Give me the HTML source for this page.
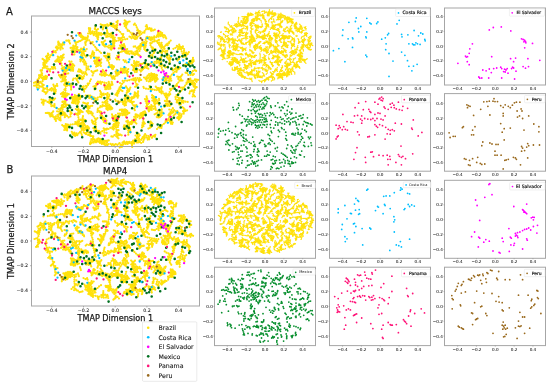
<!DOCTYPE html>
<html><head><meta charset="utf-8"><style>
html,body{margin:0;padding:0;background:#fff;}
svg{display:block;filter:blur(0.25px);font-family:'DejaVu Sans', 'Liberation Sans', sans-serif;}
</style></head><body>
<svg width="550" height="387" viewBox="0 0 550 387">
<rect width="550" height="387" fill="#fff"/>
<path d="M305.0 28.2h0M305.4 27.4h0M305.8 26.6h0M289.7 74.8h0M232.3 68.0h0M232.3 68.9h0M232.3 69.8h0M289.0 73.7h0M288.1 73.5h0M287.2 73.3h0M268.9 59.6h0M269.5 59.0h0M288.5 72.5h0M287.6 72.4h0M286.7 72.3h0M293.9 34.2h0M292.9 33.3h0M221.4 32.0h0M220.6 32.2h0M249.8 49.4h0M275.9 14.7h0M275.6 13.9h0M275.3 13.0h0M302.4 28.6h0M302.0 27.8h0M270.3 29.3h0M264.3 63.5h0M265.0 63.0h0M265.7 62.4h0M224.8 44.8h0M243.1 54.9h0M242.4 54.2h0M241.7 53.6h0M245.6 54.8h0M298.4 43.2h0M299.2 42.8h0M300.0 42.4h0M227.2 61.8h0M297.8 45.7h0M250.1 46.9h0M265.5 64.0h0M266.7 64.5h0M301.2 29.0h0M300.5 28.4h0M234.7 67.3h0M307.4 33.4h0M306.5 33.2h0M270.1 61.7h0M270.2 62.6h0M268.3 52.2h0M267.5 52.8h0M266.8 53.3h0M241.8 54.8h0M277.3 67.5h0M299.9 29.2h0M299.4 30.0h0M299.0 30.7h0M298.6 29.5h0M244.8 35.6h0M278.5 15.4h0M279.1 14.7h0M279.7 14.1h0M271.2 28.4h0M271.1 27.5h0M272.5 28.5h0M261.9 62.7h0M292.1 32.4h0M292.1 31.5h0M225.0 46.1h0M284.2 31.5h0M285.1 31.5h0M286.0 31.6h0M288.1 71.3h0M288.7 70.6h0M267.8 65.1h0M269.3 31.7h0M274.7 14.3h0M274.4 13.5h0M271.0 62.7h0M289.5 72.5h0M290.4 72.3h0M291.3 72.1h0M287.7 70.1h0M288.3 69.4h0M288.9 68.8h0M236.0 67.5h0M236.8 66.9h0M237.5 66.4h0M288.4 74.8h0M287.9 74.0h0M287.4 73.3h0M306.2 28.6h0M297.4 47.0h0M298.1 47.6h0M284.7 30.3h0M234.4 28.4h0M233.6 28.1h0M232.7 27.8h0M250.2 45.6h0M249.6 44.9h0M249.0 44.2h0M291.3 31.3h0M223.5 33.7h0M223.6 34.6h0M273.4 14.1h0M283.1 33.8h0M273.8 28.8h0M274.5 28.3h0M275.2 27.7h0M233.2 28.9h0M233.1 29.8h0M298.6 42.0h0M299.5 41.7h0M268.8 32.9h0M269.1 33.7h0M290.1 71.4h0M278.1 65.0h0M277.5 64.4h0M272.3 27.6h0M272.4 26.8h0M237.3 67.6h0M291.1 30.1h0M290.3 29.7h0M289.5 29.3h0M287.1 75.0h0M282.6 35.0h0M281.8 35.3h0M280.9 35.6h0M270.8 52.4h0M271.5 53.0h0M272.1 53.6h0M290.7 70.2h0M290.3 69.4h0M289.9 68.6h0M224.4 34.6h0M229.8 61.8h0M298.7 40.7h0M224.7 42.2h0M225.4 41.7h0M226.2 41.2h0M245.5 36.7h0M246.4 36.7h0M247.3 36.6h0M276.8 68.7h0M277.1 69.5h0M238.3 68.4h0M224.5 41.0h0M232.0 29.4h0M279.6 16.0h0M280.5 15.8h0M281.3 15.6h0M250.5 44.3h0M250.0 43.6h0M249.4 42.9h0M272.1 52.4h0M272.8 51.7h0M273.4 51.0h0M291.4 69.2h0M298.6 39.4h0M298.0 38.8h0M306.5 34.4h0M306.6 35.3h0M306.7 36.2h0M224.4 39.7h0M285.3 29.2h0M287.0 69.0h0M246.9 54.8h0M247.6 55.4h0M248.3 56.0h0M285.9 28.0h0M286.7 27.7h0M287.6 27.3h0M285.8 75.3h0M290.6 30.2h0M289.7 30.2h0M267.0 51.9h0M266.3 52.4h0M225.2 47.4h0M248.2 54.9h0M248.8 55.6h0M249.4 56.2h0M225.4 35.4h0M225.4 36.3h0M225.3 37.2h0M276.3 69.8h0M276.8 70.5h0M277.4 71.2h0M290.0 29.1h0M289.1 29.0h0M288.2 28.9h0M243.5 33.4h0M265.8 51.3h0M280.7 16.6h0M280.9 17.5h0M281.0 18.4h0M290.3 27.8h0M290.4 26.6h0M291.0 25.9h0M291.7 25.3h0M286.7 27.0h0M251.0 43.1h0M251.9 42.9h0M296.1 35.5h0M296.2 36.4h0M225.2 48.7h0M260.7 62.1h0M259.9 62.7h0M259.2 63.2h0M291.2 28.8h0M291.8 28.1h0M268.7 58.4h0M297.4 29.4h0M272.2 13.8h0M268.7 66.1h0M268.4 67.0h0M268.1 67.8h0M296.1 29.0h0M264.7 50.7h0M263.9 51.0h0M297.3 35.9h0M273.4 52.3h0M274.0 51.6h0M274.5 50.9h0M249.5 54.6h0M250.0 53.9h0M245.9 37.9h0M246.8 38.1h0M247.7 38.3h0M282.3 36.3h0M249.8 50.7h0M292.2 68.2h0M292.2 67.3h0M236.6 27.0h0M263.5 50.2h0M263.4 49.3h0M223.4 38.9h0M283.0 37.4h0M283.9 37.4h0M284.8 37.5h0M268.6 57.1h0M275.0 29.4h0M269.4 67.1h0M269.2 68.0h0M268.9 68.9h0M294.9 28.5h0M231.1 61.7h0M239.4 69.1h0M240.2 68.7h0M241.0 68.3h0M242.8 32.3h0M281.9 17.2h0M251.5 42.0h0M252.4 41.7h0M253.2 41.3h0M283.1 17.6h0M226.5 36.1h0M227.3 35.9h0M228.2 35.6h0M284.3 37.3h0M222.4 38.0h0M222.5 37.1h0M296.8 48.1h0M297.1 49.0h0M297.3 49.8h0M270.4 68.0h0M261.9 61.4h0M284.4 18.0h0M284.6 18.8h0M284.9 19.7h0M305.6 35.3h0M275.5 70.9h0M227.5 36.8h0M285.5 18.7h0M274.7 52.0h0M275.4 52.5h0M276.2 53.1h0M286.6 19.3h0M286.8 20.1h0M287.1 21.0h0M304.4 35.9h0M241.9 31.4h0M242.1 30.5h0M287.8 19.8h0M288.6 19.4h0M237.8 26.5h0M260.3 60.9h0M259.5 60.5h0M303.2 36.3h0M230.9 30.0h0M260.1 59.6h0M268.1 33.9h0M268.4 34.7h0M232.4 61.8h0M260.0 58.3h0M275.5 51.0h0M275.2 50.2h0M274.9 49.3h0M250.3 42.1h0M249.4 41.9h0M248.5 41.7h0M273.5 27.1h0M273.8 26.3h0M274.2 25.5h0M281.9 37.5h0M250.7 55.2h0M250.9 56.0h0M251.2 56.9h0M239.3 70.4h0M238.6 70.9h0M237.8 71.5h0M239.1 26.1h0M239.3 25.3h0M239.6 24.4h0M240.3 25.7h0M241.1 26.1h0M241.9 26.5h0M259.4 61.7h0M259.0 61.0h0M258.5 60.2h0M286.5 67.8h0M287.0 67.0h0M287.4 66.3h0M251.9 40.7h0M241.5 25.1h0M242.3 25.3h0M243.2 25.5h0M252.2 39.5h0M276.2 29.7h0M276.9 29.2h0M277.6 28.6h0M228.5 37.7h0M228.4 38.6h0M260.2 57.0h0M262.4 60.2h0M263.7 60.3h0M264.0 61.2h0M264.3 62.0h0M262.2 49.9h0M261.6 50.5h0M261.0 51.2h0M251.2 38.8h0M222.3 38.2h0M249.6 41.0h0M249.9 40.2h0M278.4 63.8h0M277.8 63.1h0M277.1 62.5h0M242.5 24.4h0M243.4 24.6h0M260.2 55.8h0M243.2 23.3h0M244.1 23.1h0M245.0 23.0h0M271.3 68.9h0M221.3 37.3h0M289.0 19.3h0M289.3 18.5h0M274.6 26.4h0M274.6 25.5h0M239.0 71.7h0M239.6 72.4h0M240.2 73.0h0M238.8 73.0h0M276.2 49.9h0M243.9 22.2h0M240.5 69.8h0M240.5 70.7h0M260.1 54.5h0M284.5 75.5h0M283.9 74.9h0M283.2 74.3h0M251.8 55.9h0M251.7 56.8h0M251.7 57.7h0M290.3 19.0h0M291.0 19.5h0M291.7 20.1h0M244.7 21.2h0M293.0 67.1h0M285.5 36.9h0M285.7 36.0h0M251.0 37.5h0M250.2 37.0h0M249.4 36.6h0M241.7 70.4h0M242.6 70.2h0M243.4 70.0h0M261.0 49.4h0M260.9 48.5h0M220.4 36.4h0M219.5 36.6h0M302.0 36.7h0M301.6 37.5h0M301.3 38.3h0M278.2 62.5h0M278.7 61.8h0M279.3 61.1h0M276.0 51.7h0M258.3 61.0h0M257.5 61.4h0M256.7 61.8h0M241.0 30.4h0M267.1 34.8h0M267.3 35.7h0M267.5 36.5h0M260.0 48.7h0M257.1 60.7h0M256.6 59.9h0M286.2 66.5h0M285.4 66.2h0M284.5 65.9h0M224.3 49.5h0M224.3 50.4h0M224.4 51.3h0M281.4 38.7h0M280.6 39.0h0M279.7 39.3h0M274.6 71.8h0M273.7 71.7h0M272.8 71.6h0M286.7 36.5h0M252.8 56.7h0M251.1 36.2h0M251.9 35.7h0M252.6 35.2h0M259.9 53.2h0M219.4 35.6h0M218.5 35.8h0M217.7 36.1h0M275.9 49.8h0M276.1 48.5h0M276.9 48.1h0M293.9 66.2h0M293.8 65.3h0M233.6 61.5h0M270.9 13.5h0M270.2 14.1h0M277.2 51.5h0M277.7 50.7h0M278.2 50.0h0M253.9 57.4h0M254.7 57.3h0M275.6 25.6h0M275.4 24.8h0M271.7 63.8h0M271.4 64.6h0M278.5 51.5h0M279.1 50.8h0M269.6 13.2h0M273.7 72.7h0M223.5 50.6h0M222.6 50.5h0M221.7 50.4h0M280.8 39.8h0M279.9 40.1h0M279.1 40.4h0M278.1 61.2h0M277.4 30.2h0M278.3 29.9h0M279.1 29.6h0M229.5 38.5h0M268.3 13.0h0M277.2 49.0h0M277.1 48.2h0M229.7 30.5h0M229.4 31.3h0M289.1 20.0h0M221.5 37.1h0M288.0 36.1h0M288.8 36.5h0M289.5 37.0h0M289.1 35.6h0M234.9 61.4h0M236.2 61.3h0M236.8 62.0h0M237.4 62.7h0M272.5 64.7h0M272.5 65.6h0M272.5 66.5h0M252.9 38.3h0M253.7 38.2h0M254.6 38.1h0M237.5 61.2h0M238.0 61.9h0M238.6 62.6h0M238.7 74.2h0M225.2 49.9h0M224.4 50.5h0M223.7 51.0h0M273.4 65.7h0M266.1 35.7h0M265.3 35.4h0M264.4 35.2h0M290.3 20.3h0M272.8 73.7h0M273.1 74.5h0M296.3 49.3h0M254.0 56.3h0M254.4 55.5h0M239.8 29.8h0M276.5 24.7h0M277.6 60.0h0M278.3 59.3h0M225.0 51.2h0M224.2 51.6h0M251.1 34.9h0M251.6 34.2h0M291.6 20.5h0M255.3 56.0h0M255.5 55.2h0M224.1 52.1h0M265.0 60.4h0M265.6 59.7h0M283.2 75.4h0M282.7 74.7h0M282.2 74.0h0M253.6 37.3h0M230.7 39.1h0M231.5 38.7h0M223.1 53.0h0M223.2 53.9h0M278.6 30.7h0M279.0 31.5h0M279.4 32.3h0M242.9 70.9h0M243.6 70.5h0M244.4 70.0h0M264.6 59.4h0M265.4 59.6h0M266.3 59.7h0M228.5 31.0h0M245.5 20.2h0M238.8 61.1h0M231.8 39.7h0M232.6 39.4h0M240.1 60.7h0M240.4 59.9h0M243.9 71.7h0M265.0 36.4h0M241.2 60.1h0M241.3 59.2h0M263.9 36.9h0M263.6 37.7h0M263.3 38.6h0M224.6 52.4h0M223.8 52.8h0M256.4 55.4h0M283.5 38.5h0M284.4 38.6h0M285.3 38.6h0M276.7 47.4h0M267.1 12.7h0M266.7 11.9h0M280.0 40.9h0M239.7 75.1h0M277.7 24.2h0M278.5 24.6h0M251.2 33.6h0M250.6 32.9h0M234.0 60.3h0M233.6 59.5h0M264.9 58.2h0M265.8 12.3h0M265.1 12.8h0M264.3 13.2h0M264.6 56.9h0M265.3 56.3h0M265.9 55.6h0M282.0 75.3h0M281.4 74.6h0M280.9 73.8h0M251.3 32.3h0M250.8 31.6h0M250.3 30.9h0M264.4 55.6h0M227.4 31.7h0M255.8 60.7h0M234.6 59.1h0M234.2 58.3h0M233.8 57.5h0M294.7 65.2h0M294.5 64.3h0M294.3 63.4h0M277.3 46.2h0M278.2 46.0h0M279.0 45.7h0M278.9 23.8h0M223.7 53.4h0M224.0 54.2h0M277.9 45.0h0M277.5 44.2h0M277.3 43.9h0M286.0 65.2h0M286.6 64.6h0M287.2 63.9h0M277.3 58.7h0M295.9 50.5h0M296.2 51.3h0M296.6 52.2h0M240.5 54.6h0M240.1 53.8h0M277.2 57.4h0M277.8 56.8h0M278.3 56.1h0M233.0 40.1h0M233.4 41.0h0M287.1 65.6h0M286.8 64.7h0M244.9 72.5h0M275.2 47.6h0M279.8 51.6h0M276.9 56.2h0M277.5 55.5h0M278.0 54.8h0M254.8 61.6h0M254.7 62.5h0M296.0 64.9h0M235.2 58.0h0M280.7 75.4h0M280.0 74.7h0M253.7 62.2h0M253.6 63.1h0M278.2 57.7h0M279.1 57.8h0M280.0 57.8h0M246.4 19.3h0M276.8 42.7h0M275.9 42.5h0M264.7 11.8h0M264.5 10.9h0M251.3 31.1h0M239.2 54.5h0M252.6 62.8h0M280.2 23.4h0M280.5 22.6h0M280.9 21.8h0M263.9 54.4h0M280.6 52.6h0M251.5 63.6h0M250.7 63.4h0M249.8 63.1h0M246.5 18.0h0M247.3 17.6h0M248.1 17.1h0M250.4 64.2h0M249.5 63.9h0M248.7 63.6h0M237.9 54.5h0M274.3 46.7h0M273.4 46.8h0M275.6 55.9h0M247.2 18.2h0M248.1 18.2h0M276.3 41.5h0M276.7 40.7h0M232.3 40.9h0M233.2 41.1h0M283.9 39.8h0M281.5 53.6h0M271.9 74.6h0M286.0 63.9h0M232.6 42.2h0M231.9 42.8h0M279.7 31.4h0M279.8 32.3h0M279.8 33.2h0M263.5 11.1h0M262.7 11.3h0M261.8 11.6h0M248.0 17.2h0M248.5 16.0h0M248.0 15.3h0M247.4 14.5h0M295.5 64.2h0M259.0 47.9h0M282.4 54.5h0M283.3 54.5h0M296.5 63.3h0M296.3 62.4h0M249.3 15.0h0M249.1 14.1h0M248.8 13.3h0M292.8 21.1h0M233.1 43.4h0M233.9 43.5h0M234.8 43.6h0M281.1 51.4h0M281.7 50.7h0M280.1 74.2h0M279.2 74.1h0M233.6 44.6h0M240.7 75.9h0M257.8 47.3h0M251.5 29.8h0M252.2 29.3h0M253.0 28.9h0M284.3 41.0h0M283.8 41.7h0M283.4 42.5h0M223.0 54.5h0M222.1 54.5h0M221.2 54.5h0M284.6 42.2h0M284.1 43.0h0M283.6 43.7h0M249.7 15.5h0M241.9 76.4h0M241.9 77.3h0M246.2 72.9h0M247.0 72.4h0M250.4 14.3h0M250.6 13.5h0M297.2 62.2h0M297.1 61.4h0M236.6 54.2h0M279.1 56.8h0M283.3 55.4h0M247.4 73.3h0M247.8 74.2h0M248.2 75.0h0M243.0 77.1h0M243.8 76.9h0M244.7 76.6h0M234.3 40.4h0M284.4 56.2h0M250.9 15.2h0M239.4 75.3h0M298.2 61.4h0M262.6 37.3h0M261.8 36.9h0M261.0 36.4h0M275.9 40.3h0M275.0 40.0h0M279.9 72.9h0M295.3 51.7h0M295.6 52.5h0M295.9 53.3h0M273.3 45.8h0M273.4 44.9h0M285.1 43.4h0M297.3 64.8h0M297.7 65.6h0M274.4 56.3h0M273.6 55.8h0M272.9 55.2h0M282.4 51.2h0M283.1 51.8h0M281.3 22.8h0M281.6 21.9h0M281.9 21.1h0M235.3 53.9h0M246.6 16.7h0M247.3 16.2h0M248.1 15.8h0M251.6 13.8h0M252.4 14.3h0M253.2 14.7h0M251.3 14.0h0M250.8 13.3h0M251.4 28.5h0M250.7 27.9h0M282.4 22.1h0M282.6 21.2h0M282.8 20.4h0M273.2 56.7h0M272.7 57.5h0M272.3 58.3h0M234.3 45.6h0M234.0 46.4h0M288.0 64.7h0M288.0 63.8h0M287.9 62.9h0M283.7 51.2h0M284.1 50.4h0M284.6 49.6h0M272.3 45.0h0M252.2 15.1h0M252.7 14.4h0M289.1 64.0h0M290.0 64.2h0M290.9 64.4h0M286.0 62.7h0M271.3 44.2h0M271.2 43.3h0M261.4 37.7h0M260.6 37.2h0M259.9 36.7h0M256.6 46.9h0M255.8 47.3h0M279.4 75.5h0M278.6 75.0h0M242.3 59.3h0M243.1 59.6h0M285.6 44.6h0M243.4 58.7h0M244.2 59.1h0M235.6 40.5h0M279.6 71.7h0M280.2 71.1h0M249.3 65.0h0M248.6 73.7h0M249.4 73.1h0M248.5 65.9h0M247.6 65.8h0M246.7 65.6h0M234.1 53.5h0M233.8 52.7h0M286.2 45.8h0M285.9 46.6h0M247.6 66.9h0M236.9 40.6h0M237.5 41.3h0M255.3 46.5h0M255.1 45.6h0M235.3 46.5h0M236.2 46.5h0M280.5 70.7h0M285.0 51.1h0M285.5 51.8h0M286.0 52.5h0M286.5 47.0h0M287.3 47.5h0M238.2 40.5h0M238.7 39.8h0M239.3 39.1h0M299.0 60.4h0M298.9 59.5h0M298.8 58.6h0M239.5 40.3h0M240.1 41.0h0M232.8 53.4h0M232.2 52.7h0M290.2 63.2h0M290.4 62.4h0M290.5 61.5h0M240.7 75.6h0M222.2 55.5h0M221.3 55.6h0M220.4 55.6h0M291.3 62.6h0M275.5 39.1h0M299.8 59.4h0M299.8 58.5h0M299.7 57.6h0M246.5 67.7h0M246.4 68.6h0M246.4 69.4h0M254.0 46.3h0M251.2 27.2h0M251.8 26.5h0M252.4 25.8h0M299.7 58.1h0M260.1 37.8h0M259.4 37.2h0M286.2 50.7h0M231.5 53.5h0M231.1 54.3h0M230.8 55.1h0M294.4 52.6h0M244.2 77.6h0M244.5 78.4h0M240.8 40.3h0M251.1 25.9h0M299.7 56.8h0M299.0 56.3h0M298.2 55.8h0M230.5 52.7h0M275.4 37.8h0M270.4 43.2h0M270.7 42.4h0M271.0 41.6h0M269.6 42.2h0M269.0 41.1h0M269.4 40.3h0M269.7 39.4h0M293.6 53.6h0M275.2 36.5h0M274.4 36.1h0M273.6 35.6h0M249.8 74.3h0M251.0 74.8h0M251.8 74.3h0M252.6 73.9h0M292.5 62.0h0M293.3 62.4h0M294.1 62.7h0M236.1 47.5h0M236.6 46.5h0M237.1 45.7h0M285.2 57.2h0M286.1 57.2h0M268.9 39.8h0M281.2 69.7h0M245.4 68.2h0M244.5 67.9h0M243.7 67.6h0M230.2 53.5h0M229.6 52.8h0M229.0 52.2h0M299.8 55.5h0M299.1 54.9h0M298.5 54.3h0M285.9 61.4h0M286.6 60.9h0M275.0 35.2h0M274.1 34.9h0M242.1 40.1h0M293.1 60.9h0M276.1 35.6h0M271.0 75.5h0M293.7 59.7h0M293.3 59.0h0M237.9 46.6h0M252.3 75.0h0M253.0 74.5h0M251.1 24.6h0M251.7 24.0h0M236.7 48.7h0M236.2 49.4h0M235.7 50.2h0M258.8 37.6h0M228.9 53.8h0M228.3 53.2h0M227.6 52.6h0M251.1 23.3h0M250.5 22.7h0M274.7 34.0h0M273.9 33.6h0M237.2 49.9h0M294.2 58.6h0M229.6 51.8h0M228.7 51.9h0M227.8 52.1h0M270.0 76.4h0M269.9 77.2h0M299.8 54.2h0M300.5 53.6h0M301.1 53.0h0M239.1 46.9h0M245.5 77.9h0M281.6 68.5h0M281.3 67.7h0M278.1 75.8h0M298.6 54.0h0M297.9 54.7h0M297.3 55.3h0M277.0 34.6h0M251.2 22.1h0M273.8 33.1h0M238.1 50.8h0M239.0 50.6h0M240.3 47.4h0M240.7 48.3h0M300.0 53.0h0M300.9 52.6h0M301.7 52.3h0M282.5 67.5h0M282.3 66.6h0M282.2 65.7h0M292.8 54.6h0M300.7 58.4h0M246.7 78.3h0M257.5 37.3h0M256.9 38.0h0M256.3 38.6h0M301.2 57.2h0M300.9 56.4h0M241.6 47.8h0M242.3 47.2h0M300.3 51.7h0M299.8 51.0h0M299.3 50.3h0M251.4 20.8h0M252.2 20.3h0M253.0 19.9h0M300.5 50.4h0M247.9 78.6h0M268.9 76.9h0M268.7 77.8h0M268.5 78.7h0M267.7 77.6h0M300.8 49.2h0M242.8 48.0h0M243.2 48.8h0M249.2 78.9h0M249.9 78.3h0M258.1 36.5h0M257.3 36.3h0M256.4 36.0h0M244.1 48.4h0M244.6 49.2h0M253.6 75.1h0M254.8 75.4h0M256.1 75.6h0M256.8 75.0h0M251.8 19.6h0M252.7 19.4h0M257.4 75.7h0M258.0 76.4h0M258.5 77.1h0M258.7 75.8h0M259.1 76.6h0M259.5 77.4h0M295.4 58.0h0M266.7 78.3h0M266.5 79.2h0M265.7 79.1h0M265.8 80.0h0M268.7 38.5h0M260.0 76.0h0M260.5 76.8h0M253.0 19.0h0M253.8 19.4h0M245.3 48.9h0M245.5 49.8h0M245.7 50.6h0M276.8 75.6h0M276.4 74.8h0M291.8 55.5h0M291.0 55.3h0M290.1 55.1h0M245.8 50.1h0M290.8 56.3h0M250.5 79.2h0M251.2 78.7h0M251.9 78.1h0M254.2 18.6h0M264.6 79.8h0M264.5 80.7h0M269.9 38.0h0M289.7 57.1h0M271.1 37.5h0M272.0 37.8h0M255.4 18.0h0M255.4 17.1h0M255.4 16.2h0M271.7 38.7h0M271.3 39.5h0M270.9 40.3h0M289.8 58.4h0M290.5 58.9h0M291.2 59.5h0M257.5 35.4h0M257.7 34.5h0M301.4 48.0h0M300.9 47.3h0M256.7 34.3h0M263.4 80.4h0M301.8 46.8h0M302.7 46.5h0M303.5 46.2h0M251.7 79.7h0M251.9 80.6h0M252.1 81.5h0M302.4 45.6h0M301.9 44.9h0M261.3 76.1h0M256.5 17.3h0M256.0 33.2h0M262.6 76.2h0M263.2 75.5h0M289.2 59.5h0M289.8 60.2h0M290.3 61.0h0M257.6 16.6h0M257.5 15.7h0M257.4 14.8h0M302.9 44.4h0M255.3 32.2h0M255.5 31.3h0M255.8 30.5h0M303.4 43.2h0M303.0 42.4h0M303.8 42.0h0M263.8 75.7h0M264.6 76.1h0M262.2 80.9h0M261.9 81.7h0M261.6 82.6h0M304.3 40.8h0M303.8 40.1h0M303.2 39.4h0M304.8 39.7h0M304.5 38.8h0M304.1 38.0h0M258.7 16.0h0M259.8 15.3h0M261.0 14.9h0M261.9 15.2h0M262.7 15.5h0M255.1 30.9h0M262.3 14.7h0M262.7 13.9h0M260.9 81.2h0M259.6 81.1h0M259.0 80.5h0M263.0 15.8h0M255.8 29.8h0M256.6 28.8h0M263.6 16.9h0M263.3 17.8h0M263.0 18.6h0M264.3 18.0h0M263.9 18.8h0M264.6 19.3h0M265.4 19.7h0M257.6 27.9h0M258.4 28.1h0M258.7 27.3h0M258.8 26.5h0M259.9 26.8h0M260.7 27.2h0M265.0 20.5h0M265.8 21.0h0M266.5 21.5h0M265.3 21.8h0M265.6 23.0h0M265.1 23.7h0M261.1 26.4h0M261.8 27.0h0M262.2 25.6h0M262.2 24.7h0M262.1 23.9h0M266.0 24.3h0M266.5 25.5h0M265.9 26.2h0M267.0 26.6h0M266.7 27.9h0M265.9 28.2h0M266.0 29.0h0M265.5 30.2h0M264.6 30.4h0M264.9 31.3h0M264.1 31.6h0M279.0 65.7h0M245.9 21.5h0M246.3 22.3h0M246.7 23.1h0M247.1 21.9h0M247.8 21.3h0M235.4 68.5h0M286.5 17.8h0M287.4 17.9h0M288.3 17.9h0M287.4 16.9h0M288.2 17.1h0M289.1 17.3h0M298.1 30.6h0M297.5 31.8h0M263.6 31.6h0M263.1 32.3h0M262.4 31.8h0M261.1 32.1h0M260.6 32.8h0M260.1 33.6h0M259.9 31.7h0M259.0 32.0h0M258.2 32.4h0M287.6 21.1h0M288.2 21.8h0M288.8 22.4h0M287.3 22.3h0M290.2 36.3h0M291.4 36.9h0M292.4 37.7h0M293.4 38.6h0M294.2 38.3h0M294.4 39.4h0M294.6 40.2h0M294.7 41.1h0M294.6 40.6h0M293.9 41.2h0M294.4 41.9h0M294.2 43.2h0M294.3 44.5h0M293.7 45.2h0M293.5 45.5h0M292.6 45.6h0M291.7 45.6h0M293.2 44.0h0M292.3 43.9h0M291.4 43.8h0M292.5 46.3h0M292.3 44.9h0M291.5 47.2h0M291.4 48.0h0M291.3 48.9h0M276.3 50.4h0M261.8 36.3h0M277.3 63.1h0M277.3 62.2h0M276.0 62.8h0M249.7 37.2h0M249.3 36.4h0M276.3 35.7h0M277.4 35.2h0M278.2 35.6h0M279.0 36.0h0M278.6 35.6h0M278.8 36.5h0M280.1 76.5h0M279.6 77.7h0M279.4 61.9h0M279.4 61.0h0M279.5 60.1h0M280.5 61.4h0M280.8 60.5h0M281.1 59.7h0M281.6 60.6h0M282.2 59.5h0M286.4 73.9h0M257.7 46.1h0M256.9 45.7h0M258.0 44.8h0M257.5 44.1h0M258.2 43.5h0M258.9 42.4h0M259.9 41.6h0M260.8 41.8h0M241.9 30.1h0M242.5 28.9h0M302.1 29.9h0M302.2 31.2h0M301.5 31.7h0M300.8 32.3h0M302.1 32.4h0M301.4 33.0h0M280.6 42.0h0M281.4 42.3h0M252.5 21.8h0M253.0 21.1h0M253.6 20.4h0M253.8 21.6h0M254.4 20.9h0M254.9 20.2h0M237.5 73.2h0M277.9 52.6h0M278.7 52.9h0M278.6 25.0h0M279.8 25.7h0M279.9 26.6h0M280.0 27.5h0M280.9 26.3h0M282.0 26.9h0M284.6 55.2h0M285.9 54.9h0M286.6 55.6h0M287.2 56.2h0M235.5 60.3h0M236.4 60.3h0M236.3 59.3h0M274.7 56.8h0M273.8 56.8h0M273.7 57.7h0M273.7 58.6h0M272.8 58.6h0M272.0 58.5h0M240.3 71.1h0M280.6 71.0h0M281.4 71.4h0M281.8 70.3h0M282.5 70.8h0M278.7 16.6h0M278.9 17.9h0M279.0 19.2h0M279.8 19.6h0M280.6 20.0h0M247.7 19.4h0M248.2 20.2h0M284.9 74.4h0M284.0 74.4h0M284.0 73.4h0M283.1 73.3h0M282.3 73.2h0M290.6 55.2h0M233.0 30.2h0M232.9 31.5h0M232.1 31.8h0M232.6 32.7h0M232.1 33.9h0M231.2 34.0h0M230.3 34.0h0M231.3 34.9h0M230.4 34.8h0M270.4 51.3h0M271.4 50.5h0M272.1 75.9h0M271.5 76.6h0M271.0 77.3h0M272.2 77.2h0M272.4 78.4h0M272.6 79.7h0M272.0 80.4h0M271.4 81.0h0M273.9 80.0h0M241.5 32.5h0M240.9 31.9h0M240.2 32.5h0M238.9 32.4h0M239.7 33.7h0M239.1 34.8h0M239.5 35.6h0M239.9 36.4h0M238.5 35.9h0M237.5 36.8h0M237.7 37.7h0M291.4 71.2h0M292.6 70.7h0M292.8 69.8h0M293.0 69.0h0M293.6 71.5h0M294.7 72.3h0M294.8 73.1h0M294.8 74.0h0M247.5 17.2h0M247.5 16.3h0M242.0 49.0h0M242.6 50.1h0M242.3 51.0h0M259.2 46.6h0M260.0 46.1h0M260.7 45.6h0M228.0 38.9h0M227.2 39.0h0M226.3 39.1h0M228.2 40.1h0M229.0 40.6h0M229.8 41.0h0M228.5 41.4h0M227.9 42.1h0M227.3 42.8h0M228.9 42.6h0M229.0 43.9h0M229.6 44.6h0M230.2 45.2h0M229.2 45.2h0M229.9 45.7h0M229.3 46.5h0M229.7 47.7h0M239.8 72.7h0M240.7 72.7h0M241.6 72.6h0M296.1 27.7h0M296.1 26.4h0M295.3 26.0h0M296.0 25.1h0M295.2 24.6h0M296.2 23.8h0M295.5 23.2h0M274.9 15.4h0M274.0 15.3h0M273.9 16.2h0M272.7 16.8h0M271.9 16.4h0M271.7 17.6h0M271.6 18.5h0M271.6 19.4h0M270.6 18.3h0M269.6 19.2h0M268.8 20.2h0M268.8 21.0h0M268.8 21.9h0M276.9 60.6h0M276.8 59.7h0M281.8 52.5h0M282.7 52.6h0M283.6 52.7h0M262.2 15.5h0M263.0 15.0h0M263.5 15.3h0M293.1 52.7h0M291.8 52.6h0M291.3 53.3h0M240.2 41.4h0M240.8 42.5h0M241.7 42.6h0M241.4 43.7h0M242.7 44.0h0M243.9 44.4h0M245.1 44.1h0M246.4 43.9h0M272.7 13.0h0M271.7 12.2h0M237.0 45.2h0M236.6 44.4h0M236.2 43.7h0M237.7 46.3h0M237.5 47.2h0M237.3 48.1h0M255.6 47.8h0M254.6 48.5h0M258.4 14.7h0M258.1 13.4h0M258.0 12.2h0M258.6 11.5h0M259.2 10.8h0M293.9 32.9h0M292.9 32.0h0M268.3 42.4h0M267.0 42.5h0M266.3 41.9h0M265.7 42.5h0M265.1 43.1h0M264.4 43.7h0M264.4 42.3h0M263.7 42.9h0M263.0 43.4h0M243.6 25.2h0M243.7 26.0h0M244.7 25.8h0M245.8 26.5h0M246.7 26.4h0M247.6 26.3h0M246.7 27.4h0M247.6 27.4h0M247.6 28.3h0M247.4 29.2h0M247.2 30.1h0M278.3 56.9h0M284.3 37.5h0M285.5 37.6h0M249.4 72.7h0M250.4 71.8h0M251.3 71.9h0M252.2 72.0h0M251.5 71.1h0M251.7 70.3h0M251.8 69.4h0M252.6 70.5h0M253.5 70.6h0M254.4 70.8h0M253.8 69.9h0M254.0 69.0h0M254.8 69.1h0M254.8 68.2h0M254.8 67.3h0M256.0 68.5h0M257.2 67.9h0M258.0 68.3h0M258.8 68.7h0M258.4 67.7h0M259.7 67.7h0M261.0 68.1h0M261.8 67.6h0M262.5 67.2h0M262.2 68.4h0M262.6 69.2h0M262.9 70.0h0M263.5 68.8h0M264.7 69.0h0M265.0 69.9h0M265.3 70.7h0M266.0 69.3h0M266.7 70.4h0M266.2 71.2h0M267.2 71.6h0M267.3 72.9h0M266.7 73.6h0M266.2 74.3h0M266.4 50.7h0M265.6 50.5h0M264.7 50.3h0M266.3 49.4h0M265.6 49.0h0M264.8 48.5h0M266.1 48.2h0M266.6 47.5h0M267.2 46.7h0M265.8 46.9h0M278.1 15.9h0M279.0 15.8h0M279.0 16.8h0M300.3 28.1h0M300.5 27.2h0M300.7 26.3h0M245.2 53.8h0M246.1 35.5h0M246.6 34.8h0M246.4 34.2h0M247.2 33.9h0M246.9 33.0h0M246.4 32.3h0M256.2 61.6h0M255.3 62.5h0M254.4 62.4h0M253.5 62.2h0M253.2 40.7h0M253.7 40.0h0M254.2 39.3h0M254.5 40.7h0M255.1 40.1h0M268.5 13.9h0M267.5 14.8h0M284.4 50.1h0M284.0 49.3h0M283.5 48.5h0M276.5 38.2h0M277.4 38.1h0M283.6 35.8h0M284.5 35.6h0M229.6 54.7h0M229.9 55.5h0M229.1 55.8h0M229.5 56.7h0M229.8 57.5h0M228.5 57.0h0M228.8 57.8h0M227.9 58.1h0M227.0 58.2h0M301.9 58.8h0M302.3 59.6h0M302.7 60.4h0M303.2 59.2h0M303.4 60.0h0M304.4 59.4h0M304.7 60.3h0M305.0 61.1h0M305.7 59.8h0M306.4 59.3h0M307.2 58.8h0M289.9 58.3h0M254.2 19.5h0M255.0 19.2h0M275.0 48.8h0M274.1 49.0h0M263.1 15.7h0M264.0 15.9h0M263.7 16.9h0M260.9 16.0h0M242.2 33.4h0M241.7 32.7h0M300.3 60.7h0M301.0 60.1h0M257.9 76.9h0M257.3 77.6h0M265.0 35.1h0M264.7 34.2h0M264.5 33.4h0M263.8 35.6h0M263.0 35.2h0M284.0 16.6h0M284.9 15.7h0M245.1 37.9h0M244.2 38.2h0M243.4 38.5h0M265.0 37.7h0M264.4 38.3h0M300.9 54.9h0M269.7 40.0h0M275.5 34.5h0M275.1 33.3h0M274.2 33.0h0M242.0 75.8h0M242.6 75.2h0M243.3 75.9h0M288.8 71.5h0M287.9 71.4h0M287.0 71.2h0M230.7 52.5h0M231.0 51.6h0M229.8 51.5h0M230.0 50.7h0M270.3 61.3h0M305.2 34.5h0M282.5 74.4h0M281.6 74.4h0M255.9 27.7h0M255.3 26.6h0M255.0 25.3h0M254.1 25.1h0M255.4 62.7h0M254.9 63.5h0M254.5 64.2h0M256.0 63.9h0M255.6 64.6h0M284.8 36.1h0M250.9 50.2h0M251.1 51.0h0M251.9 51.1h0M252.9 51.9h0M253.0 52.8h0M253.1 53.6h0M254.0 52.6h0M238.1 68.7h0M239.4 68.9h0M240.1 68.4h0M240.9 67.9h0M247.6 16.0h0M248.0 15.2h0M248.5 14.4h0M263.8 38.2h0M264.4 38.8h0M255.3 45.2h0M238.0 25.2h0M237.4 24.5h0M236.8 23.9h0M238.2 23.9h0M239.0 23.6h0M239.8 23.2h0M238.4 22.7h0M237.8 21.9h0M238.3 21.4h0M238.4 20.1h0M238.6 18.8h0M238.7 17.5h0M278.3 57.9h0M279.3 57.0h0M279.2 52.5h0M280.4 53.2h0M294.0 51.7h0M293.3 51.1h0M292.7 50.5h0M292.7 51.6h0M291.4 51.4h0M290.7 51.9h0M290.0 52.4h0M236.2 68.7h0M236.9 69.3h0M237.6 69.9h0M271.0 45.2h0M270.5 45.9h0M270.0 46.7h0M269.8 45.5h0M269.4 46.3h0M269.0 47.1h0M235.4 48.6h0M234.5 48.8h0M235.0 49.8h0M245.3 76.9h0M271.4 76.8h0M272.2 77.2h0M273.0 77.5h0M272.5 28.8h0M273.3 28.5h0M274.1 28.2h0M273.7 29.3h0M256.9 74.6h0M257.8 74.7h0M258.7 74.7h0M257.8 73.6h0M258.7 73.7h0M258.7 72.7h0M259.8 72.0h0M260.0 71.1h0M267.2 24.7h0M267.5 25.6h0M268.4 25.2h0M300.7 56.0h0M301.6 56.0h0M302.5 56.1h0M301.7 55.2h0M235.1 47.8h0M235.8 48.4h0M235.0 49.1h0M234.2 49.5h0M233.4 49.9h0M256.6 18.4h0M257.8 18.8h0M258.6 18.4h0M259.0 19.4h0M259.7 18.8h0M260.2 19.9h0M261.1 20.8h0M261.4 22.1h0M233.0 45.7h0M264.7 29.0h0M306.3 32.7h0M305.4 33.0h0M304.6 33.3h0M303.7 45.3h0M304.9 45.1h0M305.6 45.8h0M306.2 45.0h0M306.9 45.5h0M307.7 46.1h0M307.5 44.7h0M308.8 44.6h0M309.4 45.2h0M310.1 45.8h0M309.2 43.3h0M308.7 42.6h0M308.2 41.8h0M309.1 42.1h0M309.7 41.4h0M310.4 40.8h0M310.1 44.4h0M310.8 45.0h0M309.1 40.8h0M308.3 40.3h0M307.5 39.9h0M309.0 39.5h0M309.7 38.9h0M310.3 38.3h0M309.1 38.2h0M308.4 37.7h0M311.4 44.3h0M312.1 44.9h0M312.7 45.5h0M309.4 36.9h0M310.2 36.5h0M311.0 36.2h0M278.9 73.9h0M269.1 43.5h0M268.6 42.8h0M267.9 43.7h0M230.8 51.4h0M230.4 50.6h0M261.7 61.4h0M241.3 39.1h0M242.1 38.7h0M289.5 71.7h0M290.3 72.0h0M291.2 72.4h0M270.2 44.8h0M269.0 44.3h0M237.2 62.1h0M238.1 62.0h0M239.0 61.8h0M237.9 63.2h0M238.8 63.2h0M238.9 64.0h0M239.9 64.9h0M239.6 65.8h0M286.8 64.3h0M272.2 26.4h0M272.2 25.1h0M272.2 23.8h0M272.0 22.5h0M271.3 22.0h0M273.0 21.6h0M273.9 21.8h0M274.8 22.0h0M273.9 20.7h0M273.7 19.8h0M273.5 18.9h0M271.6 73.2h0M287.5 46.0h0M287.7 47.3h0M289.3 30.4h0M288.6 31.5h0M288.9 32.3h0M289.2 33.2h0M246.9 71.8h0M243.5 59.8h0M244.6 60.5h0M244.8 61.3h0M245.0 62.2h0M245.6 61.3h0M246.4 61.2h0M247.3 61.2h0M246.7 62.0h0M235.2 59.8h0M244.9 19.1h0M244.0 18.8h0M243.1 18.5h0M244.4 17.9h0M243.8 16.7h0M242.9 16.6h0M242.0 16.6h0M289.1 73.6h0M288.4 72.6h0M287.5 72.5h0M254.1 76.3h0M254.7 77.4h0M228.5 29.8h0M228.4 28.9h0M227.6 28.9h0M226.8 27.9h0M225.9 27.9h0M225.0 28.0h0M225.7 27.2h0M224.5 26.9h0M277.8 25.1h0M278.4 24.5h0M279.1 23.9h0M303.1 46.5h0M303.8 47.0h0M266.0 50.0h0M265.3 49.5h0M264.5 48.9h0M259.5 36.7h0M259.1 35.4h0M251.1 14.0h0M250.5 13.3h0M233.6 46.7h0M232.7 46.8h0M231.8 47.0h0M233.6 48.0h0M299.4 58.2h0M300.0 57.4h0M300.5 56.7h0M292.2 31.1h0M223.9 54.7h0M223.2 55.3h0M222.5 55.8h0M224.0 56.0h0M223.5 56.7h0M223.0 57.4h0M223.9 57.3h0M224.5 58.0h0M225.1 58.7h0M223.9 58.6h0M223.1 59.0h0M222.3 59.5h0M266.4 27.8h0M299.0 28.3h0M243.3 35.6h0M242.4 35.5h0M241.5 35.4h0M231.9 62.7h0M231.7 63.6h0M231.4 64.4h0M233.0 63.5h0M283.6 74.5h0M247.2 65.7h0M246.5 66.3h0M245.7 66.8h0M245.9 65.7h0M245.4 64.9h0M244.6 65.3h0M244.4 64.4h0M228.5 32.3h0M257.6 18.0h0M257.6 18.9h0M242.4 60.7h0M260.2 47.4h0M235.8 58.7h0M236.6 59.1h0M237.4 59.5h0M267.5 14.0h0M282.8 38.4h0M283.7 38.2h0M270.4 12.3h0M269.2 11.9h0M261.7 48.7h0M260.9 48.3h0M260.1 48.0h0M261.4 47.4h0M260.5 47.2h0M259.7 46.9h0M285.7 69.3h0M285.5 70.1h0M297.0 65.7h0M297.2 66.6h0M298.2 66.1h0M298.7 66.8h0M299.2 67.6h0M299.4 66.6h0M299.6 67.4h0M299.8 68.3h0M223.5 40.2h0M222.3 39.6h0M222.3 38.7h0M222.2 37.8h0M284.8 38.7h0M285.5 55.7h0M286.6 54.9h0M287.4 55.1h0M229.5 39.8h0M259.3 77.0h0M260.1 77.4h0M275.3 47.5h0M275.7 46.7h0M274.9 46.3h0M296.7 28.2h0M296.9 27.4h0M295.5 27.8h0M295.1 66.7h0M295.8 66.2h0M295.6 67.9h0M280.6 15.2h0M280.6 14.3h0M281.2 14.1h0M280.9 13.2h0M240.7 75.2h0M241.4 75.8h0M242.1 76.3h0M280.6 52.7h0M256.0 31.1h0M234.6 68.0h0M234.9 68.9h0M235.7 68.8h0M236.5 68.5h0M235.6 26.4h0M235.6 25.1h0M236.4 24.7h0M290.8 21.5h0M291.1 22.8h0M284.1 44.2h0M283.3 45.2h0M282.7 46.4h0M281.8 47.3h0M281.9 48.2h0M278.6 29.6h0M278.6 28.7h0M281.3 76.4h0M280.7 77.5h0M240.6 68.6h0M243.2 21.1h0M243.5 20.2h0M243.8 19.4h0M233.0 54.3h0M233.0 55.2h0M251.5 62.1h0M250.6 62.4h0M250.7 61.1h0M249.8 60.9h0M249.0 60.7h0M250.6 59.8h0M249.9 59.2h0M264.0 62.3h0M271.0 38.8h0M271.8 38.7h0M272.7 38.6h0M271.9 39.8h0M286.8 20.6h0M287.1 21.8h0M287.3 23.1h0M281.8 15.9h0M282.9 15.2h0M283.7 15.4h0M275.5 68.9h0M275.1 69.7h0M274.7 70.5h0M289.6 72.6h0M289.2 71.7h0M288.9 70.9h0M246.6 53.9h0M246.3 53.0h0M252.3 35.7h0M253.0 36.3h0M295.1 49.4h0M294.5 50.1h0M293.9 50.8h0M290.0 31.8h0M289.2 31.4h0M288.4 31.0h0M288.7 31.9h0M288.1 31.3h0M287.5 30.6h0M283.4 30.4h0M283.7 29.6h0M284.0 28.8h0M267.8 51.0h0M266.9 50.7h0M266.5 51.3h0M265.7 50.8h0M265.0 50.4h0M302.5 42.3h0M238.3 62.2h0M239.2 62.4h0M240.1 62.6h0M303.0 41.0h0M302.1 41.1h0M301.2 41.2h0M236.7 25.8h0M236.0 25.2h0M235.3 24.7h0M236.0 24.7h0M236.2 23.8h0M234.8 24.1h0M304.2 27.3h0M260.5 77.2h0M261.3 77.4h0M262.2 77.7h0M268.5 78.2h0M267.7 78.6h0M266.9 79.0h0M267.8 79.2h0M277.3 43.9h0M276.5 42.8h0M276.9 42.0h0M277.2 41.2h0M257.2 61.7h0M230.5 62.9h0M230.1 63.7h0M229.8 64.5h0M231.3 63.9h0M232.2 64.0h0M233.1 64.1h0M248.5 72.8h0M286.5 37.7h0M287.5 38.5h0M288.4 38.5h0M289.3 38.4h0M295.9 65.5h0M296.2 66.4h0M296.4 67.2h0M297.2 65.8h0M287.8 75.9h0M286.7 76.7h0M247.7 68.2h0M245.4 67.1h0M245.0 66.3h0M275.6 42.3h0M275.4 41.4h0M275.2 40.5h0M233.2 27.9h0M232.0 27.4h0M231.9 26.5h0M231.7 25.6h0M230.9 26.7h0M230.1 27.1h0M230.0 25.7h0M229.2 24.7h0M228.2 23.9h0M228.3 23.0h0M228.4 22.1h0M287.0 65.5h0M287.8 64.5h0M287.8 63.6h0M223.7 44.2h0M222.6 44.9h0M221.7 44.6h0M220.9 44.3h0M221.7 45.8h0M220.8 46.8h0M220.4 48.0h0M221.0 48.7h0M221.6 49.3h0M219.7 49.1h0M252.1 37.3h0M252.4 36.4h0M300.8 57.6h0M233.4 41.4h0M234.2 41.8h0M234.9 42.3h0M252.3 22.8h0M253.1 23.1h0M254.0 23.4h0M301.3 52.6h0M302.0 53.1h0M223.4 52.9h0M222.6 52.5h0M250.3 63.4h0M249.5 63.9h0M248.8 64.5h0M275.2 49.8h0M275.8 49.1h0M226.2 31.2h0M225.4 31.5h0M247.0 17.0h0M256.1 30.1h0M257.0 30.2h0M257.9 30.2h0M233.2 60.8h0M233.1 59.9h0M233.0 59.0h0M234.2 60.0h0M221.1 38.7h0M220.7 39.5h0M224.4 50.8h0M289.4 18.1h0M239.9 74.8h0M241.1 75.2h0M241.9 74.7h0M258.2 36.4h0M257.3 36.4h0M257.7 35.3h0M251.5 38.5h0M251.7 37.6h0M246.1 47.9h0M287.5 37.5h0M288.4 37.6h0M289.3 37.6h0M255.9 74.7h0M261.1 27.4h0M261.8 26.9h0M262.5 26.3h0M287.2 66.7h0M284.9 45.7h0M285.3 46.5h0M277.4 74.8h0M241.0 74.9h0M241.4 74.1h0M241.8 73.3h0M222.3 39.6h0M221.1 40.1h0M220.8 41.0h0M220.5 41.8h0M234.1 60.3h0M235.0 60.2h0M235.9 60.1h0M234.2 59.0h0M235.0 58.6h0M235.8 58.2h0M234.5 57.7h0M259.8 63.1h0M264.0 58.2h0M263.2 58.0h0M262.3 57.7h0M264.0 56.9h0M271.7 12.6h0M272.1 11.8h0M272.5 11.0h0M240.7 59.6h0M241.5 58.6h0M241.2 57.8h0M240.9 56.9h0M251.4 15.2h0M290.0 19.1h0M290.9 19.2h0M242.5 22.2h0M241.6 22.1h0M240.7 22.0h0M242.0 21.0h0M241.2 20.7h0M229.2 63.0h0M228.8 63.8h0M229.9 64.0h0M221.7 54.4h0M291.9 21.7h0M292.0 23.0h0M292.7 23.5h0M292.8 22.0h0M269.6 37.5h0M269.5 36.6h0M269.5 35.7h0M270.6 36.7h0M270.4 35.8h0M277.7 56.6h0M276.8 56.3h0M276.0 56.0h0M267.1 65.8h0M266.5 66.4h0M265.9 67.1h0M268.4 65.8h0M269.0 66.4h0M279.4 64.8h0M222.8 52.0h0M267.8 25.5h0M268.4 24.8h0M250.9 73.7h0M251.0 72.8h0M251.1 71.9h0M278.6 74.5h0M278.6 73.6h0M252.8 41.7h0M254.1 41.4h0M254.4 40.6h0M254.7 39.8h0M255.3 41.0h0M254.0 63.5h0M253.5 64.2h0M285.2 36.6h0M286.1 36.6h0M287.0 36.5h0M248.8 75.0h0M248.1 75.6h0M290.3 64.6h0M265.9 65.2h0M266.7 65.6h0M267.2 65.5h0M232.2 54.5h0M231.3 54.5h0M273.6 15.0h0M272.7 14.8h0M271.9 14.5h0M277.4 62.9h0M276.3 62.3h0M276.0 61.5h0M275.7 60.6h0M275.1 61.8h0M274.3 62.2h0M247.7 55.8h0M248.6 55.8h0M248.1 57.0h0M244.5 23.5h0M245.8 23.7h0M246.5 23.2h0M247.2 22.6h0M268.9 14.3h0M269.2 15.1h0M268.3 15.4h0M267.4 15.5h0M256.9 12.8h0M256.1 13.1h0M255.3 13.5h0M255.8 12.2h0M285.9 35.7h0M219.2 48.3h0M218.6 49.1h0M218.1 49.8h0M286.5 75.7h0M271.2 45.6h0M271.0 46.5h0M270.1 46.3h0M269.9 47.2h0M269.7 48.1h0M273.3 27.8h0M273.0 27.0h0M272.7 26.1h0M270.8 62.5h0M271.7 62.7h0M272.6 62.8h0M287.5 45.6h0M311.7 43.0h0M280.8 15.5h0M281.6 15.9h0M257.0 26.8h0M256.6 25.5h0M270.0 53.5h0M269.4 54.2h0M268.8 54.8h0M289.1 59.3h0M288.2 59.3h0M287.3 59.2h0M294.0 40.6h0M285.5 17.3h0M285.6 16.4h0M278.6 35.7h0M279.0 36.5h0M279.4 37.3h0M287.6 18.5h0M300.1 54.8h0M299.3 54.5h0M233.2 62.4h0M233.8 61.7h0M234.3 61.0h0M256.4 18.7h0M256.4 19.6h0M256.4 20.5h0M257.3 19.7h0M257.1 20.5h0M306.0 29.0h0M305.9 29.9h0M267.1 24.9h0M268.3 25.5h0M268.6 26.3h0M268.9 27.1h0M302.0 27.4h0M301.2 27.1h0M300.3 26.7h0M301.7 26.1h0M258.1 76.8h0M259.4 76.5h0M260.1 77.0h0M260.9 77.5h0M236.8 68.5h0M237.7 68.6h0M238.6 68.8h0M284.0 74.3h0M284.5 73.5h0M285.0 72.8h0M305.5 46.3h0M306.4 47.2h0M307.3 47.2h0M308.2 47.1h0M307.4 48.1h0M308.3 48.0h0M309.1 47.9h0M308.2 49.0h0M309.1 49.1h0M310.0 49.2h0M309.3 49.7h0M310.6 50.0h0M311.3 49.5h0M256.1 61.6h0M255.2 62.5h0M250.1 25.2h0M250.1 24.3h0M250.2 23.4h0M278.0 52.6h0M246.1 66.5h0M246.3 67.4h0M246.4 68.3h0M245.0 67.0h0M244.6 67.9h0M267.2 78.3h0M266.5 77.9h0M230.0 64.1h0M280.6 69.7h0M256.7 16.0h0M257.4 15.6h0M270.8 46.5h0M251.6 64.9h0M250.8 65.4h0M251.6 66.2h0M251.1 66.9h0M268.0 78.8h0M268.8 79.3h0M268.5 80.0h0M256.2 25.7h0M257.1 25.7h0M258.0 25.7h0M235.3 68.5h0M235.0 69.3h0M234.7 70.2h0M235.5 69.8h0M290.6 55.0h0M241.1 53.7h0M277.4 35.7h0M278.0 35.0h0M278.6 35.2h0M278.8 34.3h0M275.8 13.4h0M274.9 13.1h0M274.1 12.8h0M300.6 26.8h0M300.9 25.6h0M300.3 24.9h0M299.7 24.2h0M267.6 41.3h0M266.8 41.1h0M265.9 41.0h0M235.8 58.7h0M247.3 72.2h0M301.1 59.3h0M280.0 76.3h0M223.3 55.7h0M252.4 35.8h0M253.0 36.4h0M245.2 22.1h0M245.6 21.3h0M246.4 21.6h0M232.9 45.6h0M260.6 77.0h0M286.6 17.9h0M287.6 17.2h0M288.4 17.5h0M280.5 52.5h0M257.7 48.1h0M256.4 48.4h0M255.9 49.1h0M255.4 49.9h0M252.7 20.5h0M245.6 33.2h0M296.9 24.1h0M296.7 23.3h0M296.4 22.4h0M276.3 49.1h0M277.2 49.4h0M278.0 49.8h0M301.3 56.4h0M300.7 55.7h0M300.1 55.0h0M302.0 48.7h0M302.4 47.9h0M302.8 47.0h0M303.2 49.2h0M303.3 50.1h0M303.4 51.0h0M293.2 45.3h0M293.9 45.9h0M294.6 46.5h0M289.0 73.7h0M288.1 73.6h0M288.6 72.5h0M287.8 72.1h0M259.8 47.4h0M222.9 55.5h0M222.1 55.2h0M222.0 56.5h0M246.4 53.7h0M246.1 52.9h0M271.7 51.3h0M265.1 50.6h0M308.1 43.6h0M308.9 43.2h0M279.9 24.9h0M280.5 24.2h0M280.9 25.8h0M281.8 26.8h0M281.6 27.6h0M263.7 60.0h0M265.0 59.8h0M265.2 59.0h0M265.5 58.1h0M264.2 30.6h0M263.5 30.1h0M280.9 17.9h0M280.4 18.6h0M253.7 39.5h0M248.4 14.9h0M248.2 14.0h0M248.0 13.2h0M294.8 53.9h0M294.1 54.5h0M288.4 65.8h0M289.2 65.4h0M289.9 65.0h0M274.8 25.2h0M287.7 47.3h0M297.0 64.8h0M227.8 55.8h0M227.3 55.1h0M259.0 60.9h0M256.5 73.4h0M257.0 72.2h0M256.6 71.4h0M256.3 70.6h0M284.8 38.5h0M265.7 80.4h0M265.1 81.1h0M264.5 81.7h0M277.1 61.9h0M277.0 61.0h0M276.9 60.1h0M275.9 61.4h0M275.1 61.9h0M274.4 62.4h0M279.2 52.7h0M292.2 39.0h0M292.8 39.7h0M291.6 40.1h0M290.7 41.1h0M290.8 42.0h0M290.9 42.9h0M289.7 41.9h0M289.7 41.9h0M288.8 41.7h0M287.9 41.5h0M276.0 34.5h0M276.5 33.7h0M277.0 33.0h0M276.3 36.9h0M277.2 37.1h0M277.4 36.1h0M242.7 43.8h0M243.4 43.3h0M244.0 44.1h0M271.5 73.7h0M271.0 73.0h0M270.4 72.3h0M223.9 51.9h0M222.9 52.7h0M223.0 53.6h0M223.1 54.4h0M285.9 42.5h0M286.4 43.2h0M278.4 16.7h0M277.8 17.3h0M278.3 17.9h0M278.2 19.2h0M277.3 19.6h0M276.5 19.9h0M246.8 20.2h0M247.4 19.5h0M248.0 18.9h0M295.0 49.3h0M266.8 23.5h0M267.1 24.4h0M268.0 24.2h0M251.0 40.8h0M302.4 42.3h0M302.6 41.5h0M233.1 59.4h0M232.2 59.5h0M231.3 59.7h0M232.2 58.4h0M232.2 57.5h0M303.7 45.8h0M303.2 45.2h0M303.9 44.6h0M300.8 56.1h0M301.6 56.5h0M302.4 56.9h0M301.9 55.5h0M257.6 46.1h0M257.3 44.8h0M256.4 44.5h0M255.6 44.3h0M234.0 30.9h0M234.0 31.8h0M233.9 32.7h0M235.3 31.2h0M235.8 31.9h0M291.3 19.4h0M292.1 19.3h0M293.0 19.2h0M279.1 60.5h0M280.0 60.8h0M243.3 49.3h0M241.5 41.4h0M260.3 37.1h0M285.5 56.2h0M285.3 57.5h0M235.6 45.7h0M236.2 45.0h0M236.8 44.3h0M236.9 45.6h0M237.5 44.9h0M238.1 44.3h0M262.5 38.5h0M261.8 38.0h0M261.2 37.4h0M298.6 55.0h0M230.5 52.7h0M229.5 51.9h0M279.9 17.2h0M284.9 63.3h0M284.9 62.4h0M304.8 60.7h0M304.6 62.0h0M305.3 62.6h0M305.9 63.2h0M303.3 60.5h0M304.0 61.0h0M304.7 61.5h0M238.1 62.4h0M259.9 14.0h0M259.8 12.8h0M259.0 12.2h0M275.9 57.1h0M263.4 75.2h0M264.3 75.1h0M263.7 73.9h0M263.1 73.3h0M262.4 72.6h0M269.8 40.0h0M296.0 65.0h0M296.5 65.8h0M297.2 64.8h0M298.0 65.3h0M237.2 24.2h0M252.3 42.9h0M272.9 51.4h0M246.0 38.8h0M246.0 39.7h0M296.8 65.9h0M296.6 66.7h0M296.4 67.6h0M297.6 66.9h0M298.5 67.0h0M299.4 67.2h0M290.0 31.5h0M289.5 32.3h0M288.7 31.6h0M288.0 31.0h0M287.3 30.5h0M239.9 73.6h0M273.9 51.1h0M251.9 74.5h0M254.5 47.2h0M283.2 37.2h0M284.1 37.0h0M284.9 36.9h0M220.5 45.2h0M219.3 44.8h0M219.1 43.9h0M219.0 43.0h0M218.1 44.2h0M217.4 43.1h0M217.7 42.2h0M283.5 35.9h0M284.4 35.9h0M295.0 27.0h0M294.1 26.1h0M294.3 25.2h0M294.5 24.3h0M279.8 24.7h0M233.9 39.2h0M234.8 39.1h0M235.7 39.1h0M235.7 49.9h0M235.2 50.6h0M263.5 43.2h0M229.6 52.4h0M229.8 51.5h0M228.7 51.4h0M228.9 50.5h0M239.6 24.9h0M244.3 32.4h0M310.5 43.3h0M311.8 43.5h0M256.2 27.6h0M256.6 26.8h0M255.5 26.5h0M255.7 25.6h0M255.9 24.7h0M255.1 25.3h0M273.4 77.5h0M268.4 15.2h0M269.1 15.8h0M244.6 59.1h0M245.3 58.5h0M246.0 58.0h0M243.9 20.1h0M243.1 19.1h0M243.5 61.1h0M244.3 61.6h0M295.7 27.7h0M296.2 27.0h0M295.2 26.5h0M304.4 35.5h0M295.2 66.4h0M296.0 65.9h0M246.5 34.3h0M247.0 33.1h0M247.9 33.0h0M221.3 38.7h0M220.5 38.3h0M251.9 37.2h0M239.2 70.4h0M238.4 70.8h0M235.5 58.5h0M292.2 45.6h0M291.5 45.1h0M241.5 69.1h0M303.2 30.6h0M304.0 30.2h0M290.3 36.1h0M254.4 47.4h0M254.4 48.3h0M309.9 38.5h0M310.8 37.6h0M282.2 38.4h0M281.3 38.5h0M280.4 38.6h0M269.0 44.4h0M241.5 29.3h0M261.0 27.5h0M278.0 77.1h0M278.7 77.7h0M287.9 73.6h0M292.6 51.5h0M291.8 51.1h0M286.4 73.9h0M285.5 73.8h0M299.5 61.7h0M300.1 62.4h0M241.5 32.5h0M241.0 31.8h0M240.3 32.7h0M239.5 32.2h0M240.8 31.4h0M240.1 30.4h0M232.4 59.7h0M232.7 58.9h0M264.9 37.7h0M265.6 38.2h0M266.3 38.7h0M263.8 38.4h0M263.8 39.3h0M223.3 52.8h0M222.6 52.3h0M221.8 51.8h0M303.1 41.2h0M302.7 40.4h0M302.2 39.6h0M303.8 40.1h0M304.7 39.9h0M305.5 39.7h0M288.8 19.0h0M289.9 18.3h0M290.7 18.6h0M291.5 19.0h0M294.0 51.7h0M293.6 52.5h0M293.2 53.3h0M292.7 51.8h0M291.7 51.0h0M282.0 14.6h0M241.9 30.1h0M241.2 29.5h0M242.3 28.8h0M243.1 28.4h0M243.9 28.0h0M278.4 74.6h0M277.5 74.8h0M255.4 62.7h0M255.7 64.0h0M280.9 77.5h0M281.8 77.5h0M282.7 77.4h0M300.1 28.4h0M300.0 27.5h0M300.0 26.6h0M265.2 70.2h0M266.3 70.8h0M267.1 70.5h0M268.0 70.1h0M240.7 24.5h0M289.6 21.2h0M289.0 21.9h0M288.4 22.6h0M256.9 19.7h0M235.4 58.5h0M275.7 34.2h0M234.7 29.6h0M235.5 30.1h0M236.2 30.6h0M235.1 30.8h0M262.7 69.6h0M219.1 36.8h0M218.9 37.7h0M223.5 41.6h0M279.8 74.4h0M278.8 73.5h0M278.0 73.8h0M277.1 74.0h0M285.6 55.7h0M286.4 54.8h0M292.1 21.5h0M292.7 22.2h0M293.3 22.8h0M268.0 15.2h0M282.6 38.5h0M283.5 38.6h0M266.1 27.5h0M255.5 47.6h0M254.6 47.4h0M253.7 47.3h0M254.6 48.5h0M254.8 49.4h0M255.0 50.2h0M228.6 55.0h0M227.8 55.5h0M227.1 56.0h0M259.5 43.2h0M259.7 42.4h0M260.0 41.5h0M245.4 34.7h0M246.1 34.2h0M246.6 34.9h0M264.2 58.2h0M266.6 50.7h0M267.0 49.9h0M266.4 49.4h0M242.1 42.6h0M302.6 47.6h0M255.0 76.7h0M255.6 77.3h0M254.9 78.0h0M255.6 78.6h0M221.4 44.3h0M223.7 44.3h0M223.6 45.2h0M223.6 46.1h0M248.7 56.1h0M264.1 38.5h0M223.7 39.0h0M265.5 28.4h0M265.3 29.2h0M286.1 36.3h0M286.6 37.0h0M243.3 49.2h0M243.4 50.5h0M267.7 25.8h0M268.4 25.2h0M246.2 28.6h0M245.3 28.7h0M278.7 25.0h0M279.6 25.0h0M279.7 25.8h0M280.6 25.7h0M271.6 12.6h0M270.3 12.2h0M233.4 30.2h0M233.5 31.5h0M234.2 32.1h0M278.1 18.9h0M278.3 19.8h0M233.0 60.6h0M233.9 60.4h0M234.8 60.2h0M233.6 59.5h0M234.5 59.5h0M236.6 46.4h0M237.8 45.9h0M257.2 14.1h0M255.9 14.0h0M285.1 73.9h0M228.2 32.3h0M228.7 33.1h0M310.6 45.6h0M310.3 46.4h0M310.0 47.3h0M249.8 37.0h0M275.0 47.8h0M233.9 48.1h0M233.4 48.8h0M232.8 49.6h0M267.4 51.2h0M266.2 51.0h0M265.7 50.3h0M304.2 44.4h0M255.1 61.8h0M257.0 75.4h0M257.1 76.3h0M257.2 77.2h0M252.7 20.5h0M253.0 19.7h0M253.2 18.8h0M256.7 74.4h0M257.5 73.4h0M257.5 72.6h0M233.5 41.4h0M233.7 42.2h0M234.0 43.1h0M251.0 39.8h0M250.1 40.1h0M249.2 40.4h0M250.1 38.9h0M301.3 52.5h0M301.9 53.2h0M302.6 53.8h0M296.9 30.6h0M296.0 30.8h0M269.6 37.6h0M269.4 36.7h0M269.3 35.8h0M270.6 36.7h0M246.2 18.0h0M245.7 16.8h0M244.9 16.4h0M233.3 59.2h0M232.3 58.5h0M310.7 36.8h0M252.2 37.2h0M251.3 37.1h0M250.4 37.0h0M245.7 43.0h0M246.5 42.6h0M247.4 42.3h0M298.0 28.4h0M239.8 33.7h0M240.3 34.4h0M240.8 35.1h0M239.3 34.9h0M239.8 35.6h0M235.8 62.4h0M250.7 73.5h0M250.8 72.6h0M250.8 71.7h0M230.5 62.8h0M231.4 63.0h0M231.2 63.9h0M231.0 64.8h0M230.7 65.7h0M240.7 75.4h0M241.3 76.1h0M242.0 76.7h0M293.2 32.1h0M292.3 53.7h0M253.5 39.4h0M249.7 73.3h0M250.6 73.0h0M251.4 72.7h0M284.4 44.5h0M283.5 45.4h0M282.6 45.3h0M284.2 45.5h0M285.0 46.0h0M268.4 49.9h0M268.1 49.0h0M267.8 48.2h0M273.1 27.3h0M272.7 26.5h0M272.3 25.7h0M260.5 60.8h0M261.2 60.2h0M261.8 59.6h0M260.0 59.7h0M228.6 39.0h0M229.4 39.4h0M230.2 39.8h0M228.7 40.2h0M275.3 48.9h0M237.4 47.6h0M299.2 30.3h0M299.4 31.2h0M299.7 32.0h0M298.5 31.4h0M264.1 57.1h0M249.1 67.1h0M270.3 12.4h0M269.4 11.4h0M269.4 10.6h0M269.5 9.7h0M234.0 60.2h0M234.6 59.1h0M235.0 57.9h0M279.3 52.5h0M270.9 37.8h0M287.3 66.8h0M287.1 65.9h0M262.2 38.5h0M262.7 39.2h0M288.3 65.9h0M289.0 65.3h0M289.6 64.7h0M275.4 47.6h0M276.3 47.5h0M252.5 21.8h0M253.8 21.6h0M242.5 23.1h0M241.5 41.6h0M287.8 18.8h0M289.0 18.3h0M257.2 61.8h0M260.4 48.8h0M251.7 60.9h0M252.6 60.6h0M275.6 56.0h0M274.3 56.1h0M273.7 56.8h0M256.1 30.1h0M228.7 40.0h0M228.6 40.9h0M300.3 60.6h0M300.9 61.3h0M301.5 62.0h0M253.6 63.5h0M258.7 26.1h0M280.5 62.5h0M229.4 52.7h0M228.8 52.2h0M228.1 51.6h0M232.6 35.1h0M240.4 71.1h0M241.2 70.8h0M273.4 25.8h0M273.7 24.9h0M242.4 60.6h0M243.1 60.0h0M243.8 59.4h0M245.5 17.1h0M244.6 17.1h0M283.1 16.7h0M270.4 69.3h0M286.9 44.8h0M288.1 45.2h0M251.5 15.1h0M252.4 14.8h0M287.8 73.5h0M263.6 31.2h0M262.3 31.3h0M281.0 76.2h0M281.2 77.0h0M281.5 77.9h0M280.0 77.0h0M279.2 76.7h0M237.2 47.6h0M274.6 78.9h0M274.4 78.0h0M295.0 25.6h0M240.4 41.2h0M241.3 41.2h0M306.2 32.9h0M305.4 33.2h0M304.5 33.6h0M236.8 60.1h0M237.4 60.7h0M256.8 26.8h0M257.7 27.0h0M258.5 27.2h0M257.2 25.5h0M258.0 25.1h0M269.1 12.2h0M268.5 11.6h0M232.3 28.8h0M242.4 62.0h0M243.2 62.4h0M244.0 62.8h0M224.4 53.4h0M225.2 53.8h0M281.4 46.6h0M288.6 31.4h0M289.0 32.2h0M289.4 33.0h0M260.4 77.2h0M242.2 48.9h0M242.7 50.1h0M243.6 50.3h0M273.2 76.6h0M250.9 50.2h0M251.9 51.0h0M252.0 51.9h0M252.1 52.8h0M232.8 38.9h0M232.7 38.0h0M303.2 40.9h0M302.3 40.7h0M294.8 27.2h0M295.4 26.6h0M256.4 45.8h0M255.7 46.3h0M255.3 45.2h0M254.5 45.6h0M253.7 46.1h0M296.7 64.6h0M297.6 64.3h0M263.4 64.4h0M262.9 65.2h0M264.4 65.2h0M234.6 69.3h0M233.9 69.9h0M233.2 70.4h0M234.7 70.6h0M262.9 36.0h0M263.1 35.1h0M242.0 59.5h0M229.2 52.9h0M228.6 52.2h0M237.1 63.4h0M277.5 17.0h0M277.7 17.9h0M275.8 46.5h0M259.2 77.0h0M254.4 74.1h0M278.3 77.9h0M277.8 78.7h0M262.5 16.9h0M262.8 17.7h0M263.2 18.5h0M231.9 62.7h0M232.8 62.5h0M232.7 63.8h0M232.3 64.6h0M231.9 65.4h0M273.4 28.3h0M247.7 54.5h0M247.9 55.3h0M248.2 56.2h0M278.1 14.0h0M282.7 76.6h0M282.1 77.7h0M282.4 78.6h0M282.7 79.4h0M224.8 50.7h0M224.3 51.5h0M268.4 65.8h0M261.4 61.5h0M261.7 60.6h0M262.0 59.8h0M273.7 14.8h0M273.5 13.9h0M273.2 13.1h0M226.4 29.2h0M290.8 72.6h0M291.3 73.4h0M291.7 74.2h0M252.3 22.8h0M253.1 23.2h0M253.9 23.6h0M250.3 55.7h0M251.2 55.7h0M252.1 55.8h0M251.5 56.2h0M251.5 14.1h0M267.5 14.0h0M267.8 14.9h0M268.0 15.7h0M235.6 25.1h0M234.7 25.4h0M233.9 25.6h0M240.7 29.7h0M240.0 30.2h0M239.3 30.8h0M287.5 67.8h0M287.1 67.0h0M286.7 66.2h0M258.7 71.5h0M258.1 70.9h0M246.3 66.6h0M245.0 66.3h0M284.9 74.4h0M284.0 74.7h0M283.9 73.5h0M283.9 72.7h0M284.0 71.8h0M224.1 49.4h0M224.2 50.3h0M224.3 51.2h0M223.4 50.4h0M279.4 64.6h0M253.1 19.2h0M277.7 56.6h0M284.5 50.1h0M285.4 50.2h0M281.9 52.6h0M231.6 30.6h0" stroke="#ffe10a" stroke-width="1.44" stroke-linecap="round" fill="none"/>
<path d="M356.2 17.9h0M366.8 18.3h0M355.4 21.5h0M348.9 22.3h0M369.8 22.9h0M371.1 23.9h0M376.7 23.5h0M377.9 21.9h0M399.2 20.3h0M397.0 23.9h0M360.8 26.5h0M358.4 28.5h0M342.9 29.9h0M358.8 31.9h0M366.8 31.9h0M342.5 35.4h0M365.8 36.8h0M366.2 37.8h0M352.5 37.8h0M352.9 38.8h0M348.1 38.8h0M388.6 33.4h0M387.6 34.8h0M381.7 39.2h0M385.3 37.8h0M401.6 34.4h0M402.0 36.8h0M407.9 34.8h0M414.1 30.5h0M420.8 33.0h0M422.8 34.0h0M418.5 35.8h0M424.8 39.4h0M425.2 40.8h0M386.1 43.8h0M408.9 43.8h0M412.5 43.8h0M413.5 44.8h0M414.9 44.8h0M415.9 42.8h0M417.5 43.8h0M420.1 44.4h0M333.4 50.7h0M338.9 48.6h0M352.5 47.4h0M385.7 49.7h0M401.6 52.1h0M389.0 53.5h0M365.8 55.1h0M366.8 56.7h0M404.9 55.3h0M344.9 61.7h0M393.0 61.1h0M407.5 60.7h0M417.1 64.3h0M408.9 66.3h0M413.5 66.1h0M411.9 70.8h0M389.0 76.4h0" stroke="#00bfff" stroke-width="1.80" stroke-linecap="round" fill="none"/>
<path d="M489.3 29.9h0M493.3 27.5h0M501.3 26.9h0M510.8 30.9h0M521.5 38.8h0M523.1 39.4h0M524.5 40.2h0M525.5 41.4h0M523.9 41.8h0M525.9 42.8h0M532.5 43.4h0M524.7 47.8h0M472.4 43.8h0M469.8 48.8h0M469.2 53.3h0M465.5 56.1h0M466.3 57.1h0M467.5 56.7h0M467.3 61.7h0M469.2 64.7h0M457.9 63.3h0M491.7 56.7h0M510.6 58.7h0M515.6 58.1h0M513.6 61.7h0M527.9 58.7h0M539.8 60.3h0M523.1 66.6h0M525.5 68.2h0M528.5 66.6h0M482.8 70.0h0M486.1 70.8h0M489.3 69.0h0M493.7 68.6h0M496.7 68.0h0M500.7 67.2h0M501.7 68.6h0M504.6 69.2h0M506.0 70.0h0M507.2 68.6h0M503.6 71.6h0M505.2 72.0h0M512.6 67.2h0M513.6 68.0h0M511.6 68.6h0M516.0 71.2h0M508.0 73.2h0M491.3 72.6h0M478.8 77.0h0M479.8 78.2h0M481.8 78.0h0M488.7 78.0h0M501.7 78.0h0M514.6 79.0h0" stroke="#ff00ff" stroke-width="1.80" stroke-linecap="round" fill="none"/>
<path d="M249.6 101.7h0M252.7 99.7h0M253.7 101.2h0M252.2 102.8h0M254.2 103.8h0M253.2 104.8h0M255.3 100.2h0M256.8 101.7h0M258.4 100.7h0M259.4 102.3h0M260.4 101.2h0M262.0 100.2h0M263.5 98.6h0M264.6 97.6h0M265.1 100.2h0M263.0 102.8h0M264.0 104.3h0M261.5 104.3h0M259.4 104.8h0M257.3 104.3h0M255.8 105.4h0M252.2 104.3h0M251.6 106.4h0M254.2 107.4h0M256.3 106.9h0M258.4 106.4h0M260.4 106.9h0M263.0 107.4h0M264.6 106.4h0M248.5 110.0h0M251.1 110.5h0M253.2 109.5h0M254.7 111.0h0M256.3 111.6h0M257.3 110.5h0M259.4 109.5h0M262.0 109.0h0M264.0 108.5h0M251.6 113.6h0M255.3 113.1h0M258.4 113.6h0M259.4 114.7h0M260.9 114.1h0M262.5 115.2h0M264.6 113.6h0M265.6 115.7h0M248.0 116.7h0M255.8 116.2h0M257.3 117.2h0M259.9 117.2h0M262.0 117.2h0M264.0 117.8h0M244.4 118.8h0M246.0 119.8h0M247.0 119.3h0M249.1 119.8h0M251.1 118.8h0M252.7 119.8h0M254.2 120.9h0M255.8 120.3h0M257.3 119.3h0M258.9 120.3h0M260.4 119.8h0M262.5 119.8h0M264.6 119.3h0M245.4 121.4h0M248.0 121.9h0M250.1 121.4h0M251.6 122.4h0M253.2 122.9h0M255.3 122.4h0M257.3 121.9h0M259.4 121.9h0M261.5 122.4h0M264.0 121.9h0M265.6 121.4h0M247.0 125.0h0M249.1 124.0h0M251.6 124.5h0M255.3 125.0h0M256.8 126.0h0M258.4 125.5h0M260.4 125.0h0M263.0 124.5h0M264.6 125.0h0M255.8 127.6h0M257.8 128.1h0M259.4 127.1h0M262.0 127.6h0M238.7 103.3h0M239.2 105.4h0M233.0 107.4h0M233.6 110.0h0M236.7 109.5h0M238.2 107.9h0M239.8 114.7h0M242.3 116.2h0M228.4 122.4h0M241.3 122.9h0M242.3 122.4h0M235.6 126.5h0M246.5 126.0h0M219.1 128.6h0M218.6 129.6h0M220.6 131.2h0M223.2 130.7h0M225.8 130.2h0M228.4 128.6h0M229.4 131.2h0M232.0 132.7h0M241.8 129.6h0M243.4 130.7h0M240.8 132.7h0M266.5 96.6h0M267.6 98.1h0M269.1 98.6h0M266.0 100.2h0M267.1 101.7h0M266.5 103.8h0M265.5 105.4h0M270.7 105.9h0M271.2 107.4h0M275.3 105.9h0M277.9 102.8h0M284.6 104.8h0M286.7 101.7h0M291.3 99.7h0M279.5 107.4h0M282.0 106.9h0M283.1 107.9h0M288.2 106.4h0M291.9 109.0h0M287.2 110.5h0M281.0 110.5h0M267.1 113.1h0M270.2 112.6h0M271.2 114.1h0M272.7 113.1h0M273.8 114.7h0M269.6 115.7h0M275.3 117.2h0M284.6 113.6h0M285.7 115.7h0M287.2 114.1h0M289.8 112.1h0M290.8 114.1h0M291.9 113.1h0M296.0 113.1h0M299.1 116.2h0M300.6 115.7h0M303.2 114.7h0M307.4 117.8h0M266.0 118.3h0M266.5 119.8h0M265.0 121.9h0M267.1 121.4h0M271.2 120.3h0M277.4 117.8h0M280.5 117.2h0M281.5 119.3h0M283.1 118.8h0M284.6 120.9h0M287.2 118.8h0M288.8 117.8h0M290.8 119.3h0M292.4 118.3h0M293.9 117.8h0M296.0 117.2h0M298.1 119.3h0M301.2 118.3h0M302.7 117.8h0M275.8 121.9h0M277.9 122.9h0M280.0 122.4h0M282.0 123.4h0M284.6 124.0h0M286.7 121.9h0M288.8 121.4h0M290.3 122.9h0M292.9 121.9h0M295.0 121.4h0M296.0 122.9h0M304.3 121.4h0M305.8 122.4h0M307.4 122.9h0M308.4 123.4h0M310.5 124.0h0M312.0 125.0h0M267.1 124.5h0M270.2 124.5h0M275.3 125.0h0M277.9 125.0h0M289.8 124.5h0M296.5 125.0h0M299.1 124.5h0M303.2 124.5h0M306.8 126.0h0M266.5 127.1h0M270.7 127.6h0M273.8 128.1h0M281.5 127.6h0M282.0 128.6h0M284.1 129.6h0M278.4 130.2h0M297.0 128.1h0M298.1 129.6h0M302.2 129.1h0M304.8 130.2h0M271.2 131.2h0M271.7 132.7h0M279.5 131.7h0M285.7 132.2h0M292.9 133.3h0M295.5 133.3h0M298.1 132.4h0M301.2 133.3h0M306.3 131.7h0M218.6 133.5h0M225.3 134.5h0M218.1 137.1h0M235.1 134.0h0M236.7 135.1h0M238.2 134.5h0M240.3 133.5h0M241.3 135.6h0M243.4 134.5h0M246.0 135.1h0M234.6 138.2h0M237.2 137.1h0M242.9 137.1h0M243.9 138.2h0M246.0 139.2h0M247.0 140.7h0M244.9 141.3h0M243.4 140.7h0M252.7 137.1h0M226.3 141.3h0M227.9 140.7h0M228.9 140.2h0M227.4 142.8h0M225.8 144.4h0M228.4 144.4h0M229.9 145.4h0M232.5 143.8h0M235.6 146.4h0M237.2 147.5h0M238.2 149.0h0M239.2 148.0h0M236.1 149.5h0M241.3 145.4h0M243.9 144.9h0M246.0 146.9h0M247.0 148.5h0M249.1 142.3h0M251.1 143.3h0M253.7 141.8h0M254.7 144.4h0M253.7 145.9h0M255.3 146.4h0M259.4 143.3h0M260.4 142.3h0M261.5 140.2h0M263.0 140.7h0M264.6 144.4h0M265.1 146.4h0M228.9 150.0h0M232.5 152.1h0M234.1 151.6h0M238.2 152.1h0M240.8 151.1h0M242.3 151.1h0M247.0 152.1h0M254.2 149.5h0M253.7 151.6h0M257.8 149.0h0M258.4 150.6h0M257.3 152.1h0M258.9 151.6h0M238.7 154.7h0M246.5 156.2h0M248.0 155.7h0M250.1 154.7h0M251.1 155.2h0M252.2 156.8h0M250.6 157.8h0M257.3 154.7h0M258.4 156.2h0M264.6 156.2h0M233.0 159.3h0M237.2 158.3h0M239.2 157.8h0M240.8 156.8h0M242.3 160.4h0M241.8 163.0h0M238.2 160.9h0M247.5 160.9h0M252.2 160.9h0M253.2 162.4h0M254.7 161.9h0M256.8 161.4h0M258.4 160.4h0M261.5 159.9h0M237.2 164.0h0M239.2 164.5h0M247.5 165.5h0M249.1 165.0h0M251.1 164.0h0M253.7 164.0h0M255.3 163.5h0M255.8 166.1h0M257.8 165.5h0M246.0 167.6h0M268.1 134.5h0M269.6 135.6h0M278.4 136.6h0M286.2 135.6h0M285.7 138.7h0M286.7 140.2h0M291.9 134.0h0M293.4 134.5h0M295.0 135.1h0M298.1 134.0h0M300.1 134.5h0M301.7 136.6h0M302.7 138.2h0M301.2 139.7h0M308.4 137.1h0M309.4 138.7h0M310.5 137.1h0M269.6 138.7h0M270.7 140.2h0M272.2 141.3h0M269.1 142.8h0M268.1 143.8h0M270.2 144.4h0M266.0 145.9h0M274.3 143.3h0M277.4 147.5h0M275.3 148.5h0M287.7 144.9h0M291.3 145.9h0M292.4 147.5h0M286.7 148.5h0M296.0 146.4h0M297.5 145.4h0M298.6 143.3h0M300.1 141.8h0M304.3 142.3h0M303.7 145.4h0M304.8 146.4h0M308.4 146.4h0M311.0 142.8h0M311.5 145.4h0M267.1 151.1h0M270.2 152.1h0M276.9 151.1h0M290.8 150.6h0M291.9 152.1h0M293.9 150.0h0M295.0 151.1h0M296.0 149.5h0M292.9 153.1h0M295.0 153.1h0M301.7 151.1h0M267.6 154.7h0M269.1 155.2h0M266.5 156.2h0M273.3 156.2h0M275.3 156.8h0M281.5 153.1h0M283.1 154.2h0M284.6 155.2h0M285.7 156.2h0M287.2 157.3h0M294.4 156.8h0M296.5 157.8h0M299.6 154.7h0M300.6 155.2h0M304.3 156.8h0M271.2 159.9h0M272.7 159.3h0M274.8 160.9h0M276.4 160.4h0M279.5 159.9h0M283.6 159.3h0M285.1 160.9h0M287.7 160.4h0M289.3 161.4h0M290.8 158.3h0M291.9 161.9h0M272.7 163.5h0M273.8 164.0h0M275.3 163.0h0M280.0 163.0h0M282.0 162.4h0M285.1 163.0h0M288.2 163.5h0M289.8 164.0h0M291.9 163.5h0M293.4 163.0h0M295.5 162.4h0M290.3 166.1h0M271.2 166.6h0M272.2 167.6h0M270.7 169.2h0M276.4 168.6h0M277.4 168.1h0M278.9 168.6h0M281.0 167.1h0M284.1 166.1h0" stroke="#0a9030" stroke-width="1.80" stroke-linecap="round" fill="none"/>
<path d="M380.0 98.1h0M381.7 97.1h0M383.1 98.7h0M381.0 100.1h0M382.5 100.8h0M379.0 99.1h0M365.7 101.6h0M374.9 102.2h0M358.6 103.2h0M378.0 104.2h0M390.2 104.2h0M392.3 103.2h0M393.9 105.2h0M398.4 102.2h0M404.1 99.7h0M402.9 106.3h0M355.1 107.7h0M384.1 106.9h0M385.1 108.3h0M388.2 109.3h0M391.2 107.3h0M394.3 107.7h0M396.3 108.9h0M399.4 109.7h0M402.1 110.3h0M407.6 108.3h0M363.3 109.7h0M368.8 109.3h0M369.8 111.4h0M370.8 112.4h0M378.0 113.0h0M374.9 114.4h0M380.0 113.4h0M342.9 114.4h0M357.6 115.4h0M361.7 115.9h0M354.5 115.9h0M385.1 115.9h0M360.6 119.1h0M362.1 120.6h0M364.7 118.5h0M367.8 119.1h0M370.8 119.5h0M372.9 118.5h0M374.9 120.6h0M377.0 118.5h0M381.0 119.1h0M383.1 119.9h0M347.0 121.6h0M351.0 122.2h0M353.1 122.6h0M361.7 123.2h0M413.3 119.9h0M336.1 125.2h0M339.2 125.7h0M340.2 127.7h0M343.7 126.7h0M342.3 129.7h0M345.3 129.3h0M347.4 130.1h0M338.2 128.7h0M374.9 124.6h0M376.3 126.1h0M377.6 127.3h0M379.6 124.6h0M382.5 125.7h0M385.7 127.3h0M395.3 123.2h0M401.4 124.0h0M388.2 129.3h0M390.2 130.3h0M392.3 129.7h0M394.3 130.8h0M411.7 128.1h0M412.3 129.3h0M357.6 131.8h0M421.9 132.4h0M338.2 135.9h0M337.2 136.9h0M336.1 138.9h0M359.2 134.8h0M367.8 136.9h0M369.4 136.5h0M374.9 134.8h0M387.2 133.8h0M390.2 134.2h0M418.2 135.9h0M385.1 139.1h0M401.0 146.1h0M357.0 147.7h0M355.5 152.6h0M370.8 152.2h0M372.3 151.8h0M412.7 153.8h0M353.9 159.3h0M365.3 157.3h0M365.7 162.4h0M373.5 156.7h0M379.0 155.2h0M383.1 155.7h0M387.2 155.2h0M389.8 156.3h0M398.4 154.6h0M399.4 156.3h0M401.4 157.3h0M402.9 156.3h0M405.5 158.7h0M387.8 159.3h0M390.2 159.3h0M395.9 162.4h0M401.4 164.8h0M388.2 164.8h0" stroke="#ff1478" stroke-width="1.80" stroke-linecap="round" fill="none"/>
<path d="M483.8 101.8h0M486.9 101.6h0M489.3 101.2h0M493.0 101.2h0M495.0 101.6h0M497.5 101.6h0M494.0 98.7h0M487.9 106.3h0M466.9 104.8h0M468.5 105.7h0M470.1 106.3h0M467.5 107.7h0M480.7 109.3h0M500.7 105.7h0M503.2 107.3h0M505.2 104.8h0M508.3 106.3h0M510.3 107.7h0M512.4 105.2h0M514.4 102.8h0M516.4 102.2h0M519.9 102.2h0M517.1 111.0h0M521.1 108.9h0M522.0 111.0h0M503.2 113.4h0M503.2 115.9h0M489.9 115.0h0M473.6 115.4h0M517.5 117.1h0M519.5 115.9h0M522.6 118.5h0M528.7 115.9h0M500.7 123.6h0M533.8 124.0h0M538.9 126.7h0M475.0 126.7h0M462.4 127.7h0M463.4 126.7h0M449.1 132.8h0M450.1 137.5h0M453.2 136.3h0M455.2 136.3h0M472.6 130.1h0M471.6 134.8h0M473.6 134.8h0M504.2 128.7h0M502.2 132.2h0M510.3 128.1h0M524.0 130.1h0M538.9 131.8h0M504.2 139.9h0M482.8 142.0h0M481.8 145.7h0M489.9 143.0h0M492.0 144.0h0M496.0 144.4h0M498.1 144.4h0M527.7 143.6h0M528.7 145.7h0M526.7 147.1h0M521.6 146.5h0M522.6 148.1h0M521.6 151.2h0M533.4 145.0h0M539.5 145.0h0M495.0 151.2h0M524.6 150.6h0M464.4 158.7h0M466.0 159.3h0M469.5 160.3h0M472.6 158.7h0M477.7 157.3h0M476.7 162.4h0M480.3 163.4h0M481.8 164.4h0M484.8 164.0h0M495.0 155.2h0M497.1 155.2h0M504.8 160.3h0M506.2 159.9h0M508.3 159.3h0M513.4 157.3h0M515.4 157.9h0M516.4 159.3h0M527.7 157.9h0M468.5 164.8h0M470.1 165.4h0M520.5 164.8h0M503.2 168.9h0M501.1 155.2h0" stroke="#9a6a1e" stroke-width="1.80" stroke-linecap="round" fill="none"/>
<path d="M263.0 247.7h0M263.9 248.0h0M264.7 248.3h0M236.4 239.2h0M235.6 239.6h0M234.8 240.0h0M231.8 234.6h0M274.7 221.4h0M282.3 244.8h0M281.4 244.8h0M238.7 240.3h0M234.9 218.7h0M235.3 217.9h0M235.6 217.1h0M263.3 215.0h0M263.5 248.9h0M263.0 249.7h0M262.6 250.5h0M234.2 202.7h0M233.7 202.0h0M287.6 222.1h0M287.5 221.2h0M287.4 220.3h0M268.6 248.1h0M268.5 249.0h0M268.3 249.9h0M280.9 224.6h0M281.4 225.8h0M281.0 226.6h0M280.6 227.4h0M232.5 219.5h0M232.2 220.4h0M232.0 221.2h0M270.5 186.1h0M284.1 243.0h0M284.1 242.1h0M284.0 241.2h0M308.3 229.5h0M309.2 229.4h0M266.8 246.2h0M257.3 199.6h0M258.2 200.0h0M259.0 200.4h0M263.0 217.5h0M262.4 218.1h0M261.7 218.8h0M285.6 213.9h0M273.2 223.4h0M272.3 223.3h0M299.4 234.8h0M271.3 187.1h0M272.2 187.2h0M307.3 231.9h0M307.7 232.7h0M236.8 202.6h0M232.9 202.5h0M263.1 218.8h0M269.5 249.1h0M286.9 213.7h0M287.6 214.2h0M308.8 228.3h0M263.6 250.2h0M264.4 250.7h0M281.8 227.0h0M270.1 250.2h0M269.9 251.1h0M262.0 245.4h0M261.1 245.3h0M260.2 245.2h0M287.5 212.5h0M288.4 212.6h0M227.2 234.3h0M226.3 234.4h0M261.0 244.5h0M260.1 244.5h0M231.8 201.8h0M289.7 223.7h0M263.0 220.1h0M300.5 234.3h0M300.8 233.4h0M238.1 202.4h0M238.6 203.1h0M239.2 203.8h0M283.4 215.2h0M275.2 220.2h0M274.9 219.3h0M274.6 218.5h0M258.3 198.8h0M258.3 197.9h0M272.1 224.1h0M288.3 211.6h0M288.2 210.7h0M281.5 245.8h0M280.6 245.9h0M275.8 219.0h0M263.1 187.4h0M262.6 188.1h0M290.7 224.5h0M263.8 221.2h0M264.7 221.0h0M265.5 220.9h0M280.5 226.7h0M236.2 218.6h0M288.2 213.8h0M262.6 184.9h0M279.7 227.7h0M278.8 227.8h0M270.8 251.3h0M276.6 218.0h0M277.4 217.0h0M280.9 247.0h0M280.0 247.1h0M279.1 247.3h0M230.7 201.2h0M239.3 202.3h0M240.0 202.9h0M240.7 203.4h0M271.6 252.4h0M281.9 228.3h0M281.2 228.8h0M286.6 221.3h0M285.7 221.6h0M284.9 221.9h0M231.5 220.4h0M296.8 234.6h0M296.1 235.1h0M295.4 235.7h0M279.2 226.6h0M272.4 187.8h0M295.6 234.2h0M243.1 188.6h0M242.7 189.4h0M245.6 188.4h0M246.2 189.1h0M246.7 189.9h0M262.9 221.4h0M282.6 216.3h0M271.1 225.0h0M264.5 222.2h0M264.2 223.0h0M263.9 223.9h0M261.8 183.8h0M270.3 226.0h0M270.4 226.9h0M263.4 188.7h0M262.8 189.3h0M235.1 239.0h0M234.6 239.7h0M291.8 225.2h0M291.8 226.1h0M307.0 233.2h0M269.5 227.0h0M269.8 227.9h0M270.1 228.8h0M277.9 226.4h0M277.6 225.6h0M277.2 224.7h0M278.6 228.4h0M278.7 229.3h0M278.8 230.2h0M239.5 241.3h0M239.3 242.2h0M239.1 243.1h0M246.8 189.0h0M247.6 188.6h0M248.4 188.2h0M280.2 248.1h0M280.4 249.0h0M309.2 227.0h0M308.7 226.3h0M308.2 225.5h0M279.7 249.3h0M280.2 250.1h0M237.4 218.1h0M285.4 220.8h0M284.6 221.2h0M283.8 221.6h0M276.6 226.2h0M275.9 226.8h0M275.3 227.4h0M289.5 213.8h0M289.9 213.0h0M240.7 241.0h0M238.7 217.8h0M263.7 190.0h0M263.0 190.6h0M262.3 191.2h0M277.5 229.1h0M263.8 213.8h0M264.7 213.6h0M265.6 213.4h0M242.0 189.2h0M241.2 188.8h0M240.4 188.4h0M282.0 217.5h0M240.9 190.0h0M240.0 189.8h0M280.3 222.1h0M263.1 222.7h0M240.6 202.1h0M241.3 202.6h0M242.1 203.2h0M239.9 217.5h0M294.4 233.7h0M279.0 250.4h0M279.3 251.3h0M279.5 252.2h0M226.2 233.4h0M226.3 232.6h0M241.2 217.3h0M241.5 216.4h0M247.9 189.7h0M247.9 190.6h0M280.4 220.8h0M239.6 189.6h0M255.3 201.2h0M254.4 200.9h0M301.7 233.6h0M233.8 239.0h0M242.0 240.7h0M242.6 241.4h0M259.9 243.8h0M263.5 191.2h0M239.9 234.7h0M239.4 233.9h0M238.9 233.2h0M273.6 188.3h0M277.3 227.6h0M276.4 227.6h0M275.5 227.6h0M290.7 213.6h0M291.4 214.2h0M292.0 214.9h0M242.5 217.2h0M243.0 217.9h0M243.6 218.6h0M232.6 239.2h0M231.9 238.5h0M292.9 225.8h0M292.9 226.7h0M292.9 227.6h0M260.6 183.6h0M284.1 220.7h0M283.5 221.4h0M283.0 222.1h0M259.3 197.9h0M260.1 198.1h0M260.3 197.1h0M260.5 196.3h0M239.9 190.7h0M238.8 191.5h0M237.9 191.5h0M229.4 200.8h0M228.6 201.2h0M227.8 201.6h0M241.2 234.5h0M241.9 235.1h0M242.6 235.6h0M243.8 217.3h0M240.5 233.5h0M259.3 183.6h0M258.7 184.3h0M232.9 232.5h0M274.9 188.6h0M242.4 234.9h0M261.4 196.4h0M243.7 235.1h0M278.2 215.9h0M225.3 232.4h0M224.4 232.4h0M223.5 232.3h0M262.3 195.4h0M262.2 194.5h0M268.7 228.0h0M278.0 251.2h0M277.1 251.0h0M276.2 250.7h0M263.2 224.0h0M249.0 190.4h0M249.3 191.3h0M250.1 191.1h0M250.9 190.9h0M241.9 202.0h0M242.3 201.2h0M265.5 223.1h0M266.4 223.0h0M262.6 188.6h0M293.1 233.6h0M292.6 232.8h0M289.2 210.6h0M230.7 221.4h0M264.1 212.5h0M264.9 212.1h0M265.7 211.6h0M240.3 242.4h0M251.2 191.7h0M252.1 191.4h0M252.9 191.1h0M294.1 226.3h0M263.3 189.7h0M262.8 190.5h0M258.0 183.5h0M231.3 238.9h0M254.2 202.0h0M302.7 232.8h0M264.0 251.5h0M291.8 233.3h0M241.2 232.4h0M242.1 232.4h0M309.7 225.8h0M258.9 243.0h0M258.0 243.1h0M310.2 224.6h0M309.7 223.9h0M279.0 214.9h0M279.0 214.0h0M245.0 235.4h0M267.8 229.0h0M261.9 189.7h0M262.0 190.6h0M245.0 216.9h0M245.2 216.0h0M245.4 215.1h0M257.8 242.3h0M230.0 222.5h0M229.1 222.5h0M228.2 222.5h0M252.5 192.0h0M252.9 192.8h0M281.9 229.6h0M224.4 231.6h0M256.7 183.9h0M256.0 183.3h0M255.4 182.8h0M285.3 242.4h0M285.6 241.6h0M286.0 240.7h0M246.2 235.7h0M228.2 200.5h0M227.9 199.6h0M227.7 198.7h0M303.5 231.8h0M303.4 230.9h0M229.5 222.0h0M228.7 221.5h0M255.4 184.1h0M254.1 184.0h0M253.6 184.7h0M263.9 190.9h0M290.5 233.3h0M290.1 234.0h0M289.6 234.8h0M261.0 190.7h0M286.5 241.9h0M228.4 222.5h0M228.1 223.4h0M230.0 238.8h0M229.3 239.3h0M228.6 239.9h0M247.5 235.8h0M248.0 235.0h0M223.5 230.6h0M292.0 213.4h0M246.3 216.5h0M243.2 202.3h0M253.7 192.4h0M241.1 243.4h0M253.4 203.0h0M261.4 195.1h0M262.1 194.6h0M262.8 194.0h0M252.9 184.3h0M244.4 202.8h0M245.3 202.5h0M295.4 226.6h0M252.5 185.5h0M287.3 240.8h0M310.5 223.4h0M311.4 223.1h0M312.2 222.8h0M256.6 241.7h0M255.9 242.2h0M255.1 242.6h0M237.9 192.4h0M237.0 192.2h0M236.1 192.1h0M255.5 241.0h0M255.6 240.1h0M226.9 200.2h0M226.4 199.5h0M252.2 186.8h0M252.9 187.4h0M253.6 188.0h0M264.2 252.8h0M265.1 253.0h0M241.8 231.2h0M310.8 222.1h0M310.3 221.3h0M267.0 230.1h0M266.1 229.9h0M265.3 229.8h0M243.2 240.3h0M293.3 213.1h0M311.4 220.9h0M247.5 216.0h0M282.0 230.9h0M281.3 231.5h0M280.6 232.1h0M279.7 213.8h0M280.6 213.8h0M281.5 213.8h0M276.1 189.0h0M276.5 189.8h0M276.9 190.7h0M252.6 204.0h0M253.0 204.8h0M253.4 205.7h0M229.3 223.5h0M229.4 224.4h0M242.5 230.1h0M288.1 239.8h0M248.8 215.9h0M289.2 233.2h0M288.7 232.5h0M248.8 235.9h0M296.7 226.9h0M297.1 227.7h0M297.6 228.5h0M250.1 236.1h0M250.6 236.8h0M251.2 237.6h0M251.8 205.1h0M277.3 189.6h0M236.9 193.2h0M252.8 188.0h0M255.0 192.5h0M255.4 193.4h0M294.0 212.0h0M294.9 212.0h0M243.1 229.0h0M243.0 228.1h0M288.7 238.7h0M294.6 213.0h0M295.0 212.2h0M249.8 236.8h0M249.6 237.6h0M256.3 192.6h0M250.6 237.8h0M251.5 237.7h0M252.4 237.7h0M251.5 238.8h0M244.5 239.9h0M245.3 240.4h0M246.1 240.8h0M278.3 190.4h0M279.3 191.2h0M280.2 190.9h0M281.0 190.6h0M280.4 212.7h0M251.3 185.8h0M250.6 185.2h0M249.9 184.7h0M245.6 203.3h0M245.8 204.2h0M246.0 205.0h0M236.0 194.2h0M250.1 216.0h0M250.6 215.2h0M264.6 211.3h0M265.0 210.1h0M264.4 209.4h0M227.6 223.6h0M226.8 224.6h0M255.0 239.8h0M255.3 238.9h0M255.6 238.1h0M245.7 239.5h0M246.7 203.9h0M248.0 204.1h0M248.6 203.4h0M282.0 232.2h0M282.8 232.7h0M283.6 233.1h0M297.9 227.3h0M298.4 228.0h0M222.7 229.6h0M288.0 232.9h0M290.1 209.6h0M289.6 237.7h0M289.3 236.8h0M289.0 236.0h0M251.4 236.1h0M299.2 227.6h0M280.2 192.1h0M300.4 227.9h0M300.8 228.7h0M257.6 241.0h0M241.9 244.4h0M241.5 245.2h0M243.6 227.8h0M295.9 212.8h0M233.7 231.5h0M234.6 231.6h0M243.8 226.5h0M244.6 226.2h0M245.5 225.9h0M297.1 212.5h0M281.1 193.1h0M281.1 194.0h0M257.7 239.7h0M257.0 239.2h0M256.2 238.6h0M243.9 225.2h0M291.0 208.7h0M291.9 208.6h0M292.8 208.5h0M223.7 228.7h0M223.8 227.8h0M250.1 186.3h0M251.4 216.0h0M301.4 227.0h0M301.3 226.1h0M301.3 225.2h0M292.0 207.9h0M292.8 208.3h0M293.6 208.7h0M266.4 231.2h0M266.6 232.0h0M257.6 192.7h0M258.3 192.1h0M258.9 191.5h0M252.7 236.3h0M253.8 235.6h0M253.9 234.7h0M254.0 233.8h0M257.9 238.4h0M258.8 238.1h0M280.6 191.1h0M281.3 191.7h0M282.0 192.2h0M251.1 206.2h0M242.7 245.5h0M242.4 246.3h0M235.1 195.1h0M235.1 196.0h0M244.1 223.9h0M254.9 234.9h0M255.1 234.0h0M255.3 233.1h0M241.8 245.7h0M241.0 246.1h0M240.2 246.6h0M294.5 210.8h0M295.4 210.7h0M296.3 210.6h0M281.8 190.7h0M282.1 193.9h0M265.5 232.2h0M250.5 207.3h0M249.6 207.3h0M282.0 233.5h0M255.9 234.1h0M256.8 234.4h0M283.1 194.7h0M295.4 209.9h0M296.3 209.9h0M234.7 230.7h0M252.7 216.0h0M301.6 228.5h0M301.7 229.4h0M301.7 230.3h0M302.3 226.1h0M302.2 225.2h0M311.7 219.7h0M298.4 212.4h0M299.1 213.1h0M299.7 213.7h0M264.7 233.2h0M263.8 233.3h0M262.9 233.4h0M263.7 234.0h0M262.9 233.7h0M258.2 237.2h0M267.0 232.3h0M265.3 208.8h0M267.9 233.3h0M268.7 233.2h0M269.6 233.1h0M286.8 232.4h0M286.1 232.9h0M283.1 190.2h0M262.8 235.0h0M261.9 235.0h0M268.6 234.4h0M284.4 195.1h0M292.9 206.9h0M293.8 207.1h0M261.8 235.7h0M261.7 236.6h0M286.2 231.2h0M285.3 231.0h0M235.6 229.7h0M235.5 228.8h0M247.0 239.6h0M257.1 233.6h0M257.5 232.8h0M250.1 208.6h0M249.3 208.9h0M248.5 209.3h0M285.6 195.6h0M280.9 211.5h0M253.9 216.2h0M234.0 195.9h0M234.0 196.8h0M234.1 197.7h0M303.4 225.4h0M304.2 225.8h0M244.0 222.6h0M243.5 246.5h0M244.4 246.4h0M249.5 209.7h0M248.7 209.9h0M233.3 197.0h0M286.7 196.2h0M296.2 208.8h0M255.2 216.6h0M285.7 230.0h0M286.3 229.3h0M297.0 207.7h0M296.8 206.8h0M296.7 206.0h0M224.7 227.9h0M225.5 228.2h0M226.4 228.6h0M256.5 216.7h0M244.0 221.3h0M244.6 220.7h0M281.2 210.3h0M282.0 210.0h0M282.9 209.7h0M258.3 232.9h0M284.3 190.2h0M287.8 197.0h0M288.6 196.6h0M299.7 212.3h0M311.7 218.4h0M311.0 217.8h0M281.4 209.0h0M304.3 224.4h0M304.1 223.5h0M288.9 197.6h0M289.0 198.5h0M265.7 207.5h0M265.1 206.9h0M236.3 228.6h0M237.2 228.6h0M238.1 228.6h0M282.0 234.8h0M281.4 235.5h0M280.8 236.1h0M244.4 247.4h0M245.3 247.1h0M246.2 246.9h0M232.9 198.2h0M281.7 207.7h0M293.7 205.9h0M269.3 235.5h0M270.2 235.7h0M265.9 206.2h0M265.2 205.7h0M259.4 232.2h0M305.1 223.4h0M306.0 223.3h0M260.3 231.4h0M262.1 237.0h0M237.1 227.6h0M238.0 227.5h0M301.0 212.0h0M265.8 204.9h0M266.4 204.2h0M266.9 203.5h0M248.8 210.8h0M294.4 204.8h0M290.0 198.4h0M257.7 217.2h0M257.8 218.1h0M258.0 219.0h0M270.1 236.5h0M269.8 237.3h0M247.9 211.8h0M291.1 199.0h0M246.8 212.4h0M246.7 213.3h0M246.6 214.2h0M271.1 237.3h0M271.1 238.2h0M282.1 206.5h0M281.8 205.7h0M281.4 204.8h0M261.2 230.4h0M262.1 230.4h0M311.9 217.1h0M291.3 198.5h0M291.8 197.8h0M282.0 236.1h0M271.3 237.0h0M302.3 211.7h0M303.0 212.2h0M272.4 237.7h0M273.2 237.4h0M274.1 237.1h0M295.1 203.7h0M296.0 203.5h0M296.8 203.3h0M262.7 238.1h0M263.6 238.2h0M245.5 212.6h0M244.9 211.9h0M282.7 205.3h0M271.9 238.3h0M283.4 204.2h0M284.3 204.0h0M292.2 199.6h0M312.0 215.8h0M312.8 215.3h0M311.7 214.5h0M310.8 214.3h0M309.9 214.1h0M258.9 217.7h0M284.1 203.1h0M283.8 202.2h0M283.6 201.4h0M311.1 214.9h0M310.2 214.9h0M309.3 214.9h0M293.2 200.5h0M285.3 202.5h0M282.3 237.4h0M281.6 238.0h0M305.9 222.4h0M265.7 203.6h0M266.2 202.9h0M310.2 213.9h0M292.6 198.6h0M293.1 199.3h0M273.4 238.5h0M237.6 226.4h0M238.5 226.2h0M306.8 221.5h0M263.5 239.1h0M263.4 240.0h0M238.2 225.2h0M293.9 198.6h0M294.4 199.4h0M294.9 200.1h0M303.5 211.4h0M307.2 220.2h0M265.6 202.3h0M244.2 212.6h0M243.6 213.2h0M242.9 213.8h0M264.4 240.1h0M238.7 224.0h0M265.6 201.0h0M264.9 200.5h0M264.2 199.9h0M307.4 218.9h0M308.3 218.6h0M309.1 218.3h0M309.3 213.0h0M309.3 212.1h0M309.3 211.2h0M286.5 202.1h0M286.8 201.3h0M296.2 203.0h0M265.4 199.7h0M242.9 212.4h0M242.4 211.7h0M241.8 211.0h0M272.8 239.3h0M272.7 240.2h0M272.5 241.1h0M264.6 198.7h0M241.6 212.5h0M297.3 202.4h0M298.4 201.7h0M261.6 229.2h0M261.2 228.3h0M262.9 228.7h0M282.6 238.7h0M281.5 239.4h0M281.3 240.3h0M281.1 241.1h0M265.1 198.5h0M264.4 197.9h0M240.3 212.4h0M239.8 213.2h0M239.3 213.9h0M239.2 222.8h0M238.7 222.1h0M238.3 221.3h0M239.0 212.3h0M308.0 217.8h0M308.9 217.5h0M309.7 217.2h0M308.4 212.1h0M307.5 212.3h0M306.6 212.5h0M287.7 201.5h0M287.7 200.6h0M299.5 200.9h0M262.2 228.0h0M280.5 240.2h0M279.6 240.1h0M265.6 197.3h0M265.1 196.5h0M264.6 195.8h0M266.0 196.0h0M265.4 195.3h0M264.9 194.7h0M297.8 206.8h0M237.7 212.3h0M265.2 241.1h0M239.5 221.6h0M240.3 221.1h0M266.1 242.1h0M266.8 195.0h0M311.0 213.4h0M310.2 213.3h0M309.3 213.2h0M298.8 205.9h0M298.6 205.0h0M307.6 211.1h0M307.9 210.2h0M300.0 205.5h0M300.8 205.9h0M301.6 206.3h0M279.6 241.1h0M279.7 242.0h0M267.7 194.0h0M268.6 194.1h0M269.5 194.2h0M278.8 242.1h0M279.0 243.0h0M279.2 243.9h0M278.2 243.3h0M236.4 212.1h0M277.5 244.4h0M276.8 245.5h0M275.9 245.5h0M235.2 211.9h0M233.9 211.6h0M268.7 193.2h0M269.5 192.2h0M269.3 191.3h0M269.2 190.4h0M275.9 246.4h0M275.0 246.3h0M270.3 191.1h0M270.1 190.3h0M269.8 189.4h0M232.6 211.3h0M231.3 211.2h0M230.0 211.5h0M229.6 212.3h0M229.1 213.0h0M275.0 247.3h0M274.1 247.1h0M301.2 205.0h0M228.8 211.6h0M227.5 211.8h0M227.1 212.6h0M226.6 213.4h0M302.5 204.7h0M302.8 203.9h0M226.2 212.1h0M303.8 204.5h0M274.1 248.3h0M274.2 249.2h0M224.9 212.3h0M305.0 205.1h0M223.6 212.3h0M228.0 212.7h0M228.3 213.6h0M228.5 214.5h0M222.3 212.5h0M221.9 213.3h0M221.0 212.6h0M220.5 211.9h0M220.0 211.2h0M306.1 205.8h0M307.1 206.6h0M307.1 207.5h0M307.1 208.4h0M227.0 213.5h0M258.7 184.7h0M257.8 184.8h0M256.9 184.8h0M257.9 185.7h0M257.0 185.8h0M257.1 186.7h0M249.0 212.1h0M249.9 212.3h0M250.8 212.6h0M266.7 201.6h0M267.6 201.8h0M268.5 202.0h0M267.9 201.0h0M268.0 200.1h0M268.8 200.1h0M268.7 199.2h0M268.6 198.3h0M269.7 199.1h0M270.6 199.1h0M270.4 198.0h0M270.8 196.8h0M270.1 196.1h0M271.6 195.8h0M271.5 194.9h0M272.5 194.8h0M273.4 194.8h0M273.5 194.0h0M274.6 193.3h0M302.0 224.8h0M302.6 224.1h0M301.7 223.6h0M300.8 223.4h0M299.9 223.1h0M301.3 222.3h0M301.9 221.6h0M300.9 221.1h0M300.2 220.6h0M299.4 220.2h0M300.8 219.8h0M301.4 219.1h0M302.0 218.4h0M301.1 218.5h0M301.3 217.2h0M301.2 215.9h0M300.3 216.4h0M299.0 216.4h0M298.5 217.1h0M298.0 217.9h0M297.7 216.6h0M296.5 217.0h0M296.2 217.8h0M296.0 218.7h0M295.2 217.2h0M293.9 217.1h0M292.7 217.3h0M291.5 217.9h0M290.6 217.7h0M289.8 217.5h0M290.3 218.5h0M285.4 219.5h0M269.9 224.6h0M269.7 223.3h0M269.7 222.0h0M269.5 220.7h0M269.2 219.4h0M269.8 218.8h0M270.4 218.1h0M268.6 218.3h0M267.8 217.3h0M266.9 216.3h0M266.9 215.4h0M235.0 231.7h0M236.2 232.0h0M237.0 231.4h0M236.0 201.6h0M236.6 200.4h0M237.5 200.3h0M238.3 200.1h0M236.9 199.1h0M236.5 198.3h0M237.6 198.0h0M238.8 197.5h0M239.1 196.7h0M239.4 195.8h0M237.9 198.3h0M237.9 197.4h0M240.0 197.2h0M238.9 197.5h0M240.0 198.0h0M240.2 198.9h0M240.4 199.8h0M239.9 196.6h0M239.7 195.7h0M239.5 194.9h0M262.7 189.7h0M261.9 190.8h0M262.1 191.6h0M262.4 192.5h0M268.2 230.3h0M267.7 231.0h0M269.5 230.5h0M270.1 229.8h0M270.7 229.1h0M270.7 230.9h0M271.4 230.2h0M272.0 231.3h0M272.1 232.2h0M272.2 233.1h0M273.2 231.8h0M273.9 231.4h0M274.7 231.0h0M274.4 232.3h0M275.2 231.9h0M276.0 231.6h0M275.6 232.8h0M275.7 233.7h0M275.8 234.6h0M276.7 233.4h0M277.9 233.9h0M278.0 234.8h0M278.4 249.6h0M277.8 249.0h0M277.1 248.4h0M263.3 237.4h0M264.5 237.8h0M238.3 211.2h0M237.4 211.3h0M236.5 211.4h0M237.7 210.1h0M237.0 209.0h0M236.6 207.7h0M236.0 206.6h0M236.4 205.8h0M236.9 205.1h0M287.6 238.6h0M288.1 237.8h0M288.6 237.1h0M287.1 237.4h0M286.4 236.3h0M247.5 191.0h0M246.8 191.5h0M246.0 192.0h0M247.1 192.3h0M246.3 192.4h0M245.4 192.6h0M246.9 193.5h0M247.5 194.2h0M248.2 194.8h0M247.2 194.8h0M248.0 195.1h0M247.7 196.0h0M246.7 194.8h0M247.4 195.4h0M248.2 197.2h0M246.5 196.1h0M247.2 196.7h0M246.5 197.4h0M245.8 198.0h0M245.1 198.5h0M264.4 187.6h0M265.7 188.1h0M266.9 188.3h0M250.8 209.7h0M251.7 209.7h0M251.8 210.5h0M252.7 210.5h0M252.5 211.6h0M252.0 212.4h0M235.7 217.7h0M236.5 216.7h0M285.6 196.9h0M285.7 198.2h0M228.5 212.9h0M229.1 213.6h0M227.9 214.1h0M228.4 214.9h0M228.9 215.6h0M227.0 215.1h0M227.1 216.0h0M227.2 216.9h0M226.2 216.1h0M225.8 217.3h0M224.9 217.6h0M225.2 218.5h0M224.3 218.6h0M224.9 219.7h0M224.6 221.0h0M223.9 221.5h0M223.8 222.0h0M223.9 222.9h0M223.0 223.1h0M222.0 223.9h0M221.1 223.6h0M220.8 224.4h0M220.1 224.0h0M264.1 221.9h0M265.3 222.3h0M256.9 217.9h0M257.6 219.1h0M258.5 220.0h0M258.2 220.9h0M259.2 221.1h0M239.0 203.3h0M240.0 204.1h0M257.7 218.6h0M258.4 219.0h0M280.8 194.3h0M279.9 194.6h0M280.7 195.6h0M281.5 196.1h0M280.9 196.9h0M281.6 197.4h0M282.3 198.0h0M281.2 198.2h0M280.6 198.9h0M280.0 199.5h0M281.2 199.5h0M282.0 199.9h0M281.0 200.8h0M280.4 201.9h0M279.5 202.1h0M278.6 202.3h0M279.5 202.9h0M278.6 203.8h0M277.7 203.8h0M277.3 203.4h0M276.6 203.9h0M277.6 204.6h0M276.0 203.6h0M275.4 204.3h0M274.8 205.0h0M274.7 203.6h0M273.4 203.5h0M272.9 204.2h0M272.3 205.0h0M272.1 203.5h0M270.9 203.2h0M270.4 202.5h0M269.9 201.7h0M276.5 205.3h0M276.5 206.2h0M275.9 206.5h0M274.9 207.4h0M275.0 208.3h0M273.7 207.9h0M273.5 208.8h0M272.8 208.8h0M271.8 209.6h0M271.9 210.5h0M272.1 211.4h0M270.9 210.6h0M271.1 211.4h0M270.3 211.7h0M269.8 212.9h0M268.9 213.3h0M268.1 213.6h0M291.9 197.3h0M292.2 196.1h0M302.5 227.5h0M303.4 227.2h0M304.2 226.9h0M303.8 227.5h0M304.6 228.0h0M305.3 228.6h0M305.1 227.2h0M286.5 242.9h0M287.3 243.9h0M287.2 244.8h0M288.0 245.0h0M288.6 246.1h0M288.3 247.0h0M289.7 246.9h0M289.8 247.8h0M290.9 246.3h0M291.7 246.6h0M292.5 247.0h0M291.9 245.5h0M293.1 245.0h0M293.4 244.1h0M294.2 244.3h0M294.2 243.4h0M295.4 243.8h0M229.7 202.1h0M228.9 203.1h0M228.0 203.0h0M227.1 202.9h0M228.0 204.0h0M227.1 203.9h0M226.9 204.8h0M225.9 205.6h0M224.8 206.3h0M223.7 206.9h0M223.6 207.8h0M223.5 208.7h0M222.5 207.6h0M222.4 208.5h0M221.8 208.6h0M287.1 211.3h0M286.2 211.0h0M285.4 210.7h0M286.6 210.1h0M286.3 208.8h0M286.0 207.5h0M285.2 207.1h0M284.4 206.7h0M287.6 202.8h0M287.7 203.7h0M288.6 203.6h0M289.5 204.6h0M236.1 227.4h0M235.2 227.0h0M234.4 226.6h0M235.8 226.1h0M266.3 210.0h0M266.8 210.8h0M267.0 208.9h0M267.9 208.7h0M251.5 193.0h0M251.9 194.3h0M252.7 194.6h0M252.0 195.6h0M252.7 196.1h0M252.0 196.9h0M251.9 198.2h0M252.5 198.8h0M251.3 199.3h0M251.6 200.2h0M251.8 201.1h0M250.6 200.4h0M264.9 190.2h0M236.6 225.5h0M235.4 225.1h0M235.0 224.3h0M234.6 223.5h0M246.1 217.7h0M247.0 218.6h0M247.8 219.6h0M247.7 220.5h0M248.6 220.6h0M249.4 221.6h0M250.3 221.8h0M251.2 222.0h0M250.3 222.6h0M250.1 223.5h0M248.9 222.8h0M250.9 223.8h0M251.5 224.9h0M251.3 225.8h0M252.1 226.1h0M253.0 226.3h0M253.8 226.6h0M248.2 223.9h0M247.3 223.9h0M246.4 224.0h0M252.5 227.3h0M252.0 228.1h0M251.5 228.8h0M253.0 228.5h0M252.7 229.3h0M247.7 225.1h0M246.8 225.5h0M246.0 225.8h0M253.5 229.7h0M253.1 230.5h0M252.6 231.3h0M254.4 230.7h0M255.2 230.5h0M252.1 224.2h0M252.6 225.0h0M253.4 224.5h0M253.7 225.4h0M254.6 224.8h0M254.9 225.6h0M255.6 224.0h0M255.7 223.1h0M255.8 225.4h0M256.6 225.0h0M256.9 226.0h0M257.0 226.9h0M247.5 226.4h0M246.8 226.9h0M246.0 227.4h0M258.0 226.7h0M247.6 227.7h0M248.4 228.1h0M247.7 229.0h0M247.7 230.3h0M247.7 231.6h0M247.0 232.2h0M249.0 231.7h0M249.4 232.5h0M249.9 233.3h0M250.3 231.8h0M250.8 232.5h0M273.8 220.4h0M273.0 219.4h0M272.1 219.3h0M271.2 219.2h0M268.0 235.5h0M268.3 226.6h0M267.1 226.9h0M232.1 221.5h0M231.7 222.8h0M231.5 224.1h0M235.6 193.1h0M235.1 192.3h0M234.3 192.7h0M233.7 193.3h0M233.0 193.9h0M293.5 197.7h0M294.4 196.7h0M305.4 206.3h0M305.6 207.6h0M306.4 223.5h0M307.1 223.0h0M307.8 222.4h0M257.2 193.5h0M286.3 222.4h0M285.1 222.9h0M238.2 222.0h0M237.3 221.9h0M247.5 240.8h0M248.4 241.0h0M249.3 241.2h0M247.9 242.0h0M248.7 242.4h0M248.2 243.3h0M247.7 244.0h0M248.1 244.6h0M248.3 245.9h0M249.0 246.4h0M248.3 247.2h0M247.5 247.8h0M246.8 248.3h0M248.2 248.5h0M248.9 249.2h0M249.5 249.8h0M268.8 229.3h0M268.2 229.9h0M267.5 230.5h0M298.3 228.5h0M299.2 228.8h0M298.8 229.7h0M299.7 229.9h0M298.0 230.8h0M262.1 248.5h0M260.8 248.9h0M260.0 248.4h0M259.5 249.0h0M258.2 249.1h0M257.6 248.5h0M257.0 247.8h0M258.5 248.2h0M256.9 248.9h0M256.6 248.1h0M255.6 248.9h0M257.7 247.2h0M256.7 246.4h0M273.6 187.3h0M274.9 186.9h0M275.3 186.1h0M275.6 185.2h0M275.7 185.9h0M274.3 249.6h0M275.0 250.1h0M292.3 234.6h0M305.7 207.0h0M304.9 207.3h0M280.7 227.9h0M280.0 228.6h0M241.1 230.2h0M240.5 229.0h0M240.9 228.2h0M241.3 227.4h0M253.4 187.5h0M253.6 188.3h0M253.9 189.2h0M222.0 213.8h0M221.7 215.0h0M221.2 216.2h0M221.6 217.0h0M220.7 217.4h0M220.4 218.7h0M220.1 220.0h0M220.6 220.7h0M309.0 214.2h0M289.0 196.5h0M289.4 195.7h0M258.6 200.1h0M258.8 200.9h0M259.8 200.5h0M261.0 200.9h0M261.8 202.0h0M261.7 202.9h0M261.5 203.8h0M261.8 203.3h0M262.4 204.0h0M263.0 204.7h0M262.1 204.6h0M261.9 205.9h0M262.5 206.5h0M263.1 207.2h0M261.8 207.2h0M261.0 208.2h0M260.1 208.1h0M259.2 208.0h0M260.2 209.2h0M259.3 209.0h0M259.3 210.2h0M259.6 211.0h0M258.7 211.3h0M259.6 211.5h0M260.4 211.9h0M261.2 212.3h0M258.2 212.5h0M259.9 212.7h0M300.0 235.9h0M300.9 235.9h0M300.7 237.0h0M301.4 238.2h0M301.1 239.4h0M236.8 191.7h0M235.9 192.1h0M235.1 192.5h0M304.4 226.1h0M304.6 227.0h0M304.8 227.8h0M275.5 189.7h0M276.4 190.0h0M277.3 190.2h0M261.3 184.8h0M260.7 184.2h0M225.5 211.0h0M224.6 210.8h0M296.4 225.7h0M297.3 225.7h0M298.2 225.7h0M297.3 224.8h0M298.2 225.0h0M297.6 223.6h0M291.9 223.9h0M292.2 223.1h0M293.0 223.3h0M293.8 223.8h0M293.7 222.2h0M294.2 221.0h0M301.6 235.1h0M302.7 234.5h0M303.3 233.3h0M264.6 242.2h0M263.7 242.4h0M262.8 242.7h0M288.2 237.5h0M287.3 237.3h0M286.5 237.2h0M287.1 236.9h0M286.7 236.1h0M228.7 222.2h0M228.0 222.8h0M227.4 223.4h0M265.9 233.4h0M254.0 204.1h0M254.7 205.2h0M254.2 206.0h0M253.8 206.8h0M255.6 206.2h0M256.7 206.8h0M256.7 207.7h0M267.3 241.6h0M268.1 242.0h0M268.9 242.4h0M268.3 240.8h0M268.3 239.9h0M291.7 232.0h0M292.4 231.3h0M291.5 230.7h0M290.9 230.1h0M292.6 230.0h0M293.5 230.3h0M294.3 230.7h0M291.3 229.4h0M290.0 229.2h0M289.2 228.2h0M288.3 228.2h0M256.5 240.4h0M241.1 191.2h0M241.4 192.5h0M242.2 193.0h0M243.0 193.5h0M242.2 193.6h0M312.0 221.8h0M312.7 222.5h0M239.7 211.3h0M238.8 211.2h0M239.7 210.0h0M240.4 209.5h0M240.8 209.3h0M241.9 208.5h0M242.0 207.6h0M242.1 206.7h0M242.9 207.7h0M243.8 206.8h0M244.7 207.0h0M295.3 212.3h0M237.7 224.0h0M238.0 223.2h0M238.3 222.3h0M237.5 222.7h0M236.6 222.4h0M277.6 225.1h0M278.2 224.5h0M278.9 223.8h0M261.3 188.7h0M260.6 188.1h0M260.1 189.1h0M259.5 188.5h0M260.6 189.6h0M251.2 208.4h0M252.1 208.4h0M253.0 208.3h0M252.2 209.3h0M278.7 227.8h0M277.9 228.2h0M278.1 229.0h0M278.6 229.7h0M258.0 241.0h0M257.6 240.3h0M258.5 239.8h0M242.6 239.6h0M243.5 239.6h0M244.4 239.6h0M243.8 239.1h0M244.6 239.4h0M245.5 239.8h0M292.5 200.9h0M293.4 201.2h0M294.2 201.6h0M247.9 203.5h0M243.8 230.0h0M226.7 212.9h0M225.8 212.8h0M224.9 212.7h0M237.2 211.1h0M264.5 190.0h0M265.3 189.5h0M240.0 223.6h0M240.1 222.7h0M240.2 221.8h0M236.0 237.9h0M236.5 237.2h0M235.5 236.7h0M277.1 218.8h0M277.6 218.0h0M235.9 231.2h0M237.1 231.8h0M237.9 231.3h0M271.3 238.3h0M270.6 238.7h0M271.9 239.4h0M271.4 240.2h0M260.1 242.5h0M260.9 242.0h0M254.4 241.6h0M254.2 242.5h0M253.3 242.3h0M252.2 243.0h0M251.4 242.5h0M266.7 232.4h0M266.2 233.1h0M265.6 233.9h0M267.1 233.7h0M264.8 238.8h0M265.6 239.2h0M266.4 239.6h0M280.2 211.5h0M280.8 210.8h0M280.2 210.2h0M280.8 209.5h0M281.5 208.9h0M220.3 213.7h0M281.5 191.9h0M289.8 232.2h0M290.1 231.4h0M290.3 230.5h0M241.8 233.4h0M242.7 233.4h0M285.3 221.5h0M284.0 221.6h0M283.4 220.9h0M241.7 242.0h0M269.0 226.0h0M268.4 225.3h0M267.8 224.7h0M267.8 226.3h0M242.6 189.8h0M243.1 190.6h0M241.3 189.7h0M308.0 213.4h0M306.8 213.9h0M226.2 232.1h0M223.3 227.4h0M222.5 227.1h0M287.7 195.4h0M288.6 195.6h0M289.4 195.7h0M288.3 194.3h0M288.1 193.4h0M289.0 193.1h0M292.8 224.4h0M293.7 224.5h0M294.6 224.7h0M265.8 222.3h0M232.0 196.7h0M231.5 196.0h0M231.1 195.2h0M230.7 196.4h0M229.5 196.1h0M228.9 195.4h0M255.5 217.8h0M255.7 219.1h0M278.1 191.6h0M278.6 192.3h0M279.2 193.0h0M228.4 221.4h0M271.7 185.7h0M272.1 184.9h0M272.5 184.1h0M245.3 189.1h0M245.2 190.0h0M245.2 190.9h0M234.1 232.9h0M234.7 232.2h0M235.4 233.0h0M236.1 232.4h0M301.2 206.1h0M301.3 207.0h0M301.5 207.9h0M301.1 226.8h0M302.2 226.0h0M303.0 226.3h0M303.9 226.6h0M310.5 226.8h0M311.2 227.3h0M312.0 227.8h0M294.5 234.8h0M293.6 234.5h0M293.3 235.3h0M281.8 189.4h0M282.5 188.8h0M281.8 188.1h0M234.7 237.8h0M238.8 192.8h0M262.9 229.0h0M297.4 236.1h0M296.5 236.2h0M295.6 236.2h0M296.9 237.3h0M296.2 238.4h0M295.3 238.5h0M296.4 239.7h0M295.7 240.2h0M295.6 239.5h0M286.9 239.6h0M286.6 238.3h0M229.9 212.8h0M230.2 214.1h0M231.1 215.0h0M231.1 215.9h0M279.1 212.7h0M278.6 211.5h0M277.8 210.4h0M268.8 250.2h0M268.0 250.5h0M268.2 251.4h0M268.4 252.2h0M268.2 252.7h0M269.0 253.2h0M269.7 253.7h0M250.8 217.1h0M251.7 218.0h0M310.9 215.1h0M310.1 215.6h0M309.3 216.1h0M232.8 195.4h0M232.8 194.5h0M232.7 193.6h0M231.7 196.0h0M230.9 195.6h0M291.1 197.7h0M292.0 197.9h0M292.8 198.2h0M292.3 197.2h0M287.6 242.6h0M288.4 242.3h0M288.8 242.3h0M289.5 242.8h0M290.3 243.3h0M290.0 241.8h0M290.3 240.9h0M290.5 240.0h0M266.5 208.2h0M266.7 207.3h0M267.4 207.3h0M268.3 207.3h0M268.6 206.9h0M269.4 207.4h0M270.1 208.0h0M230.7 210.1h0M230.3 208.9h0M229.8 207.6h0M229.1 208.3h0M294.2 232.4h0M261.7 185.7h0M288.9 212.7h0M266.1 193.9h0M286.7 214.6h0M286.8 215.5h0M287.6 215.5h0M277.4 227.9h0M277.2 227.1h0M269.5 251.4h0M268.7 252.4h0M267.8 252.5h0M266.9 252.5h0M275.8 216.9h0M276.3 216.1h0M274.8 216.0h0M274.0 216.3h0M273.7 215.4h0M272.9 215.8h0M273.4 214.2h0M272.7 213.6h0M272.0 213.1h0M238.9 190.7h0M267.2 206.0h0M242.4 232.1h0M243.0 231.4h0M243.4 231.2h0M243.4 230.3h0M281.1 189.9h0M281.5 188.7h0M282.3 188.2h0M283.1 187.8h0M281.8 187.4h0M281.3 186.6h0M280.8 185.9h0M230.9 222.7h0M230.9 224.0h0M230.2 224.5h0M233.1 240.1h0M232.2 240.2h0M233.2 241.4h0M234.3 242.1h0M235.3 242.9h0M231.3 219.0h0M230.0 219.1h0M231.9 212.4h0M240.8 241.2h0M241.4 241.9h0M242.0 242.6h0M242.1 241.4h0M242.8 240.9h0M274.8 187.7h0M275.9 187.0h0M282.3 209.6h0M282.5 208.8h0M295.1 211.8h0M258.3 231.6h0M259.6 231.2h0M265.3 212.0h0M265.4 211.1h0M265.5 210.2h0M266.3 211.1h0M266.3 210.2h0M302.7 203.4h0M303.5 203.1h0M266.7 200.5h0M267.6 200.8h0M260.0 230.1h0M261.1 229.5h0M261.1 228.6h0M290.0 196.9h0M290.8 197.3h0M291.6 197.6h0M240.0 192.0h0M240.7 192.6h0M241.4 193.1h0M281.9 239.8h0M281.1 240.8h0M280.2 240.7h0M259.0 241.7h0M259.6 241.1h0M239.1 216.6h0M238.5 215.9h0M241.5 245.6h0M240.6 244.6h0M241.4 245.6h0M241.3 246.4h0M241.1 247.3h0M269.9 247.7h0M270.2 246.8h0M302.5 210.5h0M272.3 239.0h0M271.7 239.6h0M271.0 240.3h0M235.5 213.1h0M235.6 214.0h0M312.7 220.7h0M312.9 219.8h0M313.1 218.9h0M287.0 212.4h0M287.8 212.0h0M287.4 211.1h0M295.8 235.4h0M295.9 236.2h0M296.0 237.1h0M250.6 237.3h0M251.3 238.4h0M250.9 239.3h0M250.6 240.1h0M246.4 187.4h0M280.0 225.5h0M258.1 197.5h0M270.0 252.3h0M242.8 203.0h0M242.7 203.9h0M242.7 204.8h0M239.9 239.9h0M240.7 240.3h0M228.4 201.7h0M228.3 202.6h0M228.3 203.5h0M254.6 215.1h0M254.2 214.3h0M253.8 213.5h0M252.8 193.3h0M253.7 193.5h0M241.6 242.2h0M242.0 241.4h0M242.4 240.6h0M260.5 198.3h0M261.2 197.8h0M261.9 197.2h0M299.8 228.7h0M300.1 230.0h0M299.7 230.8h0M256.5 240.3h0M256.2 239.1h0M255.6 238.5h0M254.9 237.9h0M264.4 223.0h0M265.2 222.5h0M246.6 211.7h0M246.0 211.1h0M245.3 211.6h0M245.0 210.8h0M244.6 210.0h0M287.6 210.5h0M242.8 226.8h0M265.0 220.9h0M226.8 212.5h0M226.1 213.1h0M283.1 227.3h0M283.8 226.8h0M284.6 226.3h0M294.1 225.2h0M280.9 231.7h0M255.5 193.7h0M223.4 228.4h0M224.3 228.4h0M225.2 228.5h0M224.4 227.6h0M280.5 190.8h0M281.8 190.5h0M282.2 189.7h0M232.5 234.5h0M232.2 235.3h0M231.9 236.2h0M273.8 246.8h0M263.5 228.1h0M248.2 209.6h0M246.9 209.5h0M236.9 217.5h0M236.7 216.6h0M237.6 216.4h0M263.3 236.2h0M264.2 236.4h0M291.4 200.3h0M291.7 201.5h0M258.9 239.4h0M259.6 240.0h0M260.3 240.6h0M278.4 213.8h0M277.5 213.6h0M276.7 213.4h0M277.7 212.7h0M277.9 211.8h0M271.0 223.4h0M271.0 222.5h0M271.0 221.6h0M300.0 206.4h0M300.8 206.0h0M262.6 249.9h0M261.9 251.0h0M261.0 251.0h0M260.1 251.0h0M262.0 252.3h0M277.2 215.7h0M277.8 215.0h0M278.3 214.3h0M282.7 225.8h0M231.9 240.3h0M301.3 210.8h0M251.1 187.1h0M250.3 187.5h0M252.6 206.1h0M252.3 207.0h0M262.5 250.8h0M284.1 215.7h0M276.9 243.4h0M276.3 244.0h0M275.7 244.7h0M275.7 243.6h0M275.2 244.4h0M274.7 242.7h0M277.6 190.8h0M276.5 220.2h0M226.8 235.2h0M226.4 236.0h0M235.1 228.5h0M235.5 227.7h0M286.3 203.4h0M287.1 203.1h0M287.9 202.7h0M287.4 203.9h0M287.5 204.8h0M287.6 205.7h0M245.6 202.2h0M246.3 202.8h0M246.7 201.5h0M243.0 246.3h0M243.7 245.9h0M244.5 245.4h0M244.1 246.9h0M244.9 246.6h0M245.8 246.2h0M244.0 245.6h0M244.6 246.2h0M297.1 228.1h0M298.0 228.5h0M298.8 228.8h0M297.5 229.4h0M297.2 230.2h0M264.2 241.4h0M264.3 223.3h0M265.1 223.0h0M247.0 217.6h0M288.2 210.3h0M289.0 209.8h0M232.0 196.7h0M230.7 196.3h0M229.6 196.9h0M229.5 197.8h0M258.0 241.0h0M258.4 239.8h0M229.6 223.3h0M232.8 195.6h0M232.3 194.8h0M231.5 195.6h0M231.0 194.9h0M230.4 194.2h0M262.5 249.7h0M262.2 188.3h0M262.4 189.2h0M262.7 190.1h0M261.3 189.3h0M260.3 190.1h0M260.4 191.0h0M267.5 234.6h0M268.1 235.7h0M289.9 246.2h0M290.6 245.6h0M291.3 245.0h0M267.4 231.3h0M250.6 237.3h0M251.2 238.5h0M285.0 222.8h0M239.5 225.0h0M240.1 225.7h0M240.7 226.4h0M240.0 223.8h0M240.8 223.6h0M239.0 223.0h0M238.1 223.0h0M240.5 210.3h0M240.5 209.4h0M240.5 208.5h0M276.0 234.0h0M276.8 234.4h0M277.6 234.8h0M276.5 235.2h0M277.1 236.4h0M277.5 237.6h0M278.3 237.9h0M281.8 195.2h0M281.7 196.1h0M281.8 196.5h0M282.6 196.9h0M283.3 197.4h0M266.6 206.9h0M266.0 206.1h0M264.5 189.5h0M265.2 190.1h0M265.8 190.8h0M288.8 196.2h0M289.7 196.3h0M290.6 196.3h0M306.4 223.5h0M307.1 224.1h0M312.0 221.8h0M269.0 217.1h0M224.7 228.3h0M236.6 217.3h0M237.5 217.2h0M237.9 217.2h0M238.6 217.7h0M239.3 218.3h0M300.8 229.2h0M301.5 229.7h0M302.3 230.2h0M303.1 224.0h0M303.9 224.2h0M304.8 224.5h0M247.5 210.6h0M246.2 210.5h0M245.6 211.1h0M242.4 243.1h0M242.7 242.3h0M242.9 241.4h0M234.3 229.4h0M234.8 228.7h0M224.7 205.1h0M264.9 188.9h0M265.6 189.9h0M266.5 190.0h0M293.2 197.4h0M293.7 198.1h0M294.3 198.8h0M272.9 230.4h0M273.6 229.3h0M237.0 217.5h0M237.5 218.3h0M232.5 220.8h0M232.8 222.0h0M232.2 222.7h0M263.2 237.6h0M264.0 237.2h0M264.8 236.8h0M264.2 238.4h0M264.2 239.3h0M234.7 206.5h0M233.4 206.4h0M278.2 191.7h0M277.6 192.3h0M276.9 192.9h0M307.1 212.4h0M302.6 227.6h0M303.5 227.8h0M253.4 205.1h0M253.1 205.9h0M259.2 212.5h0M260.1 212.6h0M261.0 212.8h0M259.7 213.7h0M277.1 227.4h0M302.4 210.4h0M301.8 209.8h0M240.3 192.3h0M256.5 185.2h0M257.1 185.8h0M298.1 230.8h0M298.6 231.6h0M268.2 251.5h0M267.5 251.0h0M253.0 210.1h0M253.3 209.3h0M251.7 228.4h0M237.6 193.4h0M237.3 194.3h0M237.0 195.1h0M254.0 204.1h0M254.8 205.1h0M255.7 205.1h0M256.6 205.1h0M267.5 240.3h0M285.7 212.6h0M254.5 241.8h0M254.3 242.6h0M253.5 242.6h0M252.6 242.6h0M251.7 242.5h0M252.6 243.5h0M252.8 244.4h0M301.7 210.9h0M302.1 209.7h0M301.8 208.9h0M238.1 222.9h0M292.3 234.5h0M242.6 239.6h0M250.1 210.8h0M311.0 225.6h0M227.7 202.7h0M227.3 201.9h0M303.2 224.1h0M303.8 223.4h0M281.6 248.1h0M281.4 248.9h0M282.3 249.2h0M283.2 249.2h0M283.6 249.1h0M284.9 249.1h0M285.4 248.4h0M266.6 208.5h0M266.8 207.6h0M267.1 206.7h0M238.7 190.1h0M290.3 230.5h0M238.4 221.8h0M280.2 200.3h0M280.1 201.2h0M279.9 202.1h0M235.3 207.4h0M234.6 208.0h0M233.9 208.5h0M234.0 207.2h0M265.6 233.4h0M265.1 234.2h0M264.5 234.9h0M237.4 216.8h0M243.9 245.2h0M244.3 244.3h0M241.5 228.9h0M242.3 228.6h0M243.2 228.2h0M278.4 249.6h0M278.1 250.4h0M275.9 216.8h0M302.0 237.0h0M264.8 238.8h0M265.2 238.0h0M256.4 250.1h0M256.9 250.8h0M257.5 251.6h0M255.9 251.3h0M281.0 249.1h0M281.4 250.3h0M258.7 201.3h0M258.6 202.6h0M257.8 203.1h0M257.0 203.5h0M248.0 194.2h0M248.8 193.8h0M249.6 193.4h0M254.5 203.3h0M255.3 203.6h0M256.2 203.9h0M261.5 202.2h0M261.9 203.4h0M261.4 204.2h0M264.3 219.3h0M297.1 217.7h0M296.3 218.0h0M234.2 242.1h0M234.4 243.0h0M234.5 243.9h0M235.3 243.0h0M236.1 242.8h0M237.0 242.7h0M271.8 204.8h0M251.2 209.3h0M251.4 210.2h0M252.3 210.0h0M252.5 210.9h0M252.6 211.8h0M253.3 210.8h0M254.2 210.7h0M255.1 210.6h0M260.5 207.5h0M260.2 208.7h0M278.6 227.7h0M277.9 228.8h0M277.0 229.1h0M276.2 229.4h0M278.9 212.8h0M278.2 211.7h0M278.4 210.8h0M277.5 210.6h0M269.0 225.5h0M268.1 225.4h0M267.2 225.4h0M273.2 238.0h0M273.5 237.2h0M273.8 236.3h0M302.5 210.2h0M302.8 209.4h0M303.1 208.5h0M303.7 210.8h0M304.0 211.7h0M304.3 212.5h0M300.2 216.6h0M254.5 191.4h0M255.5 190.6h0M276.8 190.0h0M277.2 190.8h0M277.7 191.6h0M277.8 212.6h0M277.3 213.4h0M274.4 249.6h0M232.1 223.1h0M232.3 223.9h0M232.5 224.8h0M267.2 206.1h0M268.0 206.5h0M268.7 207.0h0M275.5 202.4h0M274.9 201.3h0M275.2 200.4h0M275.5 199.6h0M273.9 200.4h0M242.9 230.9h0M243.8 230.8h0M244.7 230.6h0M263.2 238.7h0M278.3 250.9h0M277.6 251.5h0M229.4 209.9h0M228.9 210.7h0M228.4 211.4h0M288.7 212.6h0M273.7 189.6h0M273.2 190.3h0M272.6 191.0h0M301.7 234.8h0M302.9 235.5h0M303.1 236.3h0M297.5 208.7h0M298.1 209.4h0M298.7 210.0h0M284.5 215.7h0M283.9 216.3h0M271.7 229.9h0M272.8 229.3h0M248.1 191.0h0M248.3 192.3h0M247.7 193.0h0M247.1 193.6h0M287.8 214.6h0M287.7 215.5h0M287.5 216.4h0M291.2 197.9h0M292.5 197.7h0M251.0 187.1h0M250.3 186.4h0M249.7 185.8h0M285.7 223.6h0M276.5 220.4h0M276.8 221.2h0M223.6 229.3h0M223.7 228.0h0M224.5 227.6h0M225.0 228.3h0M311.3 213.6h0M310.8 212.9h0M310.2 212.2h0M287.8 193.1h0M225.6 204.5h0M224.4 204.1h0M223.6 204.5h0M224.7 230.3h0M225.2 229.1h0M299.5 237.1h0M288.8 212.4h0M228.7 213.8h0M228.3 214.6h0M271.4 236.2h0M271.8 235.4h0M272.7 235.9h0M273.2 236.6h0M281.7 195.1h0M282.1 196.0h0M267.9 235.5h0M268.4 236.3h0M263.4 227.8h0M264.3 227.5h0M246.5 202.3h0M246.4 201.5h0M246.2 200.6h0M241.8 233.4h0M229.4 201.7h0M228.1 201.5h0M285.8 211.8h0M285.0 212.2h0M284.1 212.5h0M284.7 212.5h0M284.5 213.4h0M299.9 206.6h0M270.6 235.2h0M271.8 235.6h0M245.6 195.4h0M244.8 195.0h0M244.1 194.5h0M280.8 187.6h0M241.6 245.7h0M240.9 246.1h0M237.0 226.5h0M236.8 225.6h0M236.7 224.7h0M259.3 230.9h0M270.0 224.5h0M269.1 224.8h0M298.0 228.6h0M297.3 229.2h0M296.6 229.7h0M298.3 229.8h0M257.0 224.9h0M258.3 225.0h0M259.0 224.4h0M259.6 225.1h0M304.8 205.4h0M304.7 206.3h0M304.6 207.2h0M305.9 206.1h0M306.7 205.7h0M307.0 206.7h0M242.2 243.3h0M263.5 190.8h0M263.4 191.7h0M263.3 192.6h0M246.8 242.8h0M246.0 242.5h0M297.2 223.5h0M254.8 230.0h0M251.5 222.1h0M252.3 222.4h0M235.4 228.4h0M234.6 228.0h0M278.4 227.2h0M277.2 227.0h0M257.0 220.2h0M257.3 221.0h0M253.4 185.1h0M252.5 185.1h0M252.7 186.2h0M253.1 187.0h0M286.3 243.2h0M287.6 243.1h0M288.3 243.8h0M288.9 244.4h0M281.6 247.1h0M280.7 248.1h0M249.0 222.8h0M249.6 223.5h0M250.2 224.2h0M248.7 224.1h0M276.9 234.7h0M230.7 223.5h0M231.6 223.7h0M232.5 223.8h0M297.4 236.1h0M296.5 237.1h0M296.6 238.0h0M296.7 238.9h0M259.9 211.3h0M260.1 212.6h0M260.9 213.1h0M259.7 213.9h0M258.8 214.1h0M306.2 219.4h0M306.3 218.5h0M305.3 218.4h0M304.4 218.4h0M303.5 218.4h0M259.4 230.8h0M272.3 225.4h0M241.1 230.2h0M240.2 230.2h0M240.8 228.9h0M240.0 228.5h0M298.2 237.2h0M299.1 237.1h0M300.0 237.1h0M269.7 251.5h0M270.1 252.3h0M269.3 252.7h0M268.5 253.1h0M268.5 249.4h0M267.8 250.0h0M267.2 250.6h0M268.5 250.7h0M262.4 190.9h0M252.5 208.6h0M251.5 227.3h0M250.6 227.3h0M249.7 227.4h0M238.9 192.6h0M238.8 193.5h0M280.8 227.9h0M280.3 228.7h0M279.8 229.4h0M257.8 218.5h0M290.0 229.3h0M289.6 228.5h0M272.5 186.7h0M273.4 187.0h0M274.2 187.4h0M273.7 186.1h0M273.9 185.2h0M274.2 184.3h0M229.4 221.1h0M228.8 221.7h0M228.1 222.3h0M228.6 220.1h0M257.7 250.4h0M257.2 251.5h0M256.3 251.6h0M255.4 251.7h0M265.4 212.3h0M302.4 226.5h0M302.9 225.8h0M303.4 225.0h0M257.4 184.6h0M287.4 242.0h0M287.2 241.1h0M269.2 250.4h0M269.8 251.0h0M268.9 251.7h0M268.2 252.2h0M269.3 252.9h0M238.2 222.8h0M239.0 221.8h0M239.9 221.6h0M248.9 191.7h0M248.2 192.3h0M266.3 210.0h0M267.1 209.0h0M268.0 209.0h0M230.5 210.2h0M230.7 209.3h0M229.7 209.2h0M229.8 208.3h0M229.8 207.4h0M228.7 208.3h0M229.2 214.0h0M230.1 214.0h0M234.7 237.8h0M233.8 237.5h0M233.0 237.2h0M247.9 208.4h0M247.0 208.0h0M246.2 207.7h0M241.3 239.8h0M242.5 239.3h0M279.8 197.6h0M278.9 197.4h0M278.8 198.4h0M277.9 198.3h0M277.0 198.1h0M296.2 229.0h0M291.3 200.3h0M292.0 201.4h0M291.7 202.3h0M291.5 203.1h0M241.7 233.3h0M221.3 218.6h0M220.6 219.7h0M233.5 241.3h0M234.4 242.3h0M234.2 243.2h0M259.0 213.6h0M258.1 213.3h0M257.3 213.0h0M231.9 221.6h0M232.3 222.8h0M310.9 225.5h0M311.2 224.6h0M311.5 223.7h0M261.4 184.3h0M258.8 241.7h0M258.0 241.3h0M257.2 240.9h0M272.9 202.3h0M272.0 202.2h0M271.1 202.0h0M282.9 215.9h0M274.7 188.1h0M246.0 217.7h0M246.9 217.8h0M247.0 218.6h0M247.9 218.4h0M248.8 218.2h0M263.7 241.2h0M264.1 242.1h0M276.4 242.2h0M266.5 200.3h0M301.0 205.6h0M229.0 210.7h0M228.1 209.8h0M260.0 240.9h0M260.9 241.1h0M261.8 241.3h0M250.7 187.0h0M249.8 187.0h0M248.9 187.1h0M232.7 234.3h0M232.5 235.1h0M237.5 191.3h0M236.3 191.5h0M235.7 192.2h0M241.2 245.7h0M242.1 245.8h0M243.0 246.0h0M285.9 210.9h0M285.7 210.0h0M285.4 209.1h0M281.4 192.1h0M292.8 231.3h0M293.6 231.6h0M238.9 198.1h0M239.3 198.9h0M240.2 198.4h0M240.8 197.7h0M258.9 239.3h0M259.6 239.9h0M260.3 240.5h0M299.6 228.6h0M300.3 228.1h0M301.0 227.5h0M288.4 237.5h0M298.1 217.3h0M297.2 217.2h0M296.3 217.1h0M297.0 218.0h0M296.9 218.9h0M296.7 219.8h0M252.7 225.3h0M254.3 223.6h0M266.7 202.9h0M267.6 203.1h0M268.5 203.3h0M238.4 221.8h0M238.2 221.0h0M237.9 220.1h0M252.8 224.8h0M253.5 225.4h0M254.1 226.0h0M263.9 222.3h0M264.7 223.3h0M239.8 198.3h0M239.9 199.2h0M264.7 189.0h0M265.8 189.7h0M266.6 189.3h0M267.4 188.9h0M296.1 225.5h0M296.9 224.4h0M297.7 224.3h0M298.6 224.1h0M297.3 223.2h0M298.1 222.8h0M298.9 222.4h0M229.8 203.4h0M239.1 216.6h0M240.0 216.4h0M286.4 197.5h0M236.9 230.4h0M237.0 229.5h0M237.1 228.6h0M278.9 212.6h0M278.6 211.7h0M278.3 210.9h0M257.5 184.7h0M257.1 186.0h0M256.2 186.2h0M255.3 186.4h0M256.4 240.5h0M256.0 239.7h0M227.9 210.7h0M227.9 209.8h0M227.9 208.9h0M257.1 198.4h0M248.3 192.1h0M302.6 227.2h0M302.9 228.1h0M303.2 229.0h0M303.9 227.5h0M305.2 227.3h0M305.6 226.5h0M306.1 225.7h0M259.1 226.0h0M260.0 226.3h0M260.8 226.5h0M256.8 193.9h0M258.0 193.3h0M256.4 247.1h0M255.8 247.8h0M255.2 248.4h0M257.9 225.2h0M246.5 188.6h0M247.2 189.1h0M247.9 189.7h0M293.0 224.7h0M293.3 223.9h0M293.7 223.0h0M261.2 205.6h0M257.0 217.9h0M257.4 219.2h0M257.0 219.9h0M297.1 228.1h0M296.7 229.0h0M297.6 229.4h0M297.1 230.1h0M296.6 230.9h0M250.9 236.1h0M251.2 235.3h0M251.4 234.4h0M281.9 239.7h0M282.1 240.6h0M309.8 211.8h0M310.7 211.6h0M292.2 198.3h0M259.1 213.3h0M259.0 214.2h0M312.7 220.7h0M313.6 220.6h0M259.2 196.9h0M260.1 197.0h0M256.3 219.0h0M255.5 220.1h0M254.6 220.1h0M253.7 220.2h0M250.3 210.8h0M251.2 210.6h0M252.1 210.5h0M251.0 211.9h0M282.7 226.0h0M283.4 225.5h0M284.2 224.9h0M264.0 238.1h0M262.9 222.2h0M263.1 223.1h0M263.3 223.9h0M286.5 220.0h0M285.8 219.5h0M285.1 218.9h0M236.6 224.2h0M303.6 226.2h0M304.0 227.0h0M304.8 226.7h0M225.8 231.2h0M291.1 234.2h0M274.2 231.1h0M293.5 234.6h0M292.6 235.5h0M292.8 236.4h0M264.0 221.0h0M263.8 221.8h0M265.0 221.8h0M266.0 222.6h0M266.9 222.2h0M275.0 186.4h0M274.4 185.7h0M273.8 185.0h0M272.3 236.1h0M223.3 227.4h0M223.8 226.6h0M276.0 221.4h0M276.6 220.8h0M277.2 220.1h0M262.1 248.6h0M261.4 249.7h0M235.1 232.0h0M235.1 231.1h0M235.2 230.2h0M279.6 196.2h0M279.3 197.0h0M279.0 197.9h0M278.3 196.3h0M277.0 196.7h0M276.6 197.5h0M276.3 198.3h0M274.9 242.5h0M275.0 241.7h0M275.2 240.8h0M306.7 206.4h0M254.3 228.9h0M254.9 228.3h0M255.5 242.4h0M254.5 243.2h0M254.6 244.0h0M254.7 244.9h0M261.3 188.7h0M261.7 185.8h0M260.9 186.3h0M260.1 186.7h0M297.3 201.1h0M297.5 199.8h0M298.2 199.4h0M262.8 251.2h0M261.9 251.0h0M262.0 252.2h0M261.1 252.3h0M232.6 231.2h0M232.4 229.9h0M231.6 229.5h0M231.1 229.8h0M230.5 230.5h0M229.8 229.6h0M229.1 230.1h0M229.3 228.4h0M229.7 227.5h0M230.0 226.7h0M269.1 226.2h0M268.5 225.4h0M268.0 224.7h0M267.8 226.4h0M267.5 227.3h0M287.5 202.9h0M302.6 234.3h0M302.6 233.4h0M235.7 237.0h0M235.9 236.1h0M236.0 235.2h0M256.4 239.0h0M245.4 202.0h0M246.5 201.3h0M277.3 211.2h0M276.6 211.8h0M275.9 212.3h0M279.8 193.3h0M280.2 194.2h0M280.6 195.0h0M240.3 203.2h0M241.2 204.1h0M242.0 204.0h0M281.1 228.1h0M280.2 228.0h0M279.3 227.9h0M231.0 213.6h0M231.0 214.5h0M232.0 214.3h0M232.0 215.2h0M291.6 199.8h0M292.2 200.9h0M293.0 201.1h0M290.8 246.2h0M292.0 245.6h0M266.0 233.5h0M265.6 189.4h0M293.1 197.4h0M293.7 196.3h0M267.3 227.4h0M266.5 227.3h0M303.4 205.6h0M304.3 205.5h0M305.2 205.4h0M299.7 228.8h0M300.6 228.8h0M300.1 230.0h0M299.5 230.7h0M255.9 205.5h0M256.6 204.9h0M257.3 204.3h0M299.1 207.1h0M299.7 206.5h0M300.4 205.9h0M299.6 206.0h0M255.4 193.8h0M256.1 194.3h0M256.9 194.8h0M253.7 235.4h0M254.8 234.8h0M254.8 233.9h0M276.2 204.2h0M276.0 205.1h0M275.8 205.9h0M255.8 217.7h0M256.7 217.8h0M257.6 217.9h0M254.9 215.4h0M255.8 215.6h0M264.9 190.4h0M265.2 191.2h0M265.6 192.0h0M245.2 196.2h0M278.0 205.8h0M245.7 211.6h0M291.5 232.0h0M292.1 230.9h0M291.8 230.0h0M291.5 229.1h0M219.9 216.5h0M219.2 216.0h0M218.5 215.4h0M282.2 208.3h0M282.8 207.6h0M265.2 242.2h0M265.1 243.1h0M264.3 223.2h0M263.6 223.8h0M284.5 244.1h0M285.0 244.9h0M285.5 245.6h0M239.8 243.6h0M240.1 244.9h0M239.6 245.7h0M239.2 246.4h0M269.5 251.3h0M269.3 252.2h0M269.2 253.1h0M270.0 252.6h0M263.0 251.2h0M263.4 252.4h0M262.8 253.1h0M254.6 242.9h0M286.4 240.6h0M285.2 219.5h0M247.8 203.2h0M248.7 203.4h0M249.6 203.5h0M285.4 203.2h0M285.8 204.0h0M286.2 204.8h0M280.5 190.8h0M281.8 190.7h0M282.6 191.2h0M283.3 191.8h0M235.6 193.1h0M235.0 192.4h0M234.5 191.6h0M234.3 193.2h0M233.8 192.5h0M299.1 216.9h0M297.9 217.5h0M297.7 218.4h0M280.6 188.7h0M279.7 188.5h0M278.8 188.3h0M280.3 187.5h0M246.4 187.4h0M246.3 186.5h0M246.2 185.6h0M310.5 226.9h0M310.7 225.7h0M256.9 193.7h0M283.1 234.2h0M292.5 200.8h0M241.3 189.7h0M240.7 190.4h0M278.2 202.9h0M277.8 204.1h0M264.9 242.3h0M243.4 239.0h0M242.8 238.4h0M242.1 237.8h0M285.7 196.9h0M286.5 197.3h0M285.7 198.2h0M284.9 198.6h0M284.2 199.1h0M287.5 203.0h0M288.4 203.0h0M288.5 203.8h0M289.4 204.8h0M290.2 204.6h0M259.3 240.8h0M260.0 241.4h0M259.5 242.1h0M260.3 242.5h0M261.1 242.9h0M241.5 242.3h0M278.9 211.2h0M278.4 210.4h0M251.8 237.4h0M252.6 237.7h0M253.5 238.0h0M286.9 215.9h0M288.6 240.7h0M288.9 239.9h0M289.8 240.5h0M259.5 199.3h0M231.7 222.8h0M230.8 223.1h0M231.4 224.0h0M231.9 224.8h0M266.0 197.5h0M266.7 196.4h0M276.2 244.2h0M275.5 244.8h0M274.9 245.4h0M274.9 244.1h0M235.3 233.0h0M234.8 233.7h0M234.2 234.4h0M253.4 186.5h0M277.1 219.0h0M277.5 218.1h0M259.9 230.1h0M259.1 229.8h0M231.9 240.3h0M243.3 225.5h0M242.9 224.7h0M287.5 238.6h0M286.6 238.3h0M285.8 237.9h0M286.6 237.7h0M286.1 236.5h0M285.2 236.1h0M284.4 235.8h0M267.1 232.2h0M262.5 252.1h0M263.2 252.7h0M263.8 253.4h0M281.1 189.6h0M281.9 189.3h0M234.9 232.0h0M236.1 232.5h0M302.9 233.2h0M303.5 232.6h0M227.2 233.0h0M300.0 217.8h0M300.1 216.9h0M264.3 223.5h0M263.5 224.0h0M299.2 229.9h0M230.6 202.2h0M230.2 203.0h0M229.5 201.5h0M278.7 205.1h0M278.0 205.7h0M277.4 206.3h0M278.1 206.2h0M277.2 206.5h0M276.3 206.7h0" stroke="#ffe10a" stroke-width="1.44" stroke-linecap="round" fill="none"/>
<path d="M367.8 189.2h0M366.8 190.2h0M400.8 187.8h0M402.1 189.2h0M400.4 190.2h0M407.6 193.3h0M409.6 193.9h0M394.3 192.7h0M383.7 196.3h0M386.1 195.9h0M389.8 195.9h0M355.9 198.4h0M357.6 200.4h0M358.6 201.4h0M354.5 204.1h0M344.9 205.5h0M377.6 206.5h0M378.4 207.1h0M384.5 204.5h0M385.1 205.5h0M338.2 209.0h0M355.5 210.2h0M359.2 209.6h0M375.5 210.6h0M390.2 208.6h0M408.2 204.5h0M409.6 206.5h0M411.7 204.9h0M414.3 206.1h0M404.9 208.6h0M404.1 209.6h0M338.2 212.7h0M350.4 213.3h0M351.4 213.7h0M358.6 214.3h0M359.6 213.7h0M383.1 213.7h0M347.0 218.8h0M393.9 216.7h0M394.7 219.8h0M393.9 221.8h0M342.3 224.5h0M353.5 223.9h0M354.5 223.3h0M355.9 226.5h0M362.1 228.6h0M369.8 228.0h0M370.8 229.0h0M341.7 229.4h0M354.5 232.7h0M394.3 232.0h0M344.9 236.7h0M347.0 238.8h0M409.6 239.2h0M345.3 241.6h0M400.4 241.6h0M362.7 244.9h0M396.3 244.9h0M398.8 245.7h0M401.4 246.9h0M389.8 250.4h0" stroke="#00bfff" stroke-width="1.80" stroke-linecap="round" fill="none"/>
<path d="M488.9 184.5h0M489.9 183.7h0M492.0 194.7h0M484.8 197.3h0M475.6 200.0h0M477.1 205.5h0M513.8 206.5h0M526.7 204.1h0M522.6 209.6h0M523.6 210.6h0M524.6 211.6h0M525.6 212.7h0M526.7 213.7h0M524.0 212.2h0M523.2 210.2h0M531.3 217.8h0M532.8 217.1h0M534.2 217.3h0M533.4 219.8h0M479.7 220.4h0M537.5 225.3h0M533.4 226.5h0M528.7 228.0h0M526.7 229.0h0M524.6 229.4h0M522.6 230.6h0M519.9 232.0h0M517.5 232.7h0M515.4 233.5h0M508.9 228.6h0M510.3 237.1h0M511.3 238.2h0M516.4 235.1h0M517.5 236.1h0M515.4 236.1h0M517.9 237.6h0M474.6 232.0h0M471.6 236.7h0M478.7 237.1h0M479.7 238.2h0M485.8 239.6h0M489.3 241.2h0M483.8 242.2h0M502.2 238.2h0M503.2 241.6h0M526.7 238.8h0M527.3 240.2h0M536.9 233.1h0M530.7 230.0h0M510.9 244.9h0M513.8 245.3h0M514.4 243.3h0M478.3 246.9h0M493.0 251.0h0M499.1 252.4h0M500.1 253.1h0M522.6 249.0h0M509.3 251.4h0" stroke="#ff00ff" stroke-width="1.80" stroke-linecap="round" fill="none"/>
<path d="M258.4 270.6h0M260.9 270.1h0M249.1 272.1h0M247.0 275.2h0M249.6 275.7h0M251.1 274.2h0M253.2 273.7h0M242.3 274.7h0M252.7 277.8h0M255.3 278.8h0M263.5 277.3h0M264.6 277.8h0M229.4 279.4h0M231.5 278.3h0M232.5 280.4h0M234.1 280.9h0M231.5 281.9h0M238.2 279.4h0M240.3 280.4h0M241.8 278.3h0M243.4 278.8h0M250.1 280.4h0M262.0 281.4h0M263.5 282.5h0M265.1 283.5h0M228.9 284.0h0M233.0 283.5h0M235.6 283.5h0M236.7 285.0h0M240.8 284.0h0M242.3 284.5h0M242.9 286.1h0M249.1 285.0h0M251.1 284.5h0M253.2 283.5h0M255.8 283.0h0M256.3 285.6h0M258.4 285.0h0M263.0 286.1h0M264.6 286.6h0M221.7 290.2h0M223.2 289.7h0M225.8 287.1h0M227.4 287.6h0M228.4 289.2h0M226.3 290.2h0M227.9 291.2h0M229.4 291.8h0M233.6 287.1h0M235.1 288.1h0M234.1 290.2h0M234.6 291.2h0M236.7 289.2h0M240.8 288.7h0M242.9 287.6h0M246.0 288.7h0M247.0 290.2h0M249.1 288.7h0M251.6 289.2h0M252.2 291.8h0M255.8 292.3h0M258.4 292.8h0M261.5 289.7h0M263.0 291.2h0M263.5 292.8h0M226.3 293.8h0M231.5 292.8h0M235.6 292.8h0M237.7 292.3h0M242.3 293.3h0M244.4 292.8h0M247.0 293.3h0M249.1 294.3h0M251.1 293.8h0M252.7 294.9h0M253.7 295.4h0M254.7 293.3h0M255.8 295.4h0M259.4 293.8h0M262.0 294.3h0M222.7 295.9h0M238.7 296.4h0M240.8 296.9h0M242.9 298.0h0M244.4 297.4h0M247.0 296.9h0M249.1 297.4h0M251.1 295.9h0M252.7 297.4h0M254.2 296.9h0M255.3 298.0h0M257.3 296.9h0M261.5 295.9h0M262.5 297.4h0M223.7 301.1h0M224.8 299.0h0M235.6 301.1h0M237.2 300.0h0M239.2 299.5h0M240.8 301.1h0M243.9 299.0h0M247.0 299.5h0M249.1 301.1h0M251.1 300.0h0M253.2 299.5h0M256.3 301.1h0M257.8 302.1h0M259.4 300.5h0M264.6 301.1h0M219.6 302.1h0M218.1 304.2h0M226.3 304.7h0M232.5 306.2h0M236.7 305.7h0M237.7 306.7h0M251.1 304.2h0M252.2 306.2h0M258.4 303.6h0M268.6 272.6h0M267.1 275.2h0M269.1 276.3h0M266.5 278.3h0M271.2 278.3h0M272.7 279.9h0M274.3 280.4h0M275.8 278.8h0M276.9 277.8h0M277.9 279.4h0M279.5 280.4h0M280.5 278.8h0M282.0 277.8h0M283.1 275.7h0M280.0 274.2h0M277.4 275.2h0M287.2 277.3h0M289.3 276.8h0M290.3 275.2h0M291.9 276.8h0M293.9 276.3h0M289.8 278.8h0M266.0 283.0h0M270.7 283.5h0M272.2 281.9h0M273.8 283.0h0M275.3 283.5h0M276.4 284.5h0M278.9 284.0h0M280.5 283.5h0M296.0 284.0h0M294.4 285.6h0M265.0 286.1h0M272.2 286.6h0M283.6 287.1h0M285.7 286.6h0M287.2 288.1h0M288.2 289.2h0M289.8 287.1h0M291.3 288.1h0M298.1 288.7h0M299.6 288.1h0M268.6 290.2h0M273.3 291.2h0M275.3 292.8h0M277.4 291.8h0M284.1 292.8h0M285.1 294.3h0M287.2 290.7h0M288.8 292.3h0M291.9 294.9h0M297.0 291.8h0M298.1 293.8h0M300.6 293.8h0M305.3 291.8h0M307.4 293.3h0M308.4 295.4h0M309.4 294.3h0M268.1 295.4h0M267.1 297.4h0M269.1 295.9h0M272.7 295.9h0M274.8 295.4h0M277.9 298.5h0M281.5 301.6h0M289.8 297.4h0M292.4 299.0h0M296.0 299.5h0M301.2 299.0h0M302.7 298.0h0M307.4 299.0h0M308.4 297.4h0M310.5 301.1h0M268.1 301.1h0M269.6 302.1h0M277.4 303.6h0M278.9 304.7h0M281.0 303.1h0M288.8 302.1h0M290.8 303.6h0M296.0 303.1h0M299.1 304.2h0M300.6 305.2h0M304.3 304.2h0M305.8 303.6h0M307.9 302.6h0M266.0 307.3h0M274.3 307.3h0M283.1 306.7h0M289.8 306.7h0M296.0 306.2h0M301.7 307.3h0M232.5 306.5h0M237.7 306.5h0M251.6 307.0h0M251.1 308.6h0M254.7 308.6h0M228.4 311.2h0M221.7 312.7h0M238.7 313.7h0M241.3 313.7h0M244.9 312.7h0M254.2 311.7h0M254.7 313.2h0M258.4 314.8h0M263.0 313.7h0M243.4 315.8h0M244.9 316.3h0M250.1 315.8h0M251.6 316.3h0M252.7 315.3h0M255.3 315.8h0M245.4 318.4h0M243.9 318.9h0M248.5 318.9h0M249.6 319.9h0M251.1 318.4h0M256.3 317.4h0M257.3 318.4h0M227.4 323.0h0M227.9 324.6h0M229.9 324.1h0M230.5 326.1h0M231.5 327.7h0M235.1 328.2h0M239.2 325.1h0M241.8 324.6h0M243.9 321.0h0M246.0 325.6h0M248.0 326.7h0M249.6 327.2h0M254.2 326.1h0M255.8 326.7h0M256.8 327.2h0M258.4 327.7h0M260.4 326.1h0M261.5 322.0h0M263.5 321.5h0M262.5 327.7h0M264.6 328.2h0M257.3 321.5h0M242.9 330.3h0M243.4 331.8h0M243.9 333.4h0M244.4 334.9h0M244.9 329.2h0M248.0 333.4h0M252.2 334.9h0M256.3 335.4h0M259.4 334.9h0M261.5 333.9h0M263.0 333.4h0M263.5 334.9h0M261.5 338.0h0M259.9 341.1h0M260.4 342.2h0M264.6 340.6h0M269.6 310.1h0M270.7 312.2h0M272.2 310.6h0M273.8 311.2h0M274.8 308.1h0M275.3 309.6h0M278.4 308.6h0M272.7 313.2h0M290.8 310.6h0M292.4 310.1h0M293.9 309.1h0M296.0 308.1h0M297.0 310.6h0M300.1 309.1h0M301.7 310.1h0M303.7 309.1h0M305.3 310.6h0M307.4 312.7h0M308.9 311.7h0M310.5 310.6h0M311.5 313.7h0M299.6 313.7h0M303.7 315.3h0M292.9 313.7h0M285.1 313.2h0M275.3 317.4h0M278.9 318.4h0M286.7 318.9h0M288.2 316.8h0M289.8 318.4h0M291.3 317.9h0M295.5 316.8h0M296.0 317.4h0M300.6 316.8h0M306.3 319.4h0M308.9 320.5h0M272.2 322.0h0M273.8 323.0h0M275.3 324.1h0M287.2 322.0h0M289.3 324.1h0M290.3 325.6h0M289.8 327.2h0M288.8 326.1h0M293.9 326.1h0M296.0 326.7h0M298.1 327.7h0M300.6 328.2h0M268.1 325.1h0M278.4 323.6h0M279.5 325.1h0M277.9 327.2h0M278.4 328.2h0M279.5 329.8h0M280.5 331.3h0M277.4 330.8h0M275.3 329.8h0M273.8 328.2h0M272.2 327.7h0M271.2 329.2h0M269.6 328.2h0M269.6 330.8h0M266.0 328.7h0M266.0 331.3h0M284.6 328.2h0M285.7 329.8h0M287.7 330.8h0M266.0 333.9h0M267.1 334.4h0M277.4 333.9h0M281.0 334.9h0M281.5 337.0h0M286.2 333.9h0M286.7 337.0h0M286.7 338.5h0M291.3 336.0h0M292.9 335.4h0M295.5 333.4h0M295.5 335.4h0M272.7 336.5h0M274.3 337.0h0M277.9 338.0h0M271.7 338.0h0M276.9 340.6h0M268.1 341.1h0M283.6 341.1h0M277.4 344.2h0M261.0 271.7h0M247.6 272.3h0M248.6 274.7h0M254.3 273.4h0M263.1 278.3h0M231.9 279.3h0M231.3 279.9h0M232.4 280.4h0M242.3 279.1h0M262.0 283.0h0M229.9 283.6h0M241.3 286.4h0M252.1 284.2h0M254.6 284.4h0M258.0 285.4h0M261.5 286.4h0M264.2 287.6h0M224.7 290.4h0M230.5 291.8h0M234.0 289.0h0M234.5 292.9h0M237.2 290.1h0M241.6 287.6h0M252.7 290.8h0M258.1 294.1h0M260.6 289.1h0M263.7 292.1h0M238.9 291.9h0M251.8 292.6h0M253.8 293.6h0M256.1 292.5h0M247.9 296.0h0M255.6 297.7h0M254.2 299.2h0M258.6 296.1h0M225.3 301.3h0M240.2 301.0h0M239.3 300.9h0M246.7 298.5h0M256.3 299.9h0M259.5 301.9h0M260.4 300.6h0M220.0 300.5h0M250.5 305.7h0M258.1 302.5h0M265.4 278.6h0M273.5 279.2h0M275.5 277.7h0M278.8 279.3h0M280.4 277.8h0M282.4 276.7h0M279.2 272.7h0M286.8 278.4h0M294.4 277.2h0M288.6 279.5h0M265.9 285.1h0M282.1 286.1h0M286.7 285.5h0M288.3 288.7h0M300.4 289.2h0M272.0 291.3h0M276.8 293.7h0M277.7 290.7h0M285.6 293.0h0M287.7 292.2h0M290.0 291.7h0M298.0 291.9h0M303.6 291.4h0M266.3 296.2h0M273.5 294.5h0M275.8 295.0h0M282.1 303.0h0M294.7 299.1h0M300.0 299.7h0M303.7 298.9h0M307.8 297.3h0M308.9 301.3h0M268.4 300.1h0M291.8 304.3h0M299.0 305.3h0M304.4 305.8h0M305.1 304.9h0M283.7 308.3h0M291.1 306.9h0M300.6 307.5h0M234.1 305.9h0M239.0 306.1h0M250.5 308.3h0M251.3 306.8h0M238.1 312.1h0M244.6 314.0h0M254.0 310.6h0M253.8 311.7h0M251.3 315.0h0M253.0 314.3h0M248.1 319.0h0M256.8 317.5h0M227.5 325.6h0M231.0 325.2h0M247.1 327.6h0M250.0 328.6h0M253.3 326.6h0M256.9 325.5h0M258.1 326.4h0M261.7 325.8h0M262.4 322.4h0M263.8 319.9h0M262.0 329.4h0M265.9 327.2h0M256.0 321.8h0M242.4 328.8h0M243.4 334.7h0M252.3 333.8h0M257.2 335.9h0M260.3 334.1h0M261.0 332.8h0M263.5 335.0h0M263.3 341.7h0M274.4 308.5h0M278.7 309.9h0M292.5 310.3h0M291.5 309.3h0M295.5 309.3h0M294.8 308.0h0M296.0 311.5h0M306.1 309.5h0M308.7 312.0h0M312.2 310.7h0M312.8 314.8h0M299.0 314.8h0M286.1 314.3h0M276.2 316.7h0M277.5 319.2h0M287.1 317.5h0M296.0 316.2h0M307.6 319.0h0M275.5 322.8h0M300.1 329.5h0M269.3 326.0h0M279.5 323.2h0M280.5 325.8h0M277.1 326.5h0M277.8 329.1h0M280.6 329.3h0M271.6 326.8h0M272.0 329.9h0M268.3 331.2h0M265.4 327.5h0M265.0 331.1h0M287.0 329.3h0M267.0 334.4h0M267.8 335.9h0M276.2 334.5h0M281.7 336.3h0M286.8 336.0h0M292.0 337.6h0M292.2 336.8h0M295.6 332.4h0M296.2 334.7h0M273.4 337.8h0M276.8 342.0h0" stroke="#0a9030" stroke-width="1.80" stroke-linecap="round" fill="none"/>
<path d="M375.5 270.1h0M364.7 272.1h0M357.6 274.8h0M359.2 275.6h0M360.6 275.2h0M365.3 275.2h0M371.9 272.7h0M372.3 274.1h0M391.9 276.2h0M346.3 278.2h0M347.4 279.2h0M348.4 280.3h0M345.3 281.3h0M347.0 282.3h0M347.8 283.3h0M349.0 281.7h0M354.5 279.2h0M355.5 282.3h0M366.8 278.2h0M368.8 278.8h0M370.8 279.2h0M361.7 280.9h0M350.4 285.4h0M355.5 285.0h0M357.6 286.4h0M363.7 286.4h0M368.8 285.8h0M371.9 285.4h0M383.7 283.7h0M381.0 287.4h0M361.7 288.4h0M359.2 289.9h0M353.5 291.1h0M354.5 291.5h0M355.5 290.5h0M351.0 293.1h0M341.7 293.1h0M347.4 291.1h0M334.7 296.6h0M338.2 298.6h0M353.1 298.6h0M353.9 297.6h0M357.6 296.6h0M359.6 296.0h0M360.6 297.2h0M362.7 295.6h0M364.7 296.0h0M368.8 296.6h0M369.8 297.6h0M371.9 297.2h0M373.5 295.6h0M374.9 298.6h0M372.9 299.7h0M371.4 300.1h0M365.7 300.1h0M382.1 298.6h0M383.7 299.7h0M384.5 300.7h0M379.6 297.6h0M389.2 297.6h0M391.9 291.5h0M406.6 288.4h0M407.6 295.6h0M408.2 296.6h0M412.7 293.5h0M350.4 301.3h0M352.5 301.7h0M354.5 302.1h0M355.5 302.7h0M379.0 304.8h0M388.2 303.7h0M338.2 304.8h0M339.2 306.8h0M336.8 307.8h0M337.6 309.9h0M338.2 311.5h0M337.2 312.3h0M339.6 311.9h0M343.7 305.8h0M346.3 309.9h0M348.4 308.8h0M350.4 309.9h0M378.0 307.8h0M354.5 315.0h0M355.5 314.3h0M356.6 313.9h0M353.5 315.6h0M344.9 317.6h0M361.7 318.0h0M379.0 314.3h0M381.7 313.5h0M410.6 309.9h0M410.2 311.5h0M414.7 313.5h0M421.2 308.8h0M424.5 312.9h0M408.6 316.0h0M403.5 319.7h0M404.5 321.1h0M405.5 322.1h0M406.6 323.7h0M411.0 326.2h0M345.7 325.2h0M356.6 322.5h0M370.8 323.7h0M383.1 325.2h0M388.2 322.5h0M390.2 324.6h0M391.2 325.2h0M392.3 325.2h0M396.3 324.6h0M344.3 329.2h0M372.9 328.6h0M381.7 329.2h0M398.4 332.7h0M382.5 337.4h0M383.1 338.4h0" stroke="#ff1478" stroke-width="1.80" stroke-linecap="round" fill="none"/>
<path d="M490.5 270.1h0M492.0 270.7h0M486.9 272.7h0M487.9 273.5h0M482.8 274.1h0M483.2 275.6h0M477.7 275.2h0M478.7 275.6h0M479.7 274.8h0M473.6 275.6h0M474.6 276.8h0M471.6 278.2h0M468.5 279.2h0M469.5 279.7h0M470.9 280.3h0M498.7 271.5h0M496.7 278.2h0M497.5 279.7h0M505.2 279.7h0M509.7 279.7h0M485.8 278.8h0M486.4 282.3h0M480.7 280.3h0M481.8 283.7h0M520.5 274.8h0M522.6 279.7h0M463.4 281.7h0M462.0 284.3h0M461.3 285.4h0M458.3 283.3h0M457.3 286.4h0M456.2 289.4h0M455.2 291.1h0M465.4 291.9h0M461.3 293.1h0M476.7 291.1h0M483.8 293.1h0M492.0 293.5h0M451.8 295.6h0M452.2 298.6h0M453.2 299.7h0M518.5 295.2h0M528.1 295.2h0M536.9 290.5h0M537.9 291.1h0M537.5 297.6h0M538.3 298.6h0M531.8 299.2h0M531.3 300.7h0M498.7 296.6h0M496.0 301.3h0M499.1 302.1h0M502.2 302.7h0M474.6 302.7h0M460.3 304.8h0M460.7 305.8h0M480.7 306.8h0M481.8 306.2h0M509.3 307.8h0M502.2 309.9h0M503.2 310.9h0M534.8 304.1h0M533.8 305.4h0M531.8 306.8h0M530.7 308.2h0M452.2 308.8h0M471.6 312.9h0M472.6 313.5h0M485.8 313.5h0M486.9 315.6h0M519.9 312.3h0M522.6 317.0h0M524.6 317.0h0M540.9 313.5h0M475.6 319.7h0M476.7 319.0h0M477.7 318.4h0M503.2 322.1h0M518.5 321.1h0M472.6 324.6h0M458.3 326.2h0M459.3 327.2h0M461.3 327.8h0M462.4 328.6h0M463.4 329.2h0M502.2 325.2h0M503.6 326.2h0M505.2 325.2h0M504.2 327.8h0M502.8 329.2h0M505.6 329.2h0M507.3 328.2h0M518.5 326.2h0M519.9 326.6h0M521.1 325.8h0M515.4 327.8h0M529.7 328.2h0M493.0 333.3h0M506.2 334.3h0M504.8 336.4h0M503.6 336.8h0M524.6 333.3h0M517.1 338.4h0" stroke="#9a6a1e" stroke-width="1.80" stroke-linecap="round" fill="none"/>
<path d="M139.8 135.3h0M138.8 134.2h0M148.9 111.3h0M148.4 109.9h0M144.0 77.5h0M101.1 53.0h0M146.7 41.6h0M145.8 42.8h0M150.3 109.7h0M151.7 110.0h0M138.4 136.9h0M136.9 137.1h0M123.5 60.1h0M102.8 69.9h0M150.6 121.5h0M151.6 122.7h0M152.6 123.8h0M188.3 74.9h0M187.1 73.1h0M185.6 72.7h0M59.3 119.8h0M131.5 38.3h0M150.3 123.7h0M151.2 124.9h0M152.1 126.1h0M122.8 109.6h0M121.3 109.7h0M119.8 109.9h0M145.3 43.2h0M145.3 44.7h0M145.3 46.2h0M143.7 44.7h0M66.3 40.7h0M67.8 40.6h0M69.3 40.5h0M64.1 44.5h0M180.3 67.8h0M178.9 67.2h0M177.5 66.7h0M137.7 135.1h0M137.0 133.8h0M136.4 132.5h0M139.7 70.0h0M104.2 55.9h0M105.7 55.9h0M107.2 56.0h0M124.6 105.6h0M126.0 105.1h0M150.8 40.3h0M151.1 38.9h0M151.4 37.4h0M125.1 103.5h0M126.3 102.7h0M107.6 93.1h0M152.6 39.1h0M152.8 37.6h0M182.5 53.5h0M135.5 135.5h0M144.5 42.0h0M146.2 77.3h0M147.1 78.5h0M148.4 77.6h0M145.8 114.3h0M178.6 69.2h0M177.2 68.6h0M99.6 51.5h0M142.0 46.1h0M140.6 45.6h0M100.9 66.0h0M98.0 50.0h0M96.5 50.2h0M183.8 65.2h0M136.8 138.3h0M178.1 68.0h0M125.6 60.7h0M190.3 78.7h0M189.4 79.9h0M188.5 81.1h0M150.5 77.9h0M151.8 77.0h0M153.0 76.1h0M184.0 52.0h0M184.1 50.5h0M184.1 49.0h0M105.7 57.4h0M59.8 117.8h0M170.6 104.6h0M171.3 103.2h0M138.4 65.9h0M139.0 64.6h0M144.2 135.3h0M145.1 134.1h0M108.9 89.0h0M110.4 88.6h0M133.6 37.8h0M134.7 38.8h0M139.7 78.2h0M139.0 79.6h0M92.6 75.4h0M60.6 115.7h0M62.0 115.2h0M63.4 114.7h0M152.6 78.7h0M153.8 77.8h0M107.0 95.1h0M122.0 111.6h0M71.5 50.4h0M150.1 125.8h0M151.1 126.9h0M62.2 45.4h0M60.8 44.8h0M107.3 58.9h0M107.3 60.4h0M134.9 139.4h0M134.4 140.8h0M133.9 142.2h0M106.9 97.3h0M107.8 98.4h0M133.1 140.7h0M132.8 142.1h0M142.4 42.3h0M146.4 135.5h0M136.9 64.4h0M96.5 48.4h0M61.3 113.7h0M62.7 113.4h0M154.4 37.8h0M154.3 36.3h0M95.1 46.8h0M135.4 62.9h0M133.9 63.1h0M108.1 87.0h0M185.7 64.2h0M187.0 64.9h0M169.2 102.9h0M137.5 78.1h0M121.0 113.5h0M119.5 113.5h0M118.0 113.6h0M135.8 37.2h0M137.1 37.9h0M73.7 50.5h0M74.7 51.6h0M100.4 63.9h0M101.2 62.7h0M110.1 87.2h0M109.4 85.8h0M61.8 111.6h0M149.8 128.0h0M148.4 128.6h0M154.6 79.6h0M155.0 81.0h0M167.9 101.1h0M166.4 101.0h0M164.9 100.9h0M143.7 115.0h0M142.5 114.1h0M141.2 113.2h0M166.9 99.2h0M167.4 97.8h0M75.9 50.4h0M76.6 49.0h0M77.3 47.7h0M131.5 142.1h0M131.4 143.6h0M165.9 97.3h0M166.5 95.9h0M167.1 94.5h0M99.7 61.9h0M100.4 60.6h0M101.2 59.3h0M148.5 136.0h0M149.3 137.3h0M191.3 80.6h0M192.8 80.8h0M185.9 64.8h0M156.4 37.1h0M157.1 35.7h0M157.7 34.3h0M141.6 115.4h0M140.3 114.7h0M176.8 70.4h0M176.6 71.8h0M134.1 61.1h0M119.2 59.6h0M108.3 60.8h0M167.2 95.5h0M168.7 95.7h0M151.7 108.0h0M151.5 106.6h0M151.3 105.1h0M179.9 56.9h0M78.1 50.0h0M187.5 63.0h0M188.9 63.7h0M172.9 108.2h0M135.3 78.0h0M139.5 116.0h0M138.1 115.4h0M136.7 114.7h0M140.4 47.5h0M140.4 49.0h0M98.1 60.4h0M98.5 59.0h0M98.9 57.6h0M152.0 76.3h0M151.7 74.9h0M151.3 73.4h0M62.6 109.6h0M61.6 108.5h0M90.9 79.3h0M158.6 36.7h0M159.1 35.3h0M109.0 62.8h0M138.7 48.9h0M137.1 50.4h0M137.4 51.8h0M137.7 53.3h0M111.1 85.2h0M112.5 84.7h0M93.7 45.1h0M92.2 43.5h0M92.7 42.1h0M174.1 110.0h0M173.4 111.3h0M172.7 112.7h0M126.8 62.5h0M156.4 80.7h0M60.4 46.6h0M60.5 48.1h0M60.5 49.6h0M135.4 51.7h0M192.1 82.6h0M191.5 84.0h0M175.9 67.6h0M133.4 52.7h0M133.2 54.1h0M150.7 136.1h0M107.0 99.4h0M106.0 100.5h0M105.0 101.6h0M107.4 101.5h0M175.0 71.6h0M137.8 36.6h0M189.2 61.7h0M191.2 60.6h0M104.2 71.5h0M120.0 115.4h0M118.6 115.9h0M105.7 73.1h0M105.3 74.5h0M104.9 76.0h0M107.6 103.7h0M137.5 117.1h0M58.8 48.1h0M57.3 47.8h0M55.9 47.5h0M90.6 42.0h0M153.0 106.3h0M109.7 64.9h0M109.1 66.3h0M63.1 107.5h0M64.5 106.9h0M65.9 106.3h0M117.0 59.5h0M116.2 58.2h0M80.2 49.9h0M81.1 48.6h0M135.7 118.3h0M135.8 119.8h0M192.9 59.3h0M193.0 57.8h0M192.8 84.6h0M194.2 85.3h0M168.7 94.0h0M170.2 94.2h0M131.4 53.4h0M169.6 92.0h0M106.9 74.9h0M107.6 84.9h0M119.0 117.3h0M129.5 143.0h0M128.1 142.5h0M126.7 141.9h0M93.4 73.3h0M92.4 72.2h0M91.4 71.1h0M139.7 35.4h0M107.6 105.8h0M193.5 80.8h0M94.4 71.4h0M95.8 70.9h0M97.2 70.4h0M141.3 33.9h0M154.1 75.6h0M154.4 74.2h0M154.8 105.0h0M154.5 103.6h0M154.3 102.1h0M156.2 75.2h0M82.4 49.8h0M83.2 48.6h0M84.0 47.3h0M133.3 78.7h0M118.2 119.3h0M173.4 73.1h0M152.9 136.4h0M154.1 135.6h0M155.4 134.8h0M106.5 83.0h0M155.0 136.8h0M110.5 66.9h0M188.1 65.0h0M189.2 64.0h0M111.9 68.6h0M63.5 105.4h0M109.0 75.5h0M110.1 74.5h0M111.3 73.5h0M131.3 79.6h0M164.9 95.4h0M116.8 116.8h0M84.6 49.8h0M85.5 51.0h0M96.6 58.9h0M96.9 57.5h0M114.8 116.1h0M113.4 116.8h0M112.1 117.4h0M129.2 80.2h0M193.7 86.6h0M195.2 86.9h0M196.7 87.2h0M195.2 88.2h0M129.3 54.1h0M163.8 93.6h0M171.8 74.6h0M170.5 76.3h0M169.0 76.5h0M167.5 76.8h0M95.0 57.4h0M179.0 58.9h0M133.9 119.4h0M175.8 111.3h0M177.3 111.1h0M64.0 103.3h0M65.4 102.7h0M169.5 78.2h0M170.4 79.4h0M171.3 80.6h0M127.6 144.0h0M126.2 143.4h0M124.8 142.8h0M112.6 115.8h0M112.0 114.4h0M143.0 32.6h0M144.5 32.7h0M93.6 55.8h0M93.9 54.3h0M94.1 52.8h0M104.4 82.5h0M107.6 108.0h0M106.3 108.8h0M125.7 101.5h0M124.7 100.4h0M177.5 60.4h0M127.2 38.9h0M125.1 39.3h0M57.3 49.7h0M107.7 110.1h0M90.0 81.2h0M144.6 31.2h0M145.9 29.4h0M111.1 76.0h0M111.8 77.3h0M112.4 78.7h0M125.8 99.3h0M124.6 98.4h0M127.1 80.7h0M124.9 80.6h0M55.6 51.1h0M55.8 52.5h0M127.2 53.4h0M126.5 52.1h0M125.8 50.8h0M92.0 54.2h0M92.4 52.8h0M92.7 51.3h0M132.0 120.6h0M131.9 122.0h0M131.7 123.5h0M126.3 97.3h0M125.3 96.1h0M125.3 52.3h0M125.4 50.8h0M125.5 49.3h0M123.6 51.0h0M122.1 51.5h0M120.7 52.0h0M195.6 80.7h0M196.6 81.8h0M121.9 49.6h0M121.8 48.1h0M102.3 82.0h0M101.2 83.1h0M122.9 39.5h0M122.2 40.8h0M121.4 42.1h0M117.6 121.4h0M116.2 121.9h0M122.7 80.8h0M126.5 95.1h0M177.8 112.2h0M125.4 144.0h0M124.4 142.9h0M123.4 141.8h0M112.1 83.3h0M111.7 81.9h0M53.8 52.2h0M156.0 103.3h0M157.5 103.2h0M159.0 103.1h0M64.5 101.2h0M65.9 100.7h0M52.3 53.8h0M52.6 55.2h0M147.4 27.9h0M147.0 26.4h0M146.6 25.0h0M168.8 80.3h0M169.4 81.6h0M162.6 91.7h0M161.1 91.8h0M159.6 91.8h0M160.7 36.1h0M157.5 101.7h0M145.8 26.3h0M120.3 48.2h0M118.8 48.4h0M65.3 99.2h0M126.6 93.0h0M127.8 92.1h0M129.0 91.2h0M120.7 40.0h0M119.6 39.0h0M118.4 38.0h0M89.2 40.4h0M162.8 35.4h0M161.2 90.1h0M161.5 88.6h0M161.7 87.2h0M118.6 40.4h0M179.7 113.3h0M113.3 76.2h0M113.9 77.5h0M114.6 78.9h0M50.8 55.3h0M86.7 49.0h0M100.2 81.5h0M98.9 82.3h0M127.1 90.9h0M128.4 90.1h0M123.2 144.3h0M122.5 145.6h0M121.8 147.0h0M65.7 97.1h0M115.5 76.3h0M168.5 82.4h0M116.9 123.4h0M115.5 123.8h0M114.0 124.1h0M170.8 90.2h0M170.1 88.9h0M65.6 94.9h0M64.5 93.9h0M63.4 92.9h0M164.9 35.6h0M165.6 37.0h0M166.2 38.4h0M121.1 144.7h0M120.4 146.1h0M119.8 147.4h0M49.7 57.2h0M48.3 57.7h0M46.9 58.2h0M98.0 81.5h0M97.0 82.6h0M96.1 83.8h0M116.4 125.5h0M115.0 126.0h0M113.5 126.5h0M119.1 143.7h0M159.9 88.3h0M158.4 88.1h0M156.9 87.8h0M116.5 41.0h0M115.2 40.3h0M113.9 39.5h0M181.6 114.3h0M127.6 88.8h0M126.8 87.5h0M126.0 86.3h0M117.5 75.4h0M118.0 74.0h0M118.5 72.6h0M116.0 127.7h0M183.5 113.3h0M184.0 111.8h0M184.4 110.4h0M116.4 129.8h0M117.6 130.6h0M65.4 92.8h0M49.1 59.3h0M159.2 100.3h0M159.0 98.8h0M130.6 122.2h0M129.1 122.4h0M127.6 122.6h0M114.6 39.9h0M114.5 41.9h0M114.2 43.4h0M113.9 44.8h0M116.3 131.9h0M117.4 133.0h0M118.5 134.0h0M129.8 124.2h0M129.0 126.2h0M87.4 39.1h0M87.7 37.6h0M87.9 36.2h0M116.3 134.1h0M85.8 37.7h0M84.3 38.0h0M65.5 90.6h0M64.4 89.7h0M112.7 43.1h0M112.7 44.6h0M112.7 46.1h0M65.6 88.5h0M89.2 83.3h0M87.7 83.6h0M128.4 128.3h0M128.2 130.4h0M129.5 131.2h0M83.7 37.0h0M172.2 88.6h0M112.9 38.6h0M113.0 37.1h0M113.2 35.6h0M111.0 44.4h0M111.1 37.3h0M111.3 35.8h0M47.6 60.9h0M46.1 60.9h0M44.6 60.9h0M116.2 136.2h0M117.3 137.3h0M118.4 138.3h0M81.7 36.1h0M81.2 34.7h0M80.7 33.3h0M46.4 62.7h0M65.7 86.3h0M67.1 85.7h0M68.5 85.0h0M173.9 87.3h0M44.9 64.3h0M43.4 64.2h0M109.2 36.3h0M107.7 36.6h0M106.2 37.0h0M117.1 144.6h0M115.7 144.1h0M119.0 74.0h0M107.2 35.4h0M65.9 84.2h0M67.1 83.4h0M79.6 35.7h0M78.9 34.4h0M78.2 33.1h0M88.0 85.1h0M175.5 85.7h0M177.0 85.9h0M120.5 72.3h0M65.9 82.0h0M176.9 84.1h0M114.9 144.5h0M114.1 145.7h0M44.2 62.9h0M86.0 85.9h0M118.3 135.5h0M120.3 134.7h0M121.7 135.3h0M65.8 79.9h0M64.7 78.9h0M112.8 144.0h0M111.8 145.1h0M105.1 34.8h0M128.3 132.6h0M43.8 66.1h0M121.8 70.6h0M123.0 68.8h0M124.5 68.7h0M128.3 134.7h0M110.6 143.9h0M86.7 86.8h0M85.5 88.6h0M42.8 68.0h0M65.1 77.9h0M65.8 76.5h0M83.8 86.3h0M82.9 87.5h0M81.7 86.6h0M108.4 144.0h0M107.5 145.1h0M84.0 90.2h0M84.1 91.6h0M64.2 75.9h0M62.9 75.3h0M109.1 45.5h0M178.3 82.5h0M42.1 70.1h0M40.6 70.4h0M106.3 144.4h0M105.5 145.7h0M104.1 144.3h0M103.0 143.3h0M41.5 72.1h0M42.1 73.5h0M41.1 74.3h0M42.1 75.4h0M107.1 46.5h0M101.9 143.9h0M40.3 76.3h0M41.2 77.5h0M100.0 143.0h0M99.6 141.5h0M63.7 73.8h0M64.6 72.7h0M65.6 71.5h0M39.0 78.0h0M98.1 141.8h0M97.7 140.4h0M97.3 138.9h0M96.3 140.7h0M94.9 141.2h0M93.4 141.7h0M63.4 71.7h0M103.0 34.0h0M101.0 33.2h0M99.7 34.0h0M37.6 79.7h0M38.2 81.7h0M63.0 69.6h0M61.7 68.8h0M94.6 139.3h0M93.1 139.3h0M38.6 83.9h0M62.5 67.5h0M64.8 70.0h0M64.5 68.5h0M64.3 67.1h0M66.3 68.5h0M67.8 68.9h0M39.2 85.9h0M40.6 86.5h0M36.8 81.7h0M35.4 82.2h0M34.0 82.8h0M98.9 32.8h0M97.6 33.6h0M96.4 34.4h0M36.6 83.8h0M37.6 84.9h0M38.9 88.1h0M61.7 65.5h0M61.3 63.3h0M60.0 62.6h0M58.7 61.9h0M67.8 66.9h0M69.3 66.9h0M60.6 61.3h0M61.4 60.0h0M59.5 59.4h0M96.8 32.1h0M96.4 30.7h0M105.0 46.6h0M103.8 45.6h0M102.7 44.6h0M69.0 65.1h0M70.5 64.8h0M59.1 57.3h0M57.8 56.5h0M179.5 80.7h0M181.0 80.6h0M182.6 80.5h0M69.9 66.6h0M70.8 67.8h0M72.1 66.3h0M73.0 67.5h0M70.2 63.3h0M93.0 137.8h0M93.3 136.4h0M74.2 65.7h0M91.8 136.0h0M90.3 136.1h0M71.5 61.6h0M181.0 79.0h0M90.2 134.5h0M88.8 135.0h0M89.0 132.7h0M94.6 31.9h0M92.5 31.3h0M90.3 31.4h0M89.5 30.2h0M93.0 33.3h0M91.5 33.2h0M90.0 33.1h0M180.5 76.9h0M181.4 75.8h0M182.3 74.6h0M87.3 131.4h0M86.0 129.7h0M84.4 128.1h0M82.9 128.3h0M81.4 128.5h0M83.0 126.5h0M83.2 125.0h0M83.4 123.5h0M81.5 125.0h0M80.0 125.4h0M78.5 125.8h0M79.9 123.5h0M78.4 123.4h0M76.9 123.4h0M79.3 124.6h0M78.2 125.7h0M79.0 121.5h0M77.5 121.3h0M78.7 119.4h0M77.1 124.4h0M76.2 123.2h0M75.3 122.0h0M75.0 124.1h0M78.4 117.2h0M78.0 115.1h0M76.7 114.4h0M75.4 113.6h0M72.8 124.3h0M78.8 122.6h0M77.4 122.0h0M70.6 124.7h0M68.5 125.3h0M67.1 124.7h0M65.8 124.1h0M77.8 113.0h0M78.8 111.9h0M79.8 110.8h0M78.2 110.9h0M77.0 110.0h0M75.8 109.0h0M66.6 126.3h0M65.2 125.7h0M78.4 108.7h0M64.5 127.1h0M63.4 126.1h0M62.2 125.1h0M77.9 106.6h0M77.5 104.5h0M78.2 103.2h0M78.9 101.9h0M77.3 102.4h0M76.8 100.2h0M78.0 99.3h0M76.4 98.1h0M75.0 97.7h0M73.6 97.2h0M78.5 100.6h0M80.0 99.0h0M79.6 97.6h0M79.2 96.1h0M81.3 97.2h0M80.6 95.9h0M76.1 96.0h0M74.8 95.2h0M98.2 63.7h0M97.6 62.4h0M97.0 61.0h0M96.1 64.3h0M94.9 63.4h0M124.1 37.3h0M122.6 37.1h0M122.9 35.5h0M123.3 34.1h0M121.6 33.8h0M120.2 32.1h0M118.7 30.6h0M116.8 29.5h0M115.0 28.3h0M117.0 27.3h0M113.3 26.9h0M113.4 25.4h0M113.5 23.9h0M117.3 25.2h0M111.4 26.0h0M110.8 24.6h0M110.3 23.2h0M109.3 25.2h0M108.0 25.9h0M117.5 23.1h0M116.4 22.0h0M107.3 24.3h0M105.3 25.0h0M117.7 20.9h0M103.3 25.9h0M102.0 25.2h0M100.7 24.4h0M145.5 39.8h0M146.1 38.4h0M146.6 37.0h0M103.8 73.6h0M60.2 110.2h0M60.4 108.7h0M58.4 109.0h0M56.5 108.0h0M54.5 106.9h0M54.5 105.4h0M54.5 104.0h0M52.8 105.7h0M51.4 106.2h0M51.0 104.3h0M49.3 103.1h0M49.4 101.6h0M49.5 100.1h0M47.5 101.9h0M45.7 100.6h0M44.2 101.0h0M42.8 101.4h0M43.6 99.9h0M41.5 99.5h0M74.5 48.5h0M73.9 47.1h0M73.3 45.7h0M75.2 46.4h0M76.2 44.5h0M75.6 43.1h0M75.1 41.7h0M76.7 42.4h0M78.1 41.8h0M79.4 41.1h0M117.9 57.8h0M118.4 56.4h0M118.9 55.0h0M117.2 55.8h0M104.0 44.6h0M103.1 42.7h0M101.7 42.1h0M81.2 51.8h0M82.0 53.8h0M81.1 55.0h0M82.5 55.9h0M81.8 57.2h0M83.2 57.9h0M82.2 59.0h0M81.1 60.1h0M84.1 59.9h0M85.2 61.7h0M84.7 63.2h0M84.3 64.6h0M86.2 63.7h0M86.3 65.8h0M86.4 68.0h0M87.7 68.7h0M89.0 69.5h0M86.4 70.1h0M85.4 72.0h0M86.1 73.4h0M86.8 74.7h0M84.5 74.0h0M84.0 76.1h0M82.0 77.1h0M79.9 77.7h0M78.9 76.6h0M77.8 77.9h0M83.4 78.1h0M75.6 78.3h0M73.5 78.7h0M72.9 80.1h0M114.3 126.0h0M113.2 125.0h0M112.4 127.1h0M112.3 128.6h0M110.3 127.8h0M108.5 129.0h0M107.0 128.7h0M106.4 129.7h0M105.1 129.1h0M103.7 128.4h0M104.3 130.4h0M102.3 131.2h0M100.4 132.3h0M100.5 133.8h0M98.3 132.7h0M97.2 130.9h0M95.7 130.8h0M94.2 130.6h0M96.2 129.0h0M94.8 128.5h0M93.3 128.1h0M96.0 126.8h0M95.7 124.7h0M94.3 124.1h0M92.9 123.5h0M95.7 122.5h0M95.5 120.4h0M96.4 119.2h0M97.4 118.1h0M94.9 118.3h0M93.7 116.5h0M92.3 114.9h0M92.7 113.4h0M90.8 113.3h0M91.3 111.9h0M89.7 111.4h0M88.2 111.1h0M88.3 109.7h0M88.4 108.3h0M88.6 106.8h0M87.3 107.8h0M86.7 105.8h0M87.4 104.4h0M88.0 103.1h0M86.1 103.7h0M84.7 103.2h0M83.3 102.7h0M61.5 107.7h0M62.0 106.3h0M62.4 104.9h0M61.8 105.6h0M63.2 105.0h0M189.1 80.5h0M187.6 80.7h0M188.0 82.4h0M186.5 82.5h0M186.5 83.9h0M185.1 85.6h0M183.9 87.4h0M182.4 87.5h0M180.9 87.7h0M182.8 89.2h0M181.2 90.7h0M179.8 92.3h0M178.2 93.8h0M178.0 95.2h0M176.5 95.1h0M175.4 97.0h0M175.7 99.2h0M177.0 100.9h0M176.7 102.3h0M178.1 102.7h0M179.7 102.7h0M181.2 102.7h0M179.3 104.6h0M180.8 104.5h0M109.2 85.2h0M109.6 83.8h0M109.6 106.6h0M111.6 107.7h0M111.8 109.1h0M127.9 98.7h0M129.9 97.8h0M132.0 97.2h0M134.1 96.6h0M134.0 96.4h0M134.4 94.9h0M134.8 93.5h0M136.0 95.4h0M137.4 95.9h0M136.2 96.1h0M138.4 95.8h0M137.9 94.4h0M138.0 92.9h0M138.1 91.4h0M123.6 103.7h0M122.3 102.0h0M122.4 100.5h0M120.1 101.6h0M119.1 102.7h0M118.0 101.2h0M115.8 100.9h0M115.1 99.6h0M180.1 115.4h0M181.4 116.1h0M180.8 117.5h0M179.8 118.6h0M178.8 119.7h0M60.1 111.9h0M58.6 111.6h0M57.1 111.3h0M62.3 111.5h0M63.5 112.3h0M64.8 113.1h0M64.1 112.7h0M64.0 114.2h0M65.6 114.3h0M65.2 115.7h0M64.8 117.2h0M67.0 115.9h0M68.6 117.4h0M70.5 116.4h0M70.5 114.2h0M71.7 113.3h0M70.6 112.1h0M69.5 111.1h0M81.4 122.9h0M82.7 122.0h0M83.9 121.1h0M136.3 79.9h0M134.8 80.0h0M133.3 80.2h0M135.5 81.9h0M136.3 83.9h0M137.6 84.6h0M136.4 86.1h0M135.1 86.8h0M172.7 111.7h0M171.4 113.4h0M170.0 113.8h0M170.3 115.3h0M169.3 117.2h0M168.3 119.1h0M169.1 120.3h0M169.9 121.6h0M167.1 120.9h0M165.6 121.1h0M165.5 122.4h0M163.9 123.8h0M162.1 125.1h0M161.7 126.5h0M161.4 127.9h0M160.2 126.2h0M159.7 127.6h0M158.4 127.3h0M157.0 129.0h0M190.6 74.9h0M191.7 73.1h0M192.8 71.2h0M194.7 70.2h0M196.1 70.9h0M96.7 30.0h0M98.0 29.1h0M94.8 28.9h0M171.5 109.9h0M112.8 36.4h0M111.5 34.7h0M77.9 124.3h0M76.8 123.3h0M123.6 82.3h0M122.1 83.8h0M120.9 85.7h0M121.5 87.1h0M119.6 87.4h0M119.8 88.9h0M119.9 89.5h0M121.2 90.3h0M122.5 91.1h0M119.1 91.5h0M118.2 93.5h0M116.8 94.1h0M115.5 94.7h0M118.7 89.3h0M117.6 91.2h0M116.7 93.2h0M97.8 34.6h0M98.2 36.1h0M96.9 36.6h0M97.4 38.0h0M97.9 39.4h0M106.8 89.1h0M105.3 89.2h0M112.9 41.2h0M79.4 96.9h0M145.4 112.9h0M144.5 114.1h0M143.2 112.6h0M168.4 104.5h0M166.2 104.6h0M165.4 105.8h0M164.5 107.0h0M47.5 57.4h0M46.8 58.7h0M45.8 66.3h0M47.3 66.5h0M46.5 68.3h0M47.9 69.0h0M49.2 69.6h0M48.6 68.8h0M49.4 70.1h0M50.1 71.4h0M50.8 69.0h0M53.0 68.8h0M55.2 68.6h0M115.8 115.0h0M152.0 137.8h0M109.4 34.1h0M110.8 33.5h0M112.1 32.8h0M107.5 33.1h0M107.2 31.7h0M107.0 30.2h0M147.6 75.7h0M149.1 74.1h0M140.5 113.6h0M122.7 72.4h0M123.7 71.3h0M124.8 72.7h0M127.0 73.2h0M127.4 74.6h0M127.8 76.0h0M88.2 129.4h0M87.5 128.1h0M88.6 127.3h0M87.5 126.2h0M58.4 61.0h0M56.3 60.5h0M105.2 45.6h0M103.2 44.7h0M102.1 42.8h0M65.3 74.0h0M66.8 73.7h0M68.3 73.3h0M83.6 37.9h0M82.8 39.2h0M62.4 101.9h0M79.6 113.6h0M79.1 112.2h0M78.7 110.8h0M80.9 111.9h0M154.5 40.2h0M156.3 41.3h0M157.7 40.6h0M159.0 39.9h0M157.8 42.9h0M159.3 42.7h0M159.0 44.7h0M160.5 44.9h0M162.0 45.1h0M160.1 46.6h0M161.6 46.8h0M161.4 48.3h0M162.7 50.0h0M162.3 51.4h0M161.9 52.9h0M164.3 51.5h0M165.8 51.1h0M167.3 50.8h0M165.7 53.2h0M167.2 53.4h0M167.3 54.6h0M167.1 56.1h0M166.9 57.5h0M169.2 55.7h0M171.0 56.9h0M139.1 33.4h0M138.6 31.3h0M137.2 30.5h0M137.7 29.3h0M136.8 27.4h0M136.0 25.3h0M134.8 23.5h0M155.7 77.1h0M114.4 135.2h0M112.8 136.7h0M111.4 136.4h0M60.3 44.3h0M58.9 45.0h0M112.8 40.6h0M59.2 114.1h0M149.6 28.2h0M150.3 29.5h0M151.1 30.8h0M151.5 29.3h0M151.7 30.7h0M153.4 30.3h0M154.8 29.7h0M124.0 70.5h0M124.9 69.3h0M125.8 68.1h0M126.1 71.1h0M127.2 70.1h0M128.3 69.1h0M137.5 52.5h0M136.4 53.5h0M137.8 54.6h0M139.0 55.4h0M140.3 56.2h0M58.1 116.5h0M55.9 116.4h0M53.8 116.9h0M52.4 116.3h0M51.8 116.0h0M50.3 116.5h0M50.4 114.3h0M48.9 112.8h0M47.3 112.9h0M45.8 113.0h0M124.4 111.1h0M125.8 110.7h0M126.1 112.5h0M128.0 113.5h0M129.3 112.9h0M149.2 39.2h0M148.3 38.0h0M147.3 36.9h0M149.4 37.0h0M105.8 104.9h0M105.9 106.4h0M103.9 105.9h0M102.6 105.1h0M101.9 106.7h0M100.5 106.1h0M99.8 107.5h0M97.9 108.6h0M97.6 110.1h0M98.3 110.7h0M97.4 112.0h0M132.4 36.4h0M131.8 34.3h0M130.6 32.5h0M129.1 30.9h0M127.6 30.8h0M127.5 29.5h0M126.1 27.8h0M126.3 25.7h0M125.2 24.7h0M124.0 23.7h0M124.7 26.1h0M126.0 23.5h0M124.7 22.9h0M125.9 21.4h0M124.7 20.4h0M129.9 128.2h0M130.1 130.3h0M115.0 124.3h0M114.3 125.7h0M61.0 56.2h0M62.3 56.9h0M63.7 57.6h0M62.9 55.2h0M128.4 122.0h0M127.8 120.6h0M126.3 121.4h0M101.6 141.8h0M101.3 139.6h0M100.0 139.0h0M98.6 138.4h0M183.0 111.2h0M184.1 110.2h0M131.7 51.3h0M130.2 51.4h0M128.7 51.4h0M143.3 42.4h0M141.9 43.0h0M140.7 31.9h0M141.8 70.4h0M142.9 69.3h0M143.9 68.2h0M107.7 56.4h0M107.8 54.9h0M107.8 53.5h0M109.5 55.3h0M109.4 53.8h0M153.7 108.8h0M155.7 109.8h0M157.6 110.8h0M159.6 111.8h0M159.8 113.2h0M160.1 114.7h0M161.4 113.0h0M162.8 112.6h0M161.9 115.1h0M160.8 116.2h0M159.7 117.2h0M159.7 115.4h0M158.9 116.6h0M157.5 115.6h0M156.8 117.0h0M58.4 45.7h0M58.3 44.2h0M58.2 42.7h0M56.7 47.1h0M57.0 48.6h0M59.4 62.2h0M59.0 60.8h0M57.6 61.1h0M56.1 61.4h0M173.0 70.6h0M106.0 86.3h0M104.7 87.0h0M181.7 51.5h0M181.2 49.4h0M179.8 48.9h0M178.4 48.5h0M182.8 47.9h0M182.9 46.4h0M181.1 47.2h0M179.9 46.3h0M179.3 45.9h0M179.2 44.5h0M78.3 97.0h0M78.6 95.5h0M78.9 94.1h0M123.7 113.0h0M125.4 114.3h0M125.7 115.7h0M126.0 117.2h0M129.5 36.7h0M57.4 59.2h0M56.3 60.3h0M55.2 61.3h0M131.7 122.7h0M166.6 80.4h0M165.8 79.2h0M164.6 81.2h0M163.4 80.3h0M124.8 61.8h0M41.8 77.9h0M42.9 79.7h0M42.6 81.2h0M133.7 121.5h0M64.1 95.6h0M62.7 93.9h0M155.2 81.7h0M180.2 77.0h0M178.7 76.8h0M177.2 76.6h0M135.7 115.8h0M135.6 114.4h0M57.7 118.4h0M56.2 118.7h0M54.7 119.0h0M111.7 65.6h0M112.4 67.0h0M113.0 68.3h0M113.8 66.4h0M116.1 119.9h0M115.0 118.9h0M113.9 117.9h0M113.9 120.1h0M133.5 142.8h0M132.4 143.8h0M71.0 68.4h0M72.1 70.3h0M119.5 143.2h0M135.4 120.4h0M135.3 122.5h0M136.4 123.6h0M64.2 80.7h0M62.7 81.1h0M61.3 81.5h0M62.6 79.2h0M178.3 78.9h0M124.1 49.0h0M125.0 47.0h0M124.5 45.6h0M124.0 44.2h0M136.3 66.1h0M134.1 66.6h0M132.9 65.7h0M131.7 64.9h0M186.1 52.7h0M187.7 54.1h0M129.3 141.8h0M64.2 97.4h0M64.9 96.1h0M63.4 95.4h0M64.3 94.2h0M134.6 141.5h0M134.1 143.6h0M154.4 77.4h0M156.3 76.3h0M156.6 74.9h0M92.6 140.0h0M91.3 139.2h0M90.7 141.0h0M90.3 142.5h0M90.0 143.9h0M107.7 87.2h0M108.4 85.9h0M109.1 84.5h0M135.7 53.8h0M134.8 55.0h0M152.6 41.6h0M154.1 41.5h0M136.8 140.5h0M135.5 141.2h0M134.1 141.9h0M137.0 142.6h0M70.6 47.9h0M72.1 47.7h0M161.1 34.0h0M162.2 33.1h0M160.5 31.9h0M104.8 142.8h0M103.5 141.0h0M102.0 141.1h0M87.0 40.6h0M86.1 41.8h0M85.2 43.0h0M85.3 42.0h0M85.4 43.5h0M85.6 44.9h0M53.4 50.8h0M130.2 129.5h0M130.3 131.0h0M130.5 132.4h0M40.4 81.9h0M41.4 83.1h0M42.4 84.2h0M101.1 83.8h0M138.6 137.1h0M83.8 51.5h0M83.7 53.0h0M80.3 110.2h0M81.5 111.1h0M82.7 112.0h0M74.7 99.8h0M74.0 98.5h0M73.2 97.2h0M72.6 99.2h0M72.1 97.8h0M71.6 96.4h0M43.4 64.9h0M43.9 66.3h0M44.4 67.7h0M66.9 70.5h0M68.2 69.8h0M69.5 69.0h0M118.9 71.8h0M117.8 70.8h0M116.6 69.9h0M73.0 64.3h0M47.0 60.0h0M45.0 60.8h0M43.8 59.9h0M42.6 58.9h0M118.5 130.2h0M144.2 44.1h0M142.8 44.6h0M141.4 45.2h0M41.2 86.7h0M42.5 85.9h0M43.8 85.0h0M43.2 87.7h0M43.3 89.2h0M43.4 90.6h0M45.1 88.6h0M47.2 89.3h0M49.3 89.9h0M50.5 89.0h0M51.8 88.1h0M51.4 90.6h0M53.6 90.8h0M54.4 92.0h0M55.3 93.2h0M55.7 91.3h0M77.8 98.6h0M76.4 97.9h0M75.1 97.2h0M77.4 96.5h0M76.1 95.8h0M63.3 92.3h0M151.9 123.3h0M151.4 124.7h0M108.2 96.9h0M129.2 90.4h0M129.8 89.0h0M130.3 87.6h0M133.9 79.6h0M76.8 48.4h0M63.1 43.0h0M68.0 83.7h0M68.6 82.3h0M122.3 47.5h0M121.1 46.5h0M119.9 45.6h0M102.1 71.9h0M101.4 74.0h0M100.0 74.4h0M67.7 85.3h0M69.9 85.2h0M70.7 83.9h0M75.4 101.2h0M73.6 100.1h0M73.5 98.6h0M80.7 120.1h0M82.2 120.4h0M83.6 120.8h0M82.6 119.0h0M84.0 119.5h0M85.4 120.1h0M159.0 90.2h0M156.8 90.1h0M154.7 89.9h0M152.6 89.3h0M151.3 90.1h0M150.4 88.9h0M150.0 87.4h0M149.5 86.0h0M148.2 88.9h0M146.0 88.7h0M143.9 88.1h0M143.4 86.8h0M134.5 35.8h0M133.6 34.6h0M132.8 33.3h0M112.5 67.6h0M112.8 69.1h0M183.1 55.6h0M183.5 57.0h0M185.3 55.4h0M186.2 54.2h0M138.7 139.0h0M138.8 141.2h0M140.0 142.1h0M141.2 143.0h0M68.5 40.4h0M194.3 83.0h0M123.8 101.8h0M185.9 65.6h0M188.1 65.2h0M188.9 63.9h0M189.7 62.7h0M139.9 45.5h0M68.3 69.4h0M69.6 68.7h0M93.5 33.7h0M93.8 35.2h0M91.7 32.6h0M89.9 31.3h0M90.1 29.8h0M90.2 28.3h0M146.8 137.6h0M148.0 138.5h0M149.3 139.3h0M147.7 139.6h0M127.9 52.4h0M116.8 117.5h0M116.0 118.8h0M115.3 120.1h0M114.6 117.8h0M83.7 124.4h0M142.8 116.9h0M141.4 117.5h0M140.0 118.0h0M143.6 118.9h0M143.2 121.0h0M144.1 122.3h0M144.9 123.5h0M142.6 123.1h0M143.7 124.2h0M142.2 125.2h0M143.4 126.2h0M142.0 127.4h0M105.8 94.2h0M103.8 95.0h0M101.7 95.8h0M101.3 97.2h0M99.8 96.7h0M97.8 97.6h0M95.7 98.3h0M93.8 97.4h0M92.4 98.1h0M93.8 99.4h0M91.7 98.8h0M91.2 97.4h0M90.2 97.2h0M90.2 95.7h0M88.7 95.6h0M87.2 95.6h0M85.7 95.6h0M91.7 96.5h0M90.5 97.3h0M89.2 98.1h0M114.0 128.4h0M134.9 65.3h0M134.3 66.6h0M133.4 66.8h0M133.7 68.2h0M85.3 126.1h0M84.5 124.9h0M194.8 85.5h0M195.4 86.9h0M159.6 34.8h0M160.3 32.7h0M105.6 102.8h0M104.1 102.6h0M102.6 102.4h0M48.6 54.9h0M47.3 55.7h0M46.0 56.5h0M39.1 75.2h0M67.9 127.4h0M66.5 127.8h0M65.0 128.3h0M67.1 129.4h0M65.7 129.7h0M64.2 130.0h0M83.9 130.2h0M82.7 129.3h0M81.7 130.4h0M80.1 131.9h0M78.6 133.4h0M77.3 135.2h0M75.3 135.8h0M74.0 135.0h0M72.8 134.1h0M88.1 135.0h0M109.4 109.2h0M110.8 108.8h0M112.3 108.3h0M71.8 52.6h0M72.9 54.4h0M74.4 54.5h0M141.2 79.9h0M144.0 46.9h0M145.3 47.6h0M144.2 49.0h0M145.2 50.1h0M146.3 51.1h0M102.9 142.5h0M101.7 140.7h0M167.4 78.2h0M165.2 77.8h0M163.9 78.5h0M155.1 107.0h0M155.5 108.4h0M151.8 76.2h0M152.8 74.2h0M154.3 74.0h0M166.3 93.6h0M79.5 51.6h0M105.0 75.1h0M60.6 120.5h0M60.5 119.1h0M60.3 117.6h0M148.2 109.3h0M148.8 107.9h0M149.5 106.6h0M147.5 107.2h0M146.2 106.5h0M146.9 105.1h0M148.0 104.1h0M149.1 103.0h0M146.4 103.1h0M147.2 101.8h0M148.0 100.5h0M145.6 101.1h0M146.4 99.8h0M147.2 98.5h0M144.9 99.0h0M139.4 80.4h0M122.3 115.2h0M83.3 88.4h0M112.9 45.2h0M114.3 45.9h0M112.9 47.4h0M111.7 48.2h0M110.5 49.1h0M65.4 104.3h0M66.9 104.7h0M68.3 105.1h0M124.4 142.1h0M127.7 124.7h0M125.7 125.7h0M72.4 63.9h0M73.2 65.1h0M98.9 65.3h0M97.5 65.9h0M96.1 66.6h0M96.8 64.5h0M96.3 63.1h0M95.7 61.8h0M194.2 90.2h0M192.8 90.7h0M191.3 91.2h0M193.5 92.2h0M193.0 94.3h0M194.0 95.4h0M195.0 96.5h0M192.7 96.4h0M143.3 136.9h0M144.8 137.1h0M144.5 138.7h0M82.8 88.2h0M83.4 89.5h0M99.1 34.2h0M98.1 36.2h0M96.7 36.4h0M141.4 68.3h0M142.6 67.4h0M143.6 68.4h0M145.6 67.4h0M146.9 68.0h0M148.3 68.7h0M147.2 65.9h0M147.0 64.5h0M149.0 64.7h0M150.8 63.5h0M152.7 62.5h0M154.8 61.8h0M156.8 60.9h0M157.0 59.5h0M158.9 60.4h0M159.6 59.1h0M160.3 57.8h0M161.0 59.7h0M161.2 58.3h0M161.4 56.8h0M136.7 48.0h0M135.2 46.4h0M133.7 46.7h0M90.7 32.5h0M90.4 33.9h0M67.4 93.8h0M68.8 94.2h0M155.3 101.2h0M153.8 100.9h0M152.3 100.5h0M154.6 99.2h0M153.3 98.4h0M152.0 97.7h0M154.5 97.0h0M153.3 96.1h0M152.1 95.2h0M62.9 77.7h0M62.0 76.5h0M61.1 75.3h0M60.7 77.6h0M59.9 76.4h0M59.0 75.2h0M109.1 83.4h0M108.7 81.9h0M189.9 82.2h0M190.1 83.7h0M109.3 58.0h0M170.8 78.4h0M97.1 83.4h0M96.3 85.4h0M94.8 86.0h0M93.4 86.5h0M95.3 87.3h0M95.7 88.7h0M94.7 89.4h0M78.2 122.8h0M149.6 107.6h0M108.6 47.6h0M125.8 142.7h0M124.1 141.4h0M37.1 85.4h0M35.6 85.6h0M34.1 85.7h0M36.9 87.6h0M91.6 56.5h0M90.2 55.8h0M118.9 123.0h0M97.7 61.0h0M191.4 62.1h0M192.4 60.9h0M193.4 59.8h0M128.3 96.3h0M183.6 113.4h0M184.3 111.4h0M185.7 110.8h0M187.1 110.3h0M184.7 109.3h0M183.6 108.3h0M182.5 107.2h0M195.0 79.3h0M196.5 79.6h0M198.0 79.9h0M124.4 109.7h0M125.8 110.2h0M127.2 110.8h0M124.9 111.7h0M126.4 112.1h0M127.9 112.4h0M149.5 79.4h0M151.0 79.6h0M152.5 79.9h0M150.6 81.3h0M154.2 76.8h0M154.7 78.2h0M156.3 76.8h0M157.0 75.4h0M86.8 132.8h0M85.7 133.9h0M141.7 70.4h0M140.8 71.6h0M133.9 68.9h0M132.9 70.0h0M120.0 89.5h0M103.5 140.8h0M63.3 92.1h0M62.1 93.0h0M60.9 93.9h0M170.6 111.9h0M76.7 48.4h0M76.2 47.0h0M75.7 45.6h0M64.2 84.8h0M64.7 83.4h0M98.4 110.7h0M99.7 111.3h0M101.1 111.9h0M99.8 112.3h0M101.3 112.2h0M100.9 114.2h0M100.5 115.7h0M102.2 115.9h0M102.0 117.4h0M101.8 118.8h0M102.7 118.0h0M104.1 118.4h0M103.7 117.5h0M103.7 119.0h0M103.7 120.5h0M103.1 120.1h0M105.3 119.0h0M105.4 120.4h0M105.6 121.9h0M103.8 122.1h0M105.2 122.8h0M106.6 123.4h0M106.5 120.7h0M106.1 122.2h0M62.6 101.7h0M162.3 46.5h0M163.4 47.5h0M164.5 46.6h0M165.5 45.5h0M166.5 44.4h0M166.1 45.1h0M167.6 45.2h0M167.5 43.5h0M169.0 43.3h0M169.2 42.2h0M170.7 40.6h0M129.1 90.0h0M49.9 101.0h0M51.4 100.6h0M52.8 100.2h0M50.8 99.0h0M52.9 98.6h0M53.9 99.7h0M55.1 98.5h0M88.2 105.9h0M129.4 100.2h0M131.0 100.4h0M130.8 101.9h0M132.3 101.8h0M133.8 101.8h0M132.2 103.6h0M133.4 105.4h0M134.9 105.3h0M136.4 105.2h0M135.1 106.8h0M134.2 108.8h0M134.8 110.2h0M158.3 62.4h0M159.8 62.2h0M161.3 62.0h0M159.7 64.1h0M159.2 65.5h0M160.8 66.0h0M161.8 64.8h0M161.7 67.9h0M162.5 69.9h0M163.5 66.1h0M165.2 67.5h0M166.6 67.0h0M168.0 66.5h0M109.4 107.1h0M109.3 108.6h0M111.0 108.5h0M92.6 142.1h0M91.5 143.1h0M90.3 144.1h0M194.5 90.3h0M193.9 92.3h0M47.5 91.4h0M46.6 92.6h0M45.7 93.8h0M46.3 93.2h0M52.9 89.1h0M54.4 89.5h0M55.8 89.9h0M54.4 87.5h0M53.9 86.1h0M53.4 84.7h0M55.8 85.8h0M57.3 85.9h0M57.0 84.0h0M63.1 42.7h0M62.3 44.0h0M47.0 60.0h0M44.9 60.7h0M44.6 62.2h0M126.3 110.0h0M79.5 96.9h0M51.8 67.1h0M53.3 67.0h0M54.8 67.0h0M67.6 82.9h0M105.8 140.9h0M107.3 140.6h0M108.7 140.4h0M161.8 34.9h0M162.7 36.1h0M163.5 37.4h0M164.0 35.0h0M41.8 77.8h0M43.3 77.8h0M44.8 77.8h0M43.2 79.5h0M44.7 79.2h0M46.2 78.9h0M148.8 81.4h0M70.2 68.5h0M71.7 69.0h0M73.1 69.4h0M82.3 73.6h0M81.1 71.9h0M79.6 71.7h0M78.1 71.4h0M80.3 69.9h0M78.9 69.3h0M179.2 100.5h0M181.4 100.4h0M182.3 101.5h0M183.3 102.7h0M183.5 100.9h0M185.5 101.7h0M187.7 101.9h0M104.4 132.6h0M106.6 132.9h0M144.8 66.6h0M145.8 64.6h0M155.7 77.1h0M103.7 93.7h0M102.3 94.4h0M101.5 93.4h0M100.8 92.1h0M100.0 90.8h0M103.7 73.6h0M114.8 26.1h0M113.5 25.3h0M112.3 24.4h0M169.2 57.8h0M167.9 58.6h0M169.1 60.0h0M169.8 62.0h0M169.2 63.3h0M177.2 46.7h0M175.4 47.8h0M173.4 48.8h0M58.1 116.4h0M73.3 64.5h0M150.2 43.0h0M151.7 43.0h0M150.5 45.2h0M151.4 47.1h0M152.8 47.7h0M152.3 49.1h0M153.9 49.1h0M155.4 49.2h0M153.1 51.1h0M154.5 51.8h0M154.0 53.0h0M152.4 54.5h0M152.5 55.9h0M152.6 57.4h0M150.4 55.4h0M150.0 56.8h0M148.6 56.5h0M104.7 142.9h0M103.5 141.1h0M183.7 113.7h0M43.8 76.9h0M45.2 77.4h0M46.7 77.8h0M45.6 75.8h0M47.0 76.5h0M139.9 45.8h0M138.7 46.7h0M137.5 47.7h0M120.9 68.7h0M102.0 93.8h0M100.5 94.0h0M51.0 102.2h0M140.6 31.8h0M63.8 95.9h0M63.7 94.4h0M63.6 92.9h0M62.7 94.1h0M133.0 142.8h0M127.1 51.3h0M125.8 50.4h0M124.6 49.6h0M127.2 49.1h0M43.8 101.8h0M43.6 103.2h0M43.4 104.7h0M41.9 102.7h0M111.9 65.0h0M112.9 66.0h0M114.0 67.1h0M113.1 66.8h0M89.6 108.0h0M89.3 106.5h0M90.7 106.1h0M92.2 105.8h0M166.7 95.3h0M168.2 95.0h0M169.7 94.6h0M174.9 69.2h0M172.7 69.3h0M171.7 68.2h0M192.8 75.1h0M193.9 74.1h0M161.8 51.9h0M160.3 52.3h0M158.8 52.6h0M73.2 68.0h0M116.4 74.4h0M115.9 72.9h0M115.5 71.5h0M165.8 93.5h0M134.5 80.0h0M139.4 64.0h0M140.9 63.9h0M142.4 63.8h0M138.7 62.0h0M97.6 34.5h0M97.9 36.0h0M98.2 37.5h0M96.1 36.1h0M111.1 46.4h0M135.2 64.2h0M135.9 62.9h0M136.6 61.6h0M145.6 78.9h0M147.1 78.7h0M146.7 80.8h0M116.5 27.4h0M116.6 25.2h0M75.8 99.1h0M74.9 97.9h0M74.0 96.8h0M76.9 97.2h0M78.4 97.2h0M170.4 58.9h0M169.6 60.9h0M69.8 67.7h0M70.2 69.1h0M70.6 70.6h0M72.0 68.1h0M72.5 69.5h0M73.1 70.8h0M150.8 38.2h0M69.5 85.3h0M71.0 85.0h0M72.5 84.7h0M71.2 86.6h0M71.1 88.1h0M71.1 89.6h0M111.1 35.2h0M121.3 38.1h0M119.8 38.2h0M84.3 124.7h0M148.1 29.2h0M150.3 29.4h0M151.5 28.5h0M143.6 113.9h0M82.4 36.2h0M80.8 36.2h0M81.0 34.4h0M79.5 34.5h0M88.3 66.7h0M169.3 109.5h0M98.9 130.8h0M83.7 38.4h0M82.3 37.8h0M81.0 37.1h0M81.8 37.3h0M81.6 35.8h0M80.0 36.0h0M80.1 34.5h0M80.2 33.1h0M108.8 98.3h0M79.0 96.8h0M80.5 96.9h0M161.5 110.8h0M161.7 109.3h0M38.4 81.7h0M187.7 64.8h0M189.1 64.2h0M190.5 63.5h0M86.8 127.7h0M85.3 127.6h0M83.0 61.7h0M51.6 113.9h0M52.4 112.6h0M53.2 111.4h0M113.9 128.2h0M113.6 129.6h0M189.6 63.6h0M191.8 63.5h0M192.7 62.3h0M193.7 61.1h0M178.5 114.2h0M178.8 116.4h0M177.6 117.3h0M178.9 118.5h0M192.0 90.3h0M190.1 91.3h0M189.5 93.4h0M177.7 100.0h0M178.9 99.1h0M180.1 98.1h0M83.6 88.4h0M165.4 78.6h0M163.9 78.8h0M162.4 79.0h0M164.2 76.9h0M164.9 75.6h0M109.2 94.6h0M109.3 96.0h0M115.7 115.0h0M64.4 97.3h0M62.4 96.4h0M91.0 32.5h0M89.6 33.0h0M88.1 33.6h0M89.2 31.2h0M89.1 29.7h0M88.9 28.2h0M65.4 74.1h0M118.4 125.1h0M161.1 44.2h0M161.6 42.8h0M83.9 130.2h0M82.7 129.2h0M81.6 128.2h0M76.8 79.9h0M77.6 81.1h0M78.3 82.4h0M75.1 101.9h0M73.9 102.7h0M73.0 101.5h0M72.0 102.7h0M100.8 142.1h0M99.9 140.1h0M157.8 88.9h0M156.8 87.8h0M155.8 86.7h0M159.0 90.5h0M150.7 66.0h0M152.2 65.7h0M75.5 103.6h0M73.3 103.2h0M161.6 93.5h0M106.4 107.0h0M106.9 109.1h0M67.6 83.2h0M171.3 117.2h0M171.2 119.3h0M170.0 120.3h0M69.3 61.3h0M105.9 86.9h0M105.2 85.6h0M104.4 84.4h0M123.1 104.1h0M82.3 79.2h0M52.6 115.1h0M51.1 114.9h0M49.6 114.7h0M51.3 113.4h0M49.8 113.3h0M48.3 113.2h0M49.1 113.1h0M109.6 57.4h0M109.7 58.9h0M143.2 42.5h0M141.9 43.2h0M140.6 44.0h0M47.1 87.6h0M166.1 76.4h0M166.5 75.0h0M177.3 97.1h0M178.7 97.8h0M180.1 98.4h0M107.0 142.3h0M160.0 116.2h0M158.3 117.5h0M156.8 117.1h0M58.4 45.7h0M184.6 54.0h0M185.2 55.3h0M185.8 56.7h0M186.8 54.4h0M187.8 53.3h0M188.8 52.2h0M51.1 88.6h0M151.8 76.1h0M153.1 74.4h0M74.7 100.1h0M73.7 101.2h0M72.6 100.9h0M95.1 28.6h0M95.3 27.1h0M95.5 25.6h0M83.7 132.4h0M85.0 133.2h0M86.2 134.1h0M131.8 144.1h0M132.0 145.5h0M132.2 147.0h0M193.9 83.0h0M195.1 83.9h0M77.8 124.0h0M98.2 63.7h0M97.5 62.4h0M96.7 61.2h0M96.0 63.6h0M95.1 62.4h0M94.2 61.2h0M40.3 82.5h0M96.0 61.1h0M94.7 60.3h0M79.7 113.8h0M80.9 112.0h0M82.4 111.8h0M60.4 57.4h0M61.9 56.0h0M63.7 54.6h0M78.7 122.6h0M120.7 70.6h0M54.6 118.1h0M55.3 119.5h0M55.9 120.9h0M109.4 83.7h0M117.9 127.1h0M160.5 92.2h0M57.6 118.5h0M109.0 34.1h0M107.8 33.1h0M80.3 119.7h0M82.4 119.1h0M82.7 117.7h0M83.0 116.2h0M159.6 34.8h0M158.8 33.5h0M158.0 32.2h0M160.5 32.8h0M146.7 97.8h0M146.6 96.3h0M168.3 76.2h0M167.4 77.4h0M67.8 127.4h0M66.6 129.1h0M67.1 130.5h0M62.0 44.7h0M59.8 44.3h0M59.1 43.0h0M58.3 41.7h0M114.8 37.7h0M149.6 75.8h0M151.1 75.4h0M151.1 74.2h0M62.1 59.8h0M62.0 58.3h0M139.5 50.9h0M48.6 55.0h0M48.0 53.6h0M56.5 46.7h0M68.5 40.8h0M69.3 42.1h0M70.0 43.4h0M83.3 51.8h0M82.4 53.0h0M132.5 122.7h0M131.5 123.8h0M122.5 115.1h0M124.0 114.8h0M141.0 117.5h0M139.7 118.3h0M105.7 25.7h0M104.2 25.4h0M102.8 25.0h0M103.7 26.5h0M103.2 27.9h0M102.8 29.4h0M78.0 96.6h0M183.0 111.2h0M170.5 119.0h0M171.6 120.8h0M171.3 122.3h0M170.9 123.7h0M172.8 122.6h0M172.2 124.0h0M172.4 122.8h0M133.9 24.7h0M106.8 33.3h0M73.2 101.3h0M98.6 83.0h0M65.5 95.7h0M67.1 95.5h0M75.2 134.9h0M73.0 134.6h0M72.4 133.2h0M71.8 131.8h0M97.5 99.7h0M96.1 100.3h0M94.7 100.9h0M190.5 82.6h0M191.1 84.0h0M61.7 75.9h0M178.6 78.7h0M179.2 77.3h0M101.2 35.1h0M137.4 69.1h0M137.1 70.6h0M136.7 72.0h0M88.7 113.4h0M87.7 112.3h0M86.7 111.1h0M188.8 80.2h0M139.2 138.9h0M138.6 140.3h0M139.4 141.0h0M138.5 142.3h0M138.6 80.1h0M139.1 81.5h0M120.0 83.1h0M142.7 137.2h0M142.0 138.5h0M141.2 139.8h0M143.9 139.0h0M143.5 140.5h0M143.1 141.9h0M131.9 98.8h0M133.2 98.0h0M134.5 97.3h0M102.8 42.6h0M103.9 41.6h0M105.1 40.6h0M97.6 61.5h0M95.7 62.7h0M112.1 67.7h0M45.7 66.3h0M154.1 103.0h0M153.4 101.0h0M154.3 99.8h0M155.3 98.7h0M178.9 117.2h0M167.0 103.3h0M137.6 62.3h0M111.2 35.0h0M111.4 33.5h0M157.3 112.9h0M156.0 113.6h0M154.6 114.3h0M169.6 105.9h0M167.5 106.0h0M166.6 104.8h0M165.8 103.5h0M169.3 113.7h0M168.5 115.0h0M55.1 89.2h0M54.8 87.7h0M67.2 93.5h0M95.8 100.5h0M141.8 113.9h0M146.8 63.8h0M145.3 63.3h0M143.9 62.8h0M122.9 111.3h0M83.3 72.3h0M81.5 71.1h0M105.9 103.1h0M99.3 34.6h0M125.8 24.3h0M127.3 23.8h0M126.7 22.3h0M128.2 21.9h0M129.6 21.5h0M140.6 79.6h0M83.3 88.7h0M39.3 75.5h0M39.2 76.9h0M39.0 78.4h0M84.3 63.7h0M61.7 47.5h0M62.8 48.5h0M117.7 73.3h0M116.6 72.3h0M180.6 76.9h0M106.8 89.1h0M105.4 88.7h0M114.5 118.5h0M79.8 112.1h0M80.0 110.6h0M126.3 128.7h0M125.0 127.9h0M123.7 127.1h0M37.0 85.3h0M109.4 104.9h0M109.5 106.4h0M109.5 107.8h0M110.8 106.5h0M110.6 108.0h0M110.4 109.5h0M112.2 108.2h0M100.5 83.3h0M99.1 82.9h0M131.6 124.1h0M87.8 129.3h0M89.0 128.4h0M87.4 127.1h0M86.1 126.3h0M84.9 125.5h0M66.0 128.4h0M122.6 72.9h0M124.7 72.6h0M126.9 72.7h0M128.1 71.8h0M126.9 126.8h0M125.5 126.1h0M124.2 125.4h0M125.9 128.8h0M140.7 31.8h0M139.4 31.1h0M138.1 30.4h0M184.2 111.4h0M184.8 109.3h0M183.8 108.3h0M123.7 111.6h0M124.4 113.6h0M125.9 113.9h0M127.3 114.3h0M163.5 47.8h0M164.6 48.8h0M76.6 48.4h0M77.4 47.2h0M179.5 115.4h0M178.6 117.4h0M177.2 117.9h0M74.9 52.3h0M67.0 70.0h0M179.0 46.4h0M176.9 45.8h0M136.1 54.1h0M134.6 54.2h0M175.8 113.5h0M174.7 114.5h0M173.6 115.5h0M184.4 53.8h0M184.1 52.3h0M183.9 50.8h0M145.4 112.7h0M144.8 111.4h0M143.4 111.9h0M142.2 112.9h0M141.0 113.8h0M131.4 51.8h0M149.1 138.1h0M111.5 46.5h0M110.6 47.7h0M112.2 48.5h0M111.2 49.7h0M108.6 96.5h0M108.6 98.0h0M127.5 142.2h0M126.1 142.8h0M117.4 145.0h0M122.8 47.3h0M123.0 45.8h0M135.5 39.0h0M136.9 38.6h0M76.4 133.3h0M75.5 134.4h0M74.5 135.6h0M74.3 132.7h0M122.5 47.5h0M118.5 91.2h0M117.1 92.8h0M117.2 94.3h0M117.3 95.8h0M57.6 59.0h0M58.2 57.6h0M156.3 78.3h0M85.3 126.1h0M84.6 124.8h0M84.0 123.4h0M80.6 132.3h0M81.3 133.6h0M81.9 135.0h0M151.4 74.3h0M118.6 103.1h0M154.0 76.1h0M154.8 77.4h0M156.2 76.5h0M156.9 77.8h0M157.7 79.1h0M81.2 57.6h0M80.2 59.5h0M103.0 142.5h0M103.3 141.0h0M102.3 140.4h0M58.9 114.3h0M57.5 114.8h0M115.5 122.0h0M114.2 121.2h0M113.0 120.3h0M93.0 33.3h0M113.2 127.9h0M116.0 119.3h0M115.3 118.0h0M113.9 119.7h0M100.2 140.8h0M101.4 140.0h0M135.6 116.2h0M134.2 116.8h0M81.8 76.5h0M80.5 75.8h0M79.2 75.1h0M109.3 55.9h0M108.0 55.1h0M123.7 48.9h0M122.5 48.0h0M123.8 46.8h0M122.8 45.6h0M121.8 44.5h0M154.4 63.9h0M115.4 25.9h0M114.0 26.5h0M96.0 142.3h0M93.8 142.6h0M97.2 130.9h0M95.7 130.5h0M81.3 78.6h0M173.5 112.1h0M81.8 59.6h0M80.3 59.5h0M80.5 61.3h0M154.1 77.1h0M136.0 93.3h0M134.8 92.4h0M137.7 97.7h0M179.3 48.4h0M177.9 49.2h0M107.4 87.5h0M107.8 86.0h0M108.2 84.6h0M104.0 140.7h0M156.6 99.8h0M155.2 99.4h0M153.7 99.0h0M154.5 99.4h0M155.1 106.8h0M146.1 43.6h0M145.8 45.8h0M43.6 89.8h0M42.6 90.9h0M44.2 91.8h0M45.6 92.4h0M124.0 142.3h0M122.5 142.6h0M83.4 51.9h0M84.3 50.7h0M149.9 107.5h0M148.5 107.0h0M147.1 106.4h0M104.6 75.0h0M103.1 75.2h0M101.7 75.5h0M135.0 141.8h0M118.3 93.2h0M156.6 63.0h0M130.1 36.8h0M93.7 121.6h0M92.3 122.2h0M91.9 120.4h0M123.0 113.5h0M91.5 56.5h0M90.9 57.8h0M71.1 68.4h0M71.9 70.4h0M85.3 39.6h0M83.2 39.2h0M81.9 40.0h0M80.6 40.8h0M103.6 73.4h0M105.1 73.3h0M56.7 47.9h0M68.4 69.1h0M69.5 68.0h0M70.6 67.0h0M70.6 68.9h0M71.3 67.5h0M72.0 66.2h0M134.3 67.3h0M135.0 68.6h0M135.8 69.9h0M133.7 69.4h0M134.3 70.8h0M134.9 72.1h0M127.7 100.7h0M129.1 101.3h0M130.5 101.9h0M125.0 109.3h0M126.4 111.0h0M69.8 126.7h0M68.3 126.9h0M67.6 126.7h0M66.6 125.6h0M65.5 126.7h0M64.5 127.8h0M67.9 124.5h0M72.9 48.8h0M74.4 48.7h0M127.7 52.6h0M126.2 53.0h0M62.1 96.4h0M45.5 60.6h0M44.4 61.7h0M43.4 62.8h0M95.3 33.7h0M93.8 33.6h0M92.3 33.5h0M137.6 52.5h0M138.0 54.6h0M139.3 55.3h0M118.0 135.3h0M119.5 134.9h0M158.2 103.4h0M159.0 104.7h0M84.1 54.3h0M85.0 55.5h0M85.9 56.7h0M73.6 134.4h0" stroke="#ffe10a" stroke-width="2.20" stroke-linecap="round" fill="none"/>
<path d="M95.8 25.4h0M101.0 27.1h0M106.1 27.9h0M111.2 23.7h0M104.4 33.1h0M102.7 38.2h0M110.4 41.6h0M112.9 33.1h0M72.0 32.2h0M72.8 51.8h0M87.3 55.2h0M104.4 52.7h0M108.6 57.0h0M54.0 64.6h0M66.8 65.5h0M51.5 78.3h0M111.2 73.2h0M77.1 75.7h0M79.6 78.3h0M147.4 50.1h0M150.0 52.7h0M152.5 51.0h0M155.1 50.1h0M157.7 52.7h0M160.2 51.0h0M161.9 55.2h0M164.5 56.1h0M167.0 54.4h0M168.8 48.4h0M171.3 52.7h0M174.7 55.2h0M177.3 51.8h0M179.0 57.0h0M182.4 56.1h0M185.0 55.2h0M186.7 58.7h0M190.1 61.2h0M192.6 65.5h0M194.4 67.2h0M149.1 56.1h0M151.7 57.8h0M155.1 57.0h0M157.7 58.7h0M160.2 59.5h0M163.6 60.4h0M166.2 62.1h0M169.6 63.8h0M173.0 59.5h0M176.4 58.7h0M179.8 62.9h0M183.3 65.5h0M185.8 66.3h0M188.4 64.6h0M190.1 66.3h0M145.7 60.4h0M144.9 62.9h0M148.3 64.6h0M154.2 65.5h0M156.8 67.2h0M161.1 63.8h0M164.5 65.5h0M167.9 67.2h0M171.3 68.9h0M174.7 65.5h0M178.1 67.2h0M187.5 70.6h0M190.1 72.3h0M132.1 57.0h0M122.7 48.4h0M118.4 52.7h0M136.3 68.9h0M142.3 67.2h0M131.2 73.2h0M66.8 83.6h0M72.8 83.6h0M76.2 84.4h0M80.5 86.1h0M82.2 89.5h0M79.6 88.7h0M95.0 88.7h0M49.8 97.2h0M52.3 98.1h0M54.0 93.8h0M51.5 102.3h0M70.2 98.1h0M78.8 95.5h0M82.2 96.4h0M85.6 98.1h0M87.3 96.4h0M95.8 101.5h0M97.6 103.2h0M112.1 93.8h0M112.9 101.5h0M104.4 98.1h0M67.7 108.3h0M70.2 107.5h0M67.7 110.9h0M72.0 110.0h0M69.4 105.7h0M77.1 106.6h0M82.2 105.7h0M83.9 108.3h0M85.6 106.6h0M60.9 113.4h0M106.1 116.0h0M101.0 117.7h0M109.5 123.7h0M69.4 127.1h0M72.0 127.9h0M80.5 126.2h0M85.6 121.1h0M87.3 130.5h0M90.7 132.2h0M95.0 127.1h0M95.8 131.3h0M98.4 133.0h0M70.2 135.6h0M72.0 137.3h0M82.2 137.3h0M102.7 139.0h0M138.0 87.8h0M150.8 87.0h0M162.8 83.6h0M166.2 82.7h0M169.6 84.4h0M173.0 86.1h0M174.7 88.7h0M176.4 90.4h0M179.8 91.2h0M178.1 94.7h0M185.0 89.5h0M188.4 87.8h0M190.1 84.4h0M182.4 98.1h0M125.2 95.5h0M127.8 98.1h0M121.8 99.8h0M116.7 104.0h0M132.1 108.3h0M159.4 103.2h0M164.5 105.7h0M171.3 104.0h0M179.8 103.2h0M180.7 107.5h0M192.6 102.3h0M118.4 116.8h0M116.7 120.2h0M145.7 115.1h0M159.4 110.0h0M158.5 115.1h0M173.9 117.7h0M171.3 119.4h0M181.6 122.0h0M126.9 126.2h0M128.7 127.9h0M124.4 128.8h0M133.8 127.1h0M148.3 122.0h0M151.7 125.4h0M157.7 124.5h0M160.2 125.4h0M161.1 133.0h0M137.2 133.0h0M156.8 139.0h0M135.5 140.7h0M141.5 130.5h0" stroke="#007020" stroke-width="2.60" stroke-linecap="round" fill="none"/>
<path d="M76.2 35.6h0M64.3 42.5h0M74.5 40.7h0M96.7 41.6h0M99.3 45.0h0M106.1 44.2h0M111.2 44.2h0M53.2 55.2h0M79.6 52.7h0M83.9 49.3h0M80.5 57.0h0M82.2 57.8h0M94.1 57.8h0M62.6 70.6h0M66.0 68.0h0M69.4 69.8h0M90.7 66.3h0M108.6 67.2h0M147.4 38.2h0M143.2 45.0h0M129.5 59.5h0M128.7 62.1h0M124.4 67.2h0M151.7 62.1h0M153.4 64.6h0M171.3 56.1h0M179.8 62.1h0M183.3 60.4h0M186.7 62.9h0M187.5 68.9h0M190.1 73.2h0M173.9 74.9h0M163.6 77.4h0M162.8 80.0h0M117.6 70.6h0M125.2 78.3h0M37.8 89.5h0M47.2 86.1h0M69.4 84.1h0M91.6 97.2h0M93.3 98.9h0M56.6 108.0h0M122.7 87.8h0M124.4 87.8h0M150.8 91.2h0M156.0 97.2h0M130.4 93.8h0M137.2 106.6h0M161.1 106.6h0M163.6 113.4h0M167.9 122.8h0M177.3 112.6h0M130.4 132.2h0" stroke="#00bfff" stroke-width="2.30" stroke-linecap="round" fill="none"/>
<path d="M150.8 66.3h0M158.5 70.6h0M161.1 72.3h0M163.6 71.5h0M164.5 74.0h0M166.2 73.2h0M165.3 75.7h0M167.9 76.6h0M140.6 57.0h0M124.4 49.3h0M73.7 87.0h0M65.1 98.9h0M66.8 99.8h0M72.0 94.7h0M105.2 121.1h0M104.4 135.6h0M149.1 101.5h0M170.5 116.8h0" stroke="#ff00ff" stroke-width="2.30" stroke-linecap="round" fill="none"/>
<path d="M79.6 33.1h0M114.3 48.4h0M52.3 51.8h0M77.1 51.8h0M72.0 54.4h0M99.3 60.4h0M60.0 63.8h0M65.1 63.8h0M70.2 64.6h0M65.1 74.0h0M58.3 72.3h0M53.2 72.3h0M47.2 71.5h0M48.9 74.9h0M101.0 71.5h0M106.1 70.6h0M120.1 24.5h0M116.4 34.8h0M158.5 31.0h0M121.0 42.5h0M118.4 57.0h0M140.6 65.5h0M132.9 75.7h0M129.5 76.6h0M121.0 72.3h0M97.6 84.1h0M104.4 85.3h0M74.5 114.3h0M101.8 113.4h0M104.4 112.6h0M112.9 118.5h0M117.6 81.9h0M132.9 83.6h0M179.0 87.0h0M140.6 103.2h0M146.6 108.3h0M190.1 106.6h0M117.6 118.5h0M126.9 117.7h0M133.8 120.2h0M143.2 118.5h0M166.2 119.4h0M150.8 134.8h0M125.2 135.6h0" stroke="#ff1478" stroke-width="2.30" stroke-linecap="round" fill="none"/>
<path d="M67.7 34.8h0M71.6 36.1h0M72.8 38.2h0M90.7 43.3h0M61.7 74.9h0M37.8 80.8h0M116.7 29.7h0M133.8 33.9h0M136.3 34.8h0M137.2 33.1h0M140.6 38.2h0M142.3 39.9h0M188.4 79.1h0M140.6 74.9h0M37.8 81.9h0M93.3 102.8h0M110.4 99.8h0M118.4 102.3h0M169.6 101.5h0" stroke="#9a6a1e" stroke-width="2.30" stroke-linecap="round" fill="none"/>
<path d="M135.3 235.3h0M136.2 234.1h0M137.1 232.9h0M43.4 216.5h0M127.6 227.2h0M133.7 294.1h0M132.1 294.2h0M137.4 239.0h0M138.9 239.3h0M119.7 184.8h0M121.1 185.5h0M122.4 186.1h0M90.4 272.2h0M91.4 273.3h0M92.4 274.4h0M182.5 222.9h0M181.5 221.8h0M180.5 220.7h0M64.0 201.1h0M132.2 292.5h0M130.8 292.8h0M129.3 293.2h0M162.7 239.5h0M67.1 198.1h0M68.6 198.2h0M87.6 279.7h0M87.1 278.2h0M130.1 247.9h0M129.3 246.6h0M128.4 245.4h0M138.6 240.8h0M181.7 227.1h0M135.7 193.0h0M137.0 193.7h0M138.3 194.5h0M130.9 290.8h0M96.6 260.9h0M98.1 261.3h0M99.5 261.6h0M90.2 282.8h0M91.5 283.6h0M80.9 270.1h0M80.4 268.6h0M80.0 267.2h0M131.6 194.5h0M80.4 223.7h0M80.2 222.3h0M120.7 194.4h0M119.4 195.2h0M77.1 226.6h0M121.5 183.6h0M121.9 182.1h0M152.4 286.0h0M152.3 287.5h0M152.2 289.0h0M85.4 279.1h0M138.6 243.0h0M47.8 216.1h0M123.5 182.6h0M124.8 183.3h0M126.1 184.1h0M129.7 195.7h0M129.4 197.1h0M129.0 198.6h0M95.6 256.7h0M94.2 256.0h0M156.3 284.0h0M157.4 285.0h0M158.6 285.9h0M105.8 229.5h0M107.1 230.2h0M62.5 202.7h0M62.5 204.2h0M134.6 233.2h0M133.1 232.9h0M83.5 278.1h0M45.0 227.9h0M44.3 226.6h0M43.5 225.3h0M90.8 284.9h0M158.4 239.2h0M183.7 221.1h0M183.0 219.7h0M91.5 286.9h0M90.9 288.3h0M90.2 289.6h0M158.4 284.0h0M42.9 227.7h0M42.2 226.3h0M82.2 222.6h0M82.2 221.1h0M82.2 219.6h0M128.0 247.4h0M126.7 248.2h0M125.6 226.3h0M124.2 226.8h0M125.8 247.1h0M60.7 203.9h0M60.6 205.4h0M105.7 231.6h0M116.9 183.5h0M115.5 182.8h0M114.1 182.2h0M164.8 238.8h0M165.2 237.3h0M165.5 235.9h0M116.0 181.5h0M116.7 180.1h0M150.5 287.1h0M149.1 286.6h0M58.7 204.9h0M56.7 205.6h0M56.2 207.0h0M55.6 208.4h0M54.6 206.4h0M53.3 205.8h0M138.9 245.1h0M49.9 215.7h0M50.8 214.6h0M123.8 246.3h0M67.5 230.7h0M66.0 230.4h0M64.5 230.1h0M127.8 196.7h0M126.6 195.9h0M40.7 227.9h0M40.0 229.2h0M39.3 230.5h0M120.3 196.5h0M121.3 197.6h0M105.2 233.7h0M103.7 234.2h0M156.2 239.0h0M155.2 240.1h0M154.2 241.2h0M104.4 235.7h0M103.1 236.4h0M101.7 237.1h0M139.8 242.6h0M127.5 198.8h0M126.1 199.4h0M124.7 200.0h0M84.2 221.6h0M84.6 220.2h0M85.1 218.7h0M78.0 273.3h0M78.4 274.8h0M78.9 276.2h0M121.7 245.6h0M106.3 225.2h0M107.6 224.5h0M109.0 223.8h0M38.6 228.6h0M133.1 250.2h0M76.1 274.4h0M52.1 215.6h0M53.0 214.4h0M53.9 213.2h0M70.3 234.0h0M71.8 233.8h0M73.3 233.5h0M119.8 244.6h0M119.7 243.1h0M133.4 290.7h0M123.6 225.5h0M123.0 224.1h0M154.1 238.5h0M184.5 219.1h0M160.6 283.6h0M161.7 284.6h0M119.6 198.6h0M120.2 199.9h0M140.2 244.7h0M91.8 289.1h0M90.9 290.3h0M90.0 291.5h0M185.0 217.0h0M92.5 291.1h0M91.7 292.3h0M90.8 293.5h0M135.5 290.1h0M136.1 288.8h0M71.6 235.8h0M70.9 237.1h0M127.1 200.9h0M128.1 202.0h0M129.2 203.1h0M49.1 226.8h0M97.5 262.9h0M151.9 238.3h0M68.8 196.8h0M75.6 228.2h0M140.9 246.8h0M139.9 248.0h0M92.6 272.2h0M148.6 288.1h0M118.6 200.5h0M117.1 200.8h0M134.2 288.7h0M133.4 287.4h0M132.6 286.1h0M162.8 283.3h0M163.4 281.9h0M98.4 264.9h0M97.9 266.3h0M97.5 267.7h0M181.3 229.2h0M182.2 230.4h0M183.2 231.6h0M125.3 181.5h0M126.8 181.8h0M128.3 182.1h0M117.9 243.5h0M126.9 203.1h0M127.7 204.3h0M72.5 237.7h0M71.7 239.0h0M166.9 238.3h0M168.0 239.4h0M103.6 237.7h0M54.3 215.7h0M55.2 216.8h0M56.2 218.0h0M140.0 247.0h0M139.5 248.3h0M164.6 282.2h0M165.1 280.7h0M50.8 225.4h0M52.3 225.6h0M56.4 215.3h0M137.7 289.8h0M92.9 293.2h0M92.1 294.5h0M91.2 295.7h0M102.7 239.7h0M52.7 207.4h0M51.3 206.8h0M169.1 238.1h0M121.5 224.8h0M120.9 223.5h0M119.5 224.0h0M118.3 224.9h0M117.2 225.8h0M107.2 223.2h0M108.5 222.6h0M86.2 220.9h0M86.7 219.5h0M87.2 218.1h0M52.5 224.0h0M54.0 224.4h0M135.0 286.7h0M117.4 223.3h0M135.8 284.6h0M134.7 283.6h0M93.2 295.4h0M129.3 289.4h0M127.8 289.8h0M70.2 195.1h0M54.4 223.0h0M133.3 286.7h0M132.0 286.0h0M56.6 222.8h0M57.3 221.5h0M58.1 220.2h0M58.8 222.7h0M59.5 221.4h0M74.1 275.2h0M149.8 237.8h0M126.6 205.2h0M127.5 206.5h0M128.4 207.7h0M94.7 272.5h0M95.6 273.7h0M58.5 214.7h0M95.2 254.6h0M73.4 239.7h0M71.5 193.4h0M73.0 193.2h0M74.5 192.9h0M50.7 206.5h0M50.4 205.0h0M50.1 203.5h0M117.7 202.5h0M116.3 203.0h0M114.9 203.5h0M137.6 192.0h0M139.0 192.6h0M140.4 193.2h0M171.3 238.2h0M172.3 239.2h0M108.2 221.3h0M139.6 191.0h0M139.7 189.5h0M134.4 251.9h0M117.0 204.5h0M181.1 231.4h0M182.3 232.4h0M115.9 242.7h0M60.7 214.2h0M48.6 205.8h0M48.3 204.4h0M88.3 220.1h0M89.5 221.0h0M90.7 222.0h0M182.8 232.8h0M173.5 238.3h0M174.3 237.0h0M126.5 207.4h0M125.2 208.2h0M123.9 209.0h0M147.6 237.4h0M141.5 192.0h0M94.5 252.5h0M180.7 233.5h0M143.4 193.1h0M113.9 241.7h0M112.5 242.4h0M141.6 190.2h0M142.9 190.9h0M144.3 191.6h0M94.1 250.4h0M166.5 281.0h0M145.5 236.9h0M90.3 219.2h0M126.2 209.5h0M125.0 210.4h0M115.4 222.5h0M114.9 221.1h0M143.8 235.5h0M144.0 234.0h0M135.9 253.5h0M50.7 208.3h0M62.8 214.0h0M63.7 215.3h0M64.5 216.6h0M108.8 219.2h0M184.6 233.9h0M185.0 235.4h0M143.1 233.5h0M131.9 285.1h0M72.8 191.6h0M74.3 191.4h0M175.3 239.4h0M176.7 238.8h0M178.1 238.2h0M96.9 272.5h0M97.6 271.2h0M74.8 241.4h0M74.3 242.8h0M92.2 218.2h0M92.6 216.8h0M61.0 222.5h0M116.3 206.6h0M114.9 207.2h0M113.6 207.8h0M93.5 248.3h0M93.2 246.2h0M94.4 245.3h0M63.1 222.6h0M64.0 223.8h0M99.1 273.0h0M100.0 271.8h0M109.0 217.1h0M48.5 207.9h0M64.9 214.9h0M94.3 217.6h0M95.0 216.3h0M139.8 289.3h0M141.1 290.0h0M142.5 290.7h0M65.3 222.4h0M66.0 221.0h0M111.7 241.4h0M110.8 242.6h0M109.9 243.7h0M72.1 276.2h0M70.8 275.4h0M69.5 274.7h0M186.6 234.9h0M187.2 236.3h0M135.9 282.5h0M137.2 281.7h0M138.5 280.9h0M137.6 254.9h0M75.9 243.2h0M101.8 241.7h0M115.6 208.6h0M136.0 280.3h0M137.3 279.5h0M138.6 278.8h0M77.1 245.0h0M110.8 239.4h0M143.5 189.2h0M144.9 189.7h0M139.3 256.3h0M140.8 256.1h0M168.2 279.6h0M168.3 278.1h0M96.5 217.3h0M97.5 218.3h0M98.6 219.4h0M67.4 221.7h0M93.1 244.0h0M91.7 243.4h0M188.6 235.6h0M189.9 234.8h0M191.1 233.9h0M177.3 240.3h0M178.8 239.9h0M137.7 281.1h0M69.5 221.3h0M109.2 214.9h0M142.4 231.4h0M143.2 230.1h0M143.9 228.8h0M108.4 212.9h0M107.0 212.4h0M98.5 216.4h0M98.8 215.0h0M99.1 213.5h0M179.3 241.2h0M67.0 214.3h0M67.7 212.9h0M101.3 273.0h0M102.2 271.9h0M74.8 190.7h0M141.1 257.4h0M145.5 193.9h0M100.4 215.3h0M115.5 210.8h0M116.7 211.6h0M93.0 241.9h0M65.0 213.6h0M65.4 212.1h0M65.9 210.7h0M107.8 210.8h0M108.5 209.5h0M169.0 277.6h0M168.0 276.5h0M190.5 236.8h0M78.3 246.9h0M141.2 229.6h0M139.3 279.8h0M140.7 227.5h0M139.5 226.6h0M100.8 243.6h0M181.2 242.3h0M182.7 241.9h0M184.2 241.5h0M141.2 278.6h0M142.5 259.1h0M92.8 239.7h0M147.6 194.3h0M76.8 190.1h0M78.2 190.8h0M78.9 189.4h0M143.8 260.8h0M69.0 213.5h0M70.3 214.4h0M71.6 215.2h0M142.8 277.2h0M144.8 187.4h0M70.2 277.2h0M68.7 276.7h0M67.3 276.2h0M81.0 188.8h0M81.8 187.5h0M82.5 186.2h0M190.4 234.4h0M191.8 235.1h0M193.1 235.8h0M71.0 212.7h0M71.6 211.3h0M107.3 208.7h0M136.5 278.2h0M140.0 225.5h0M138.5 225.2h0M125.8 211.7h0M67.1 213.2h0M103.4 273.3h0M135.4 276.4h0M133.9 276.3h0M132.4 276.2h0M149.5 195.3h0M183.1 243.3h0M183.3 244.8h0M83.2 188.8h0M84.2 189.9h0M85.2 191.1h0M134.3 274.5h0M151.6 196.0h0M152.3 197.3h0M153.5 197.0h0M153.6 198.5h0M153.7 200.0h0M139.4 223.4h0M106.7 206.6h0M139.0 221.3h0M155.6 197.8h0M144.3 275.6h0M92.2 237.7h0M145.4 262.3h0M145.1 263.8h0M144.8 265.3h0M71.7 221.1h0M72.7 222.3h0M133.7 272.4h0M132.2 272.0h0M130.8 271.5h0M157.0 199.5h0M158.5 199.6h0M160.0 199.8h0M134.0 270.3h0M133.2 269.0h0M132.4 267.8h0M169.8 275.6h0M171.3 275.3h0M91.4 235.6h0M92.3 234.4h0M93.2 233.2h0M157.5 198.9h0M157.5 200.4h0M157.5 201.9h0M134.0 268.1h0M135.2 267.2h0M136.4 266.3h0M117.2 212.1h0M118.7 212.0h0M120.2 211.8h0M79.2 248.8h0M79.6 251.0h0M81.0 251.5h0M82.4 252.1h0M79.3 253.1h0M77.9 253.8h0M145.9 274.1h0M105.6 273.4h0M106.5 274.6h0M107.4 275.8h0M138.6 219.1h0M146.9 263.9h0M148.4 263.5h0M107.7 273.8h0M148.3 265.5h0M148.2 267.0h0M148.1 268.5h0M159.3 200.0h0M160.7 199.4h0M106.1 204.6h0M104.6 204.1h0M103.2 203.6h0M150.4 266.3h0M151.0 267.7h0M151.5 269.1h0M146.9 186.7h0M105.6 202.5h0M104.2 201.9h0M137.9 217.1h0M138.6 215.7h0M139.2 214.4h0M109.8 274.5h0M111.0 273.5h0M112.1 272.6h0M91.0 233.5h0M91.8 232.2h0M85.3 189.3h0M86.2 190.5h0M90.6 231.4h0M89.2 230.9h0M87.7 230.4h0M147.8 273.0h0M170.6 273.6h0M172.1 273.2h0M173.5 272.9h0M161.2 201.1h0M152.5 267.0h0M153.6 266.1h0M78.9 255.2h0M87.2 190.4h0M88.7 189.9h0M90.1 189.3h0M158.4 201.2h0M157.9 202.6h0M125.7 213.8h0M126.6 215.0h0M127.6 216.2h0M133.8 266.0h0M132.5 265.2h0M131.2 264.5h0M90.5 229.2h0M88.6 192.1h0M159.8 202.8h0M159.5 204.2h0M185.0 244.4h0M111.9 275.2h0M112.4 276.6h0M78.3 257.3h0M79.3 258.4h0M80.4 259.5h0M171.6 271.7h0M186.8 245.8h0M172.6 269.7h0M137.1 215.1h0M135.7 214.7h0M154.5 267.9h0M155.8 267.1h0M157.0 266.3h0M136.3 213.1h0M134.8 212.8h0M133.3 212.6h0M133.7 263.8h0M132.4 263.0h0M188.5 247.1h0M189.9 246.8h0M68.1 277.8h0M67.4 279.1h0M105.5 200.3h0M104.3 199.4h0M133.9 261.7h0M135.0 260.7h0M189.2 249.1h0M188.6 250.5h0M135.4 211.1h0M133.9 210.9h0M132.4 210.7h0M125.7 216.0h0M114.0 275.8h0M115.0 274.7h0M125.4 218.1h0M89.9 193.8h0M91.3 194.2h0M92.8 194.6h0M126.9 217.8h0M126.2 219.1h0M125.4 220.4h0M90.7 227.1h0M77.6 259.3h0M78.6 260.4h0M92.1 227.7h0M91.3 195.5h0M90.8 196.9h0M93.6 226.1h0M172.0 275.6h0M92.2 197.4h0M173.9 274.6h0M174.4 273.2h0M174.9 271.8h0M175.4 273.0h0M93.4 199.3h0M94.7 201.0h0M66.0 278.4h0M65.5 279.8h0M129.0 218.5h0M129.2 220.0h0M156.6 268.4h0M157.9 267.6h0M159.1 266.8h0M158.7 268.7h0M159.7 267.5h0M116.1 276.3h0M117.0 277.5h0M130.4 220.1h0M131.9 220.0h0M134.9 209.0h0M136.1 208.1h0M137.2 207.1h0M95.3 224.8h0M104.8 198.3h0M105.4 196.9h0M105.9 195.5h0M97.4 224.4h0M134.3 206.9h0M73.6 220.1h0M74.9 220.9h0M76.2 221.7h0M76.7 261.3h0M77.1 262.7h0M77.5 264.2h0M117.2 274.4h0M160.9 268.9h0M161.8 270.1h0M162.7 271.3h0M134.6 204.8h0M135.9 204.1h0M137.2 203.3h0M117.9 272.3h0M135.4 202.8h0M134.4 201.6h0M133.4 200.5h0M118.6 270.3h0M136.6 201.0h0M138.1 200.8h0M139.6 200.5h0M138.6 200.0h0M140.0 200.6h0M141.4 201.2h0M118.3 276.4h0M96.0 202.8h0M97.4 204.4h0M159.9 270.5h0M159.2 271.8h0M140.7 200.4h0M141.9 199.5h0M142.9 200.6h0M143.7 199.4h0M144.5 198.1h0M163.1 269.0h0M164.0 270.2h0M165.0 271.4h0M63.8 278.8h0M62.6 277.9h0M61.4 277.0h0M98.4 206.3h0M161.0 272.4h0M160.6 273.8h0M160.3 275.3h0M104.1 196.2h0M102.6 195.9h0M101.1 195.6h0M119.3 268.3h0M162.0 274.3h0M103.2 194.3h0M101.6 194.2h0M100.1 194.1h0M97.9 208.4h0M61.9 279.8h0M61.8 281.3h0M75.9 263.3h0M120.5 276.5h0M121.6 277.5h0M120.5 266.4h0M121.7 264.6h0M122.7 276.1h0M102.3 192.3h0M124.8 275.9h0M103.4 190.4h0M123.0 262.9h0M101.6 190.2h0M102.6 189.1h0M103.5 187.9h0M127.0 275.9h0M127.8 277.2h0M123.9 260.9h0M125.4 260.8h0M126.9 260.7h0M165.1 268.1h0M165.7 266.7h0M75.2 265.4h0M73.7 265.7h0M125.2 259.2h0M104.0 188.3h0M101.3 188.1h0M99.9 187.3h0M126.6 257.5h0M126.0 256.1h0M125.5 254.8h0M100.3 186.1h0M105.1 186.4h0M104.5 185.1h0M128.3 256.1h0M128.0 254.6h0M127.8 253.1h0M153.0 240.4h0M151.7 242.1h0M151.8 243.6h0M151.9 245.1h0M150.4 243.9h0M148.9 243.8h0M147.4 243.8h0M149.0 245.6h0M148.1 247.6h0M146.7 248.0h0M117.3 274.4h0M118.8 274.1h0M85.5 191.5h0M85.2 193.6h0M83.9 194.4h0M92.3 201.1h0M90.8 201.2h0M90.9 202.8h0M89.2 204.1h0M87.3 205.3h0M87.2 206.8h0M87.1 208.2h0M85.2 205.9h0M84.0 205.0h0M83.2 206.7h0M82.7 208.1h0M81.2 207.4h0M79.0 207.9h0M77.7 207.2h0M76.4 206.4h0M76.9 208.4h0M175.6 241.6h0M176.9 242.4h0M178.2 243.2h0M175.5 243.7h0M174.3 244.6h0M175.2 245.9h0M173.8 246.4h0M172.4 246.9h0M174.6 248.0h0M173.2 248.6h0M174.1 250.1h0M172.9 250.9h0M173.7 252.2h0M172.8 254.2h0M171.8 256.1h0M170.4 256.6h0M171.0 258.1h0M170.3 260.1h0M169.8 262.2h0M170.5 263.5h0M171.3 264.8h0M172.8 239.8h0M153.7 199.2h0M152.5 200.1h0M153.6 201.4h0M152.3 202.0h0M77.1 228.8h0M77.4 230.9h0M78.8 231.5h0M78.3 232.9h0M80.5 233.2h0M81.6 232.2h0M82.6 233.7h0M83.3 235.0h0M84.1 236.3h0M84.0 235.3h0M49.1 229.0h0M50.9 230.2h0M52.4 231.7h0M52.3 233.2h0M52.3 234.7h0M53.9 233.4h0M55.4 233.4h0M55.3 235.0h0M54.8 236.5h0M54.3 237.9h0M56.8 236.6h0M58.3 238.2h0M59.7 237.8h0M59.8 239.8h0M61.3 241.3h0M62.8 240.9h0M64.3 240.5h0M62.9 242.8h0M64.5 244.2h0M66.0 245.8h0M65.8 247.3h0M67.2 247.6h0M68.7 247.5h0M70.2 247.4h0M68.2 249.6h0M69.6 250.0h0M69.3 251.4h0M70.8 251.4h0M70.6 253.2h0M102.1 188.6h0M102.4 187.1h0M100.5 187.2h0M91.2 292.8h0M91.4 294.3h0M90.7 294.9h0M91.9 295.9h0M93.0 296.9h0M133.8 191.6h0M132.6 190.6h0M131.4 189.7h0M133.7 189.4h0M134.9 188.5h0M133.8 187.3h0M132.6 186.4h0M134.2 185.2h0M132.0 185.3h0M131.1 184.1h0M130.2 182.9h0M75.5 260.0h0M74.2 259.3h0M72.9 258.5h0M73.5 260.8h0M71.6 261.9h0M71.2 263.4h0M70.8 264.8h0M187.1 243.8h0M188.2 244.9h0M189.3 245.9h0M91.8 229.6h0M93.3 229.4h0M94.8 229.2h0M164.4 267.3h0M143.4 190.9h0M144.9 191.3h0M146.3 191.6h0M56.7 204.0h0M56.5 202.6h0M55.3 202.4h0M53.8 202.2h0M158.3 267.1h0M159.8 267.4h0M161.3 267.6h0M160.0 265.8h0M49.0 207.8h0M88.5 228.5h0M87.3 229.5h0M143.1 187.0h0M144.2 186.0h0M145.3 184.9h0M141.6 185.5h0M172.0 275.6h0M173.0 276.8h0M76.9 248.6h0M75.4 248.3h0M89.9 288.4h0M88.4 289.9h0M88.6 291.4h0M88.9 292.9h0M136.4 209.2h0M138.5 208.5h0M140.6 208.6h0M141.4 207.3h0M142.2 206.0h0M142.7 208.0h0M144.9 208.0h0M145.7 206.7h0M146.6 205.5h0M147.1 208.5h0M149.2 208.1h0M150.4 209.0h0M151.5 210.0h0M151.4 208.3h0M112.0 237.6h0M113.1 235.8h0M114.6 234.2h0M116.2 232.7h0M117.7 233.1h0M119.1 233.5h0M117.8 231.2h0M127.7 216.9h0M129.4 218.2h0M131.1 219.6h0M116.2 272.5h0M114.8 270.8h0M113.8 274.2h0M115.2 274.7h0M116.6 275.3h0M124.7 245.2h0M125.2 243.8h0M123.6 243.3h0M123.9 241.9h0M91.3 294.7h0M89.8 294.4h0M88.3 294.1h0M119.8 246.6h0M119.5 248.1h0M119.2 249.5h0M118.0 247.9h0M116.2 249.0h0M114.8 248.4h0M114.4 250.2h0M114.2 251.7h0M112.5 251.3h0M111.1 250.6h0M110.6 252.3h0M109.2 251.7h0M107.9 251.0h0M108.8 253.6h0M107.3 253.1h0M106.6 253.8h0M105.7 255.0h0M104.5 254.4h0M103.7 255.7h0M102.5 253.4h0M119.9 274.9h0M121.4 275.3h0M122.8 275.8h0M107.9 276.0h0M109.2 276.7h0M107.9 278.1h0M108.6 280.2h0M110.1 280.5h0M109.4 282.2h0M110.1 284.3h0M110.6 286.4h0M109.6 287.5h0M111.1 288.5h0M110.1 289.6h0M109.1 290.7h0M111.6 290.6h0M112.8 292.4h0M114.3 292.6h0M115.8 292.8h0M114.3 294.0h0M115.8 295.5h0M115.4 297.0h0M115.0 298.4h0M117.5 296.9h0M119.0 298.5h0M40.3 230.0h0M39.6 232.0h0M38.1 232.3h0M39.1 234.1h0M38.4 236.2h0M37.4 238.1h0M36.0 238.5h0M34.5 239.0h0M37.9 240.2h0M39.2 241.0h0M40.5 241.7h0M37.9 242.4h0M39.2 243.2h0M38.0 244.6h0M37.0 245.7h0M36.1 246.9h0M37.9 246.7h0M182.6 231.0h0M93.3 270.2h0M94.8 269.9h0M135.9 269.2h0M137.7 268.0h0M139.2 268.3h0M140.7 268.5h0M139.5 266.8h0M164.0 241.2h0M165.6 242.7h0M165.4 244.2h0M166.9 244.5h0M56.2 207.8h0M54.8 208.2h0M53.3 208.6h0M156.2 199.9h0M156.6 202.0h0M154.6 201.2h0M157.6 204.0h0M58.8 202.8h0M57.0 201.7h0M56.9 200.2h0M55.1 200.5h0M53.6 200.8h0M52.2 201.2h0M70.1 275.3h0M69.6 273.9h0M68.2 274.2h0M67.7 272.8h0M133.1 286.7h0M134.0 285.5h0M134.8 284.3h0M132.1 284.8h0M130.6 284.7h0M129.1 284.5h0M182.7 245.5h0M182.3 247.6h0M181.9 249.7h0M182.7 251.0h0M183.5 252.3h0M181.6 251.8h0M181.1 254.0h0M180.6 256.1h0M179.3 256.8h0M178.0 257.5h0M180.2 258.2h0M179.9 260.3h0M178.4 260.8h0M177.0 261.3h0M179.7 262.5h0M178.4 263.3h0M177.1 264.1h0M182.8 255.3h0M184.9 256.0h0M186.2 255.2h0M179.7 264.6h0M179.7 266.8h0M157.9 203.3h0M140.9 291.1h0M142.4 292.7h0M142.0 294.1h0M120.4 182.7h0M120.9 180.6h0M150.7 240.1h0M76.1 246.9h0M152.9 194.3h0M153.7 192.2h0M152.9 190.9h0M152.2 189.6h0M153.4 190.1h0M154.5 189.0h0M155.5 188.0h0M115.6 203.0h0M113.4 203.3h0M112.8 204.6h0M76.9 241.2h0M79.1 241.3h0M156.9 281.9h0M157.3 279.8h0M155.4 278.7h0M153.4 277.9h0M148.5 286.3h0M146.3 286.1h0M145.2 287.1h0M144.1 288.2h0M88.4 284.1h0M88.6 285.6h0M86.9 285.7h0M87.3 287.1h0M87.7 288.5h0M60.3 202.7h0M59.4 201.5h0M58.4 200.3h0M59.0 200.9h0M117.1 214.3h0M115.9 215.0h0M114.6 215.8h0M144.9 277.7h0M145.3 279.1h0M145.6 280.6h0M102.6 188.3h0M104.1 187.9h0M105.5 187.5h0M103.4 186.3h0M128.8 291.3h0M127.5 290.6h0M126.2 289.8h0M126.9 292.4h0M124.8 293.2h0M114.8 182.7h0M114.3 181.3h0M113.8 179.9h0M112.7 182.1h0M111.7 183.2h0M110.6 181.4h0M147.5 261.8h0M148.8 262.5h0M150.1 263.3h0M149.7 261.9h0M150.7 260.8h0M144.6 232.0h0M146.2 230.5h0M147.5 228.7h0M146.9 227.4h0M148.4 226.8h0M147.8 225.4h0M147.2 224.0h0M148.9 224.7h0M149.0 222.5h0M148.0 221.5h0M149.4 220.4h0M148.4 219.2h0M147.4 218.1h0M149.9 218.3h0M150.6 216.2h0M137.5 242.7h0M142.1 188.1h0M141.0 187.1h0M139.8 186.1h0M142.7 186.0h0M141.9 184.7h0M141.1 183.5h0M156.2 266.5h0M156.5 265.1h0M156.9 264.5h0M157.4 262.4h0M158.6 261.6h0M153.6 286.9h0M154.7 287.9h0M153.2 289.0h0M151.8 289.6h0M69.4 236.0h0M70.1 237.3h0M70.9 238.6h0M68.3 237.9h0M167.4 236.2h0M168.8 235.7h0M168.0 234.1h0M167.4 232.8h0M166.7 231.5h0M168.3 232.0h0M167.3 230.9h0M168.9 229.9h0M168.1 228.6h0M167.4 227.3h0M169.6 227.9h0M170.5 225.9h0M171.5 224.0h0M167.4 228.3h0M165.9 226.7h0M166.2 225.2h0M164.4 225.1h0M164.7 223.7h0M172.3 221.9h0M172.7 219.8h0M174.0 219.1h0M175.3 218.3h0M172.8 217.7h0M171.6 216.9h0M170.3 216.1h0M163.0 223.5h0M161.5 223.4h0M160.0 223.3h0M162.3 225.6h0M161.2 224.6h0M160.1 223.5h0M172.9 215.5h0M173.1 213.4h0M172.1 212.2h0M171.1 211.1h0M160.5 226.8h0M160.6 228.3h0M172.9 211.2h0M173.2 209.1h0M172.2 207.9h0M171.2 206.8h0M173.6 206.9h0M158.6 228.0h0M173.9 204.8h0M156.7 229.0h0M172.9 202.9h0M170.8 202.5h0M170.1 201.2h0M154.9 230.2h0M153.4 230.0h0M151.9 229.7h0M168.7 202.0h0M161.3 222.1h0M159.8 220.5h0M160.2 219.1h0M158.2 219.1h0M139.3 291.2h0M62.1 224.3h0M61.6 226.4h0M60.6 228.3h0M61.3 229.6h0M62.1 231.0h0M139.7 254.5h0M141.9 253.9h0M142.6 252.6h0M144.0 253.5h0M152.5 288.1h0M153.8 288.9h0M151.0 289.7h0M151.4 291.2h0M151.8 292.6h0M76.2 192.3h0M77.0 194.3h0M76.3 195.7h0M77.7 196.4h0M78.7 198.3h0M78.2 199.7h0M77.7 201.1h0M79.5 200.3h0M76.5 196.4h0M76.5 198.6h0M76.5 200.8h0M77.6 201.9h0M78.6 202.9h0M104.2 275.3h0M102.2 276.1h0M101.0 275.2h0M99.9 274.3h0M161.5 281.7h0M163.0 281.4h0M125.7 273.9h0M126.2 271.8h0M132.2 288.8h0M132.7 287.4h0M133.2 286.0h0M131.2 286.9h0M136.8 241.1h0M138.2 242.7h0M134.0 283.3h0M133.8 281.8h0M127.1 245.5h0M126.4 243.4h0M127.0 242.1h0M44.2 225.9h0M43.5 223.9h0M44.5 222.7h0M45.4 221.5h0M68.8 223.4h0M95.4 295.8h0M97.5 296.3h0M98.0 297.7h0M98.5 299.1h0M99.6 296.6h0M101.7 297.3h0M103.8 297.7h0M106.0 297.6h0M106.6 296.3h0M107.3 294.9h0M108.2 298.0h0M88.4 282.7h0M89.2 284.0h0M88.9 195.8h0M151.4 194.3h0M151.7 192.8h0M153.2 193.0h0M119.1 264.7h0M117.6 264.8h0M116.0 264.9h0M117.8 263.0h0M116.3 262.6h0M114.9 262.3h0M115.8 262.1h0M116.3 261.4h0M114.8 261.6h0M114.9 259.8h0M113.8 261.4h0M113.2 260.0h0M112.7 258.6h0M111.6 260.9h0M110.4 262.8h0M110.7 264.2h0M111.0 265.7h0M108.9 264.3h0M107.0 265.4h0M117.7 208.2h0M117.5 210.3h0M68.2 276.2h0M66.1 275.9h0M68.4 194.6h0M67.0 194.0h0M68.2 192.5h0M61.8 200.7h0M61.2 199.3h0M82.4 220.4h0M81.3 219.5h0M82.7 218.3h0M81.8 217.1h0M80.9 215.9h0M82.5 216.1h0M83.4 214.9h0M84.3 213.7h0M124.8 206.4h0M113.8 181.5h0M111.7 181.8h0M143.8 233.3h0M142.7 232.4h0M141.6 231.4h0M51.1 227.7h0M51.3 229.2h0M161.6 270.9h0M163.0 271.5h0M162.6 272.8h0M164.2 272.8h0M95.9 249.1h0M114.8 204.5h0M113.7 203.4h0M114.3 206.6h0M107.2 198.9h0M108.9 197.5h0M110.7 196.3h0M112.1 196.7h0M109.2 195.4h0M111.0 194.1h0M110.8 192.7h0M110.7 191.2h0M112.7 192.8h0M112.8 191.3h0M112.6 195.2h0M114.1 195.6h0M115.5 196.1h0M135.4 271.2h0M135.4 269.7h0M137.2 269.9h0M137.2 268.4h0M137.2 266.9h0M105.9 221.5h0M104.4 221.4h0M102.9 221.4h0M98.1 202.8h0M99.1 201.6h0M64.3 276.9h0M62.9 277.5h0M61.5 278.0h0M138.7 244.4h0M139.4 245.8h0M186.6 219.1h0M187.6 221.0h0M189.2 221.2h0M190.7 221.3h0M188.6 223.0h0M189.6 224.9h0M191.2 224.9h0M189.5 227.0h0M131.5 294.6h0M130.4 293.6h0M157.4 201.0h0M156.1 201.9h0M156.5 203.0h0M157.5 204.2h0M141.3 255.5h0M141.7 254.0h0M142.2 252.6h0M143.4 254.9h0M144.6 255.9h0M145.8 256.8h0M101.0 194.5h0M100.0 195.6h0M99.1 196.8h0M98.8 194.0h0M48.7 207.3h0M126.1 261.0h0M127.2 262.0h0M128.2 263.1h0M66.8 276.0h0M65.7 274.1h0M66.1 272.7h0M94.0 228.7h0M95.3 228.0h0M95.7 230.1h0M97.6 231.2h0M135.3 264.4h0M156.9 240.8h0M182.8 232.8h0M184.3 232.7h0M185.8 232.7h0M93.9 259.0h0M91.8 259.6h0M91.4 261.1h0M89.6 260.1h0M89.2 261.6h0M88.7 263.0h0M87.5 260.5h0M86.7 261.8h0M85.4 261.1h0M84.3 260.0h0M130.2 293.3h0M128.9 292.4h0M127.7 291.6h0M128.1 293.9h0M127.3 295.1h0M173.8 271.5h0M174.6 272.8h0M175.5 274.0h0M134.9 272.5h0M136.4 272.2h0M137.9 271.9h0M103.6 190.5h0M103.4 189.0h0M105.1 188.9h0M106.2 187.1h0M99.4 186.9h0M67.8 212.3h0M69.3 212.0h0M69.0 210.5h0M70.5 210.5h0M72.0 210.6h0M89.3 286.4h0M89.3 287.9h0M89.4 289.4h0M87.8 288.1h0M85.7 287.5h0M115.8 274.6h0M117.3 274.8h0M118.8 275.1h0M86.8 218.8h0M127.7 214.6h0M129.0 216.4h0M128.6 217.8h0M128.3 219.3h0M190.3 234.2h0M98.6 261.7h0M99.9 263.5h0M69.5 211.4h0M70.9 210.9h0M75.0 191.4h0M75.9 190.2h0M76.8 189.0h0M142.8 256.1h0M144.2 256.6h0M145.6 257.1h0M124.1 277.7h0M125.3 279.5h0M125.3 281.7h0M126.4 282.7h0M132.3 266.8h0M73.7 263.2h0M72.6 262.1h0M71.5 261.1h0M93.9 203.0h0M94.9 204.1h0M163.2 271.9h0M155.4 241.0h0M140.3 244.3h0M77.7 252.1h0M89.2 189.4h0M91.0 188.2h0M118.2 183.4h0M118.5 181.3h0M123.6 244.1h0M123.5 242.0h0M122.1 241.4h0M120.8 240.7h0M101.5 238.4h0M100.8 239.7h0M100.1 241.0h0M42.2 225.6h0M41.4 223.6h0M97.8 274.5h0M161.2 198.9h0M161.0 197.4h0M129.7 197.8h0M131.1 198.5h0M91.1 245.6h0M89.0 245.0h0M86.9 244.6h0M85.7 245.6h0M99.7 262.6h0M100.5 261.4h0M101.3 260.2h0M161.4 237.6h0M166.4 240.3h0M168.2 241.5h0M143.7 273.5h0M142.3 273.0h0M140.9 272.4h0M111.3 239.3h0M95.7 226.7h0M97.7 227.4h0M98.9 226.4h0M117.9 245.8h0M106.8 275.2h0M159.0 198.7h0M160.9 197.6h0M160.8 196.1h0M160.8 194.6h0M81.3 249.4h0M82.8 250.9h0M84.3 250.6h0M85.8 250.3h0M84.6 252.1h0M86.1 251.8h0M87.6 251.4h0M86.6 253.1h0M88.1 252.6h0M172.7 273.6h0M171.8 272.4h0M173.1 271.5h0M172.2 270.3h0M126.0 228.8h0M126.5 230.2h0M126.9 231.6h0M124.6 227.1h0M122.6 260.8h0M123.4 259.5h0M124.1 258.2h0M120.5 262.8h0M174.4 272.5h0M173.6 271.2h0M172.7 270.0h0M182.5 219.2h0M181.3 217.5h0M127.7 211.1h0M121.5 181.4h0M122.6 180.5h0M123.8 179.5h0M96.0 209.4h0M94.7 208.5h0M93.4 207.7h0M107.5 230.8h0M74.3 277.3h0M74.4 279.5h0M74.3 281.7h0M74.6 283.8h0M75.9 284.4h0M74.6 286.0h0M74.5 288.1h0M75.6 289.2h0M76.6 290.3h0M74.1 290.2h0M102.1 271.0h0M101.2 269.8h0M100.4 268.5h0M72.2 241.5h0M72.7 242.9h0M74.5 261.4h0M73.6 262.6h0M72.8 263.8h0M72.3 261.0h0M71.6 259.7h0M70.9 258.4h0M87.4 193.8h0M85.9 193.7h0M84.4 193.7h0M86.0 195.5h0M86.5 196.9h0M75.8 276.5h0M107.8 226.4h0M134.0 237.6h0M133.1 238.9h0M131.8 237.3h0M130.5 238.0h0M129.2 238.8h0M129.7 237.0h0M84.0 190.8h0M149.0 263.2h0M150.3 263.9h0M144.8 272.2h0M66.3 213.2h0M66.1 211.8h0M65.9 210.3h0M67.8 211.7h0M69.3 211.9h0M70.8 212.0h0M69.2 210.0h0M69.0 193.3h0M144.6 234.9h0M143.2 234.3h0M181.4 221.1h0M179.8 221.1h0M178.3 221.1h0M179.9 219.5h0M90.1 290.5h0M110.0 276.6h0M108.8 277.5h0M107.5 278.4h0M137.8 225.3h0M136.8 224.2h0M135.8 223.1h0M102.8 186.5h0M121.9 278.1h0M123.5 279.6h0M74.9 245.1h0M73.4 245.2h0M71.9 245.2h0M113.4 239.6h0M112.0 239.1h0M110.5 238.6h0M139.8 281.6h0M91.8 273.8h0M91.6 275.3h0M50.4 223.2h0M58.1 224.4h0M58.1 225.9h0M67.2 195.9h0M66.0 195.2h0M64.7 194.4h0M67.5 193.8h0M159.2 272.6h0M160.1 273.8h0M160.9 275.1h0M67.4 199.9h0M68.7 198.1h0M170.0 236.1h0M169.4 234.8h0M168.8 233.4h0M129.2 245.9h0M127.7 245.5h0M129.7 193.3h0M127.9 192.1h0M159.4 270.7h0M160.4 272.7h0M161.8 273.1h0M161.9 274.2h0M163.4 273.8h0M94.7 291.2h0M95.5 292.5h0M96.0 289.4h0M97.6 288.0h0M99.1 286.4h0M101.0 285.2h0M89.3 189.8h0M90.6 190.6h0M91.9 191.4h0M91.4 189.1h0M77.2 228.8h0M76.2 229.9h0M132.1 288.9h0M132.8 287.5h0M133.4 286.2h0M130.6 287.3h0M131.1 285.9h0M131.5 284.5h0M123.9 264.5h0M125.1 265.4h0M126.3 266.3h0M90.0 290.5h0M93.9 289.7h0M94.3 291.1h0M94.6 292.6h0M138.8 201.0h0M139.7 202.2h0M141.0 200.9h0M76.7 284.3h0M77.5 285.5h0M78.8 283.8h0M48.9 224.6h0M67.0 209.6h0M115.0 180.6h0M116.1 179.6h0M117.3 178.6h0M137.8 225.3h0M141.0 259.6h0M139.6 260.3h0M160.6 218.5h0M159.7 217.3h0M158.9 216.0h0M161.3 216.5h0M162.7 216.0h0M164.1 215.4h0M161.5 214.3h0M160.3 213.4h0M161.0 212.2h0M162.9 211.1h0M164.8 209.9h0M166.1 210.6h0M167.5 211.3h0M96.9 201.3h0M86.7 262.5h0M87.6 263.7h0M88.5 264.9h0M86.2 264.6h0M125.2 262.9h0M126.3 264.0h0M88.9 227.8h0M179.2 229.7h0M177.0 230.1h0M175.9 229.1h0M126.4 229.0h0M158.1 285.1h0M102.4 236.6h0M101.2 235.7h0M102.3 238.7h0M103.4 239.7h0M41.4 223.7h0M40.2 224.6h0M39.1 225.6h0M62.4 244.9h0M62.2 247.0h0M61.0 247.9h0M116.5 182.0h0M157.9 266.7h0M159.0 264.8h0M128.8 291.2h0M126.6 291.4h0M124.4 291.8h0M123.8 293.2h0M151.7 192.4h0M150.2 192.2h0M95.9 227.7h0M97.7 226.5h0M150.7 221.1h0M152.2 221.3h0M153.7 221.4h0M64.1 246.4h0M64.9 247.6h0M65.7 248.9h0M63.7 248.5h0M114.2 237.6h0M115.1 235.7h0M73.7 263.5h0M73.0 264.9h0M131.2 235.2h0M157.6 203.2h0M158.2 204.6h0M158.7 205.9h0M78.8 227.5h0M92.7 201.3h0M97.7 274.5h0M171.2 214.1h0M105.3 252.0h0M103.8 251.8h0M103.8 250.5h0M104.2 249.0h0M104.6 247.6h0M162.2 225.4h0M161.0 224.5h0M160.1 224.9h0M158.8 225.7h0M157.6 226.5h0M131.9 190.4h0M130.6 188.7h0M99.7 263.1h0M62.1 224.3h0M63.6 224.5h0M136.8 291.9h0M138.3 293.5h0M138.0 295.0h0M137.8 296.4h0M102.7 253.2h0M132.9 250.3h0M171.1 277.0h0M171.6 274.9h0M173.0 274.5h0M174.5 274.1h0M81.6 251.5h0M82.7 252.5h0M83.9 253.5h0M52.3 233.9h0M51.1 234.9h0M52.1 236.1h0M50.6 237.6h0M48.6 238.5h0M46.7 239.5h0M46.1 241.6h0M46.7 243.0h0M45.2 243.6h0M46.1 245.6h0M47.0 247.6h0M46.4 248.9h0M45.8 250.3h0M49.2 247.5h0M48.1 249.4h0M47.8 250.9h0M47.4 252.3h0M49.0 251.4h0M50.5 251.6h0M52.1 251.7h0M51.3 248.1h0M49.7 253.5h0M53.5 248.1h0M54.5 249.2h0M55.6 250.3h0M50.2 255.5h0M49.2 256.7h0M48.2 257.8h0M51.1 257.5h0M50.2 258.7h0M52.2 259.4h0M52.9 261.5h0M54.2 262.1h0M53.1 263.6h0M52.0 264.6h0M50.9 265.7h0M53.8 265.7h0M55.3 266.1h0M54.5 267.7h0M56.0 268.0h0M57.5 268.2h0M54.9 269.8h0M55.1 272.0h0M56.5 272.6h0M57.9 273.2h0M55.6 274.1h0M54.8 275.3h0M183.9 215.1h0M93.9 270.5h0M93.7 269.0h0M166.3 231.1h0M165.9 229.6h0M165.6 228.2h0M105.9 196.4h0M141.3 188.0h0M142.5 187.0h0M141.7 185.9h0M140.7 184.7h0M132.7 235.9h0M131.2 235.7h0M123.9 259.0h0M162.1 241.1h0M162.0 242.6h0M163.5 242.7h0M87.3 285.5h0M85.9 286.1h0M159.1 198.9h0M161.1 198.0h0M75.4 245.3h0M74.1 246.0h0M72.8 246.8h0M126.2 277.6h0M127.2 279.5h0M155.6 200.3h0M115.0 205.3h0M100.1 192.4h0M99.5 193.8h0M98.0 192.6h0M97.3 194.0h0M96.6 195.3h0M93.3 261.1h0M91.9 261.8h0M146.0 261.0h0M148.2 261.0h0M85.7 287.4h0M85.1 286.0h0M84.5 284.6h0M113.1 289.4h0M115.3 289.7h0M116.2 290.8h0M117.0 288.3h0M118.7 287.0h0M64.5 276.8h0M113.7 291.3h0M115.0 290.6h0M116.4 289.9h0M139.3 246.5h0M149.4 247.7h0M148.5 248.9h0M147.6 250.1h0M125.8 243.3h0M72.2 241.5h0M175.7 206.4h0M176.0 204.9h0M176.3 203.4h0M90.6 198.9h0M89.1 198.9h0M87.6 198.8h0M101.3 295.1h0M102.7 295.5h0M103.2 294.1h0M103.3 292.6h0M103.3 291.1h0M113.8 181.5h0M112.8 180.5h0M111.7 179.4h0M111.6 181.5h0M110.7 180.3h0M184.9 242.1h0M140.4 219.6h0M141.9 219.7h0M141.9 218.0h0M90.4 243.5h0M60.5 201.9h0M58.7 200.6h0M110.4 243.1h0M108.9 243.3h0M109.2 244.9h0M124.3 277.5h0M126.0 278.9h0M127.5 278.7h0M129.0 278.5h0M125.8 281.0h0M124.5 281.8h0M123.2 282.5h0M127.6 277.4h0M153.6 279.8h0M153.5 281.3h0M153.4 282.8h0M124.2 281.4h0M150.5 265.1h0M95.1 204.7h0M81.8 251.2h0M82.7 252.3h0M83.7 253.5h0M82.6 223.8h0M83.6 224.9h0M84.6 226.0h0M82.6 208.7h0M81.2 209.3h0M79.7 209.8h0M80.4 209.0h0M78.2 209.0h0M81.6 207.2h0M115.2 235.5h0M168.1 260.0h0M165.9 260.0h0M169.5 235.7h0M86.8 187.7h0M88.4 186.3h0M90.1 184.9h0M91.6 185.0h0M93.1 185.1h0M140.7 246.3h0M142.2 246.1h0M143.7 245.9h0M164.8 236.6h0M163.6 235.7h0M137.6 242.7h0M180.4 218.9h0M158.7 230.2h0M120.1 262.8h0M111.6 237.4h0M89.7 187.3h0M91.0 186.5h0M92.3 185.7h0M112.9 183.5h0M95.9 228.8h0M97.3 229.4h0M98.7 230.0h0M182.1 259.3h0M183.4 258.7h0M184.8 258.1h0M184.1 260.0h0M184.5 261.4h0M37.5 232.8h0M36.2 232.1h0M34.8 231.4h0M75.6 260.2h0M74.3 259.5h0M73.0 258.7h0M73.6 261.1h0M71.6 261.9h0M71.4 263.4h0M71.2 264.8h0M89.4 262.3h0M103.1 186.9h0M118.8 249.9h0M118.3 251.3h0M117.7 252.7h0M119.6 251.9h0M121.1 252.3h0M167.7 226.2h0M169.1 225.7h0M107.4 199.2h0M100.0 189.2h0M98.7 188.5h0M97.3 187.9h0M66.7 233.1h0M66.1 234.5h0M64.9 234.3h0M64.6 235.8h0M179.0 232.1h0M178.6 233.5h0M95.7 250.8h0M95.0 249.4h0M96.0 209.5h0M94.7 208.8h0M108.1 276.0h0M109.3 276.8h0M110.6 277.7h0M171.0 272.2h0M170.9 270.7h0M170.7 269.3h0M134.0 236.9h0M131.8 236.5h0M129.8 235.7h0M129.8 235.8h0M159.6 196.6h0M158.9 195.3h0M158.6 202.9h0M160.0 202.3h0M117.0 210.2h0M118.6 210.3h0M118.4 211.9h0M119.9 212.1h0M121.4 212.3h0M127.6 217.0h0M129.4 218.3h0M130.1 220.4h0M101.4 237.5h0M100.7 236.2h0M99.9 234.9h0M100.6 240.3h0M99.3 239.5h0M98.0 238.8h0M117.0 210.2h0M76.4 280.4h0M65.6 247.9h0M64.3 248.8h0M63.1 249.6h0M65.4 250.1h0M177.6 263.3h0M176.3 262.5h0M138.6 226.9h0M137.5 225.0h0M121.6 243.2h0M121.4 241.7h0M91.6 281.2h0M93.7 281.5h0M164.0 241.3h0M163.4 242.6h0M162.9 244.0h0M165.4 242.9h0M164.9 244.4h0M166.8 244.5h0M115.9 251.1h0M114.6 251.9h0M113.9 252.1h0M146.2 209.7h0M127.6 214.8h0M127.9 216.3h0M128.6 216.7h0M161.2 223.7h0M159.7 223.6h0M158.2 223.5h0M165.7 242.3h0M164.3 243.0h0M163.0 243.6h0M118.3 246.2h0M108.3 263.1h0M78.2 191.8h0M151.0 224.1h0M104.1 275.3h0M105.5 275.8h0M107.0 276.3h0M117.3 211.9h0M117.2 213.4h0M117.0 214.9h0M133.4 285.3h0M131.9 285.4h0M70.0 212.2h0M70.9 213.4h0M71.8 214.6h0M146.0 275.8h0M147.5 275.8h0M147.1 273.9h0M146.9 272.5h0M146.6 271.0h0M132.2 266.9h0M170.9 216.7h0M168.9 215.9h0M104.0 187.0h0M104.9 185.8h0M105.7 184.5h0M169.1 203.8h0M61.1 226.2h0M59.4 227.6h0M57.9 227.4h0M163.8 221.5h0M162.9 220.3h0M161.4 199.4h0M162.7 200.2h0M164.0 201.0h0M133.6 191.6h0M132.6 190.6h0M131.5 189.5h0M96.4 206.3h0M95.7 208.3h0M94.3 208.9h0M94.5 210.1h0M161.8 281.8h0M161.3 280.4h0M66.4 276.4h0M64.8 274.9h0M102.8 188.4h0M102.4 187.0h0M101.9 185.5h0M103.8 186.5h0M105.3 186.2h0M38.2 230.6h0M37.9 232.1h0M37.6 233.6h0M150.5 289.3h0M160.4 267.8h0M121.3 181.4h0M122.2 180.2h0M131.6 294.9h0M130.3 294.1h0M71.2 239.5h0M106.0 221.4h0M45.3 224.0h0M46.7 223.6h0M48.2 223.1h0M173.7 272.5h0M159.1 270.8h0M160.4 271.7h0M161.6 272.6h0M159.8 272.9h0M161.8 273.8h0M163.0 272.9h0M164.3 272.1h0M115.6 202.9h0M113.6 203.8h0M113.0 205.2h0M112.5 206.6h0M66.4 249.6h0M163.9 227.5h0M182.5 257.2h0M184.4 258.3h0M68.7 223.5h0M91.4 261.7h0M90.0 262.2h0M90.2 263.6h0M90.7 265.0h0M91.2 266.4h0M78.1 197.9h0M79.7 199.4h0M173.0 273.7h0M174.2 271.9h0M68.4 275.9h0M67.0 276.6h0M66.6 274.6h0M64.9 273.3h0M63.4 273.4h0M85.2 193.9h0M84.5 190.6h0M86.0 190.8h0M87.5 191.0h0M179.9 226.0h0M178.0 227.2h0M90.0 288.4h0M88.4 290.0h0M86.9 289.8h0M85.4 289.6h0M113.7 274.0h0M115.1 274.6h0M116.5 275.2h0M171.4 218.1h0M169.9 216.5h0M170.3 215.0h0M170.7 213.6h0M51.2 228.4h0M51.7 227.0h0M52.3 225.6h0M152.6 283.3h0M152.8 281.8h0M115.7 297.7h0M114.5 298.7h0M113.4 299.7h0M57.0 201.9h0M55.8 201.0h0M70.7 237.8h0M69.3 238.4h0M68.5 237.8h0M186.7 243.1h0M186.8 241.6h0M186.8 240.1h0M155.2 269.9h0M154.4 271.1h0M153.5 272.4h0M157.1 196.3h0M157.1 194.8h0M154.7 201.5h0M67.9 274.0h0M69.0 273.0h0M70.0 271.9h0M68.0 271.9h0M139.4 291.1h0M91.9 229.6h0M91.6 228.2h0M91.4 226.7h0M56.0 207.7h0M67.2 195.9h0M68.5 195.1h0M67.6 193.8h0M128.0 219.0h0M183.3 241.6h0M184.1 240.3h0M132.7 290.4h0M134.0 289.6h0M157.6 201.0h0M157.3 203.2h0M73.6 263.3h0M72.2 263.7h0M70.7 264.1h0M64.7 276.4h0M70.5 237.9h0M168.4 239.9h0M168.4 241.4h0M168.4 242.9h0M132.3 185.7h0M132.7 184.3h0M133.1 182.8h0M133.1 183.7h0M105.9 187.4h0M107.2 188.2h0M108.4 189.1h0M69.6 193.0h0M111.9 242.5h0M110.7 241.6h0M109.8 243.3h0M108.6 245.1h0M149.0 263.4h0M150.0 261.5h0M151.5 261.2h0M153.0 260.8h0M60.6 206.1h0M133.0 264.7h0M133.3 262.6h0M132.2 261.5h0M131.1 260.5h0M119.3 274.5h0M120.8 274.5h0M122.3 274.5h0M61.3 243.4h0M62.2 244.6h0M63.2 245.8h0M69.7 273.2h0M90.8 241.4h0M79.2 244.4h0M79.7 242.3h0M81.0 241.6h0M82.3 240.8h0M89.0 286.2h0M87.5 287.7h0M87.4 289.2h0M87.4 290.7h0M57.2 203.4h0M57.6 201.9h0M57.9 200.4h0M55.4 202.1h0M183.4 217.2h0M181.8 215.7h0M180.3 215.7h0M178.8 215.7h0M159.0 281.9h0M112.3 193.1h0M41.7 225.8h0M40.1 224.4h0M40.5 222.9h0M80.9 218.9h0M81.1 217.4h0M81.4 215.9h0M80.3 216.8h0M170.6 254.0h0M169.4 254.8h0M168.5 253.4h0M166.5 252.7h0M164.7 251.4h0M128.0 198.8h0M129.2 199.7h0M113.2 259.3h0M116.2 272.5h0M117.9 275.0h0M120.2 247.1h0M120.8 249.2h0M135.7 205.3h0M135.3 203.9h0M134.8 202.4h0M140.3 209.6h0M142.2 210.8h0M76.9 241.5h0M79.1 241.1h0M152.7 288.1h0M153.9 288.9h0M155.2 289.8h0M69.3 211.4h0M70.7 210.7h0M72.0 210.0h0M115.3 230.8h0M113.8 230.3h0M70.4 274.9h0M70.2 273.4h0M70.0 271.9h0M69.0 273.2h0M126.1 276.8h0M127.5 277.5h0M168.8 257.9h0M168.0 256.7h0M49.0 229.1h0M169.7 256.3h0M168.9 257.6h0M168.2 259.0h0M141.0 291.1h0M142.4 292.8h0M141.8 294.1h0M158.6 272.3h0M158.8 273.8h0M128.3 292.1h0M127.0 292.8h0M109.6 279.6h0M109.6 281.0h0M109.7 282.5h0M39.1 239.6h0M98.6 263.9h0M99.8 264.8h0M101.0 265.7h0M155.3 201.7h0M154.7 203.1h0M154.0 204.4h0M156.4 242.9h0M98.6 261.8h0M99.1 263.9h0M98.3 265.2h0M115.5 185.8h0M114.2 184.9h0M113.0 184.1h0M113.3 185.4h0M112.2 186.4h0M111.1 187.5h0M73.4 263.0h0M74.7 263.7h0M108.7 285.9h0M107.2 285.9h0M105.6 285.9h0M109.4 287.9h0M108.7 289.3h0M108.1 290.6h0M178.0 242.4h0M177.0 243.5h0M176.0 244.6h0M101.4 240.5h0M101.1 242.7h0M91.7 294.9h0M115.2 273.9h0M115.7 263.2h0M114.8 262.0h0M161.8 220.0h0M76.0 289.7h0M77.9 290.7h0M79.5 292.2h0M81.0 291.8h0M82.5 291.4h0M77.5 263.3h0M79.0 263.5h0M139.0 244.6h0M137.6 245.1h0M140.8 246.0h0M142.3 245.8h0M143.8 245.6h0M144.8 232.2h0M147.0 231.9h0M148.0 233.0h0M149.0 234.1h0M102.5 271.3h0M78.2 250.7h0M170.3 236.3h0M123.9 277.2h0M124.6 275.9h0M121.7 278.3h0M121.2 279.7h0M120.8 281.1h0M122.9 280.1h0M122.3 281.4h0M126.4 248.9h0M124.9 248.7h0M99.3 193.0h0M99.5 191.5h0M99.7 190.1h0M152.9 243.9h0M152.5 245.3h0M152.1 246.8h0M133.1 235.5h0M131.1 236.2h0M143.2 187.0h0M141.8 186.4h0M173.5 274.1h0M174.9 272.4h0M72.9 287.3h0M71.5 289.0h0M97.9 229.7h0M72.2 274.1h0M72.0 272.6h0M79.5 231.6h0M80.9 230.9h0M81.5 232.3h0M82.2 233.6h0M82.8 235.0h0M107.6 230.7h0M114.8 182.9h0M114.3 181.5h0M113.8 180.1h0M112.6 182.9h0M139.8 281.5h0M151.8 198.1h0M150.7 199.1h0M54.1 208.3h0M53.4 209.6h0M52.7 210.9h0M172.6 203.1h0M171.1 203.3h0M169.6 203.6h0M171.4 201.3h0M65.7 211.2h0M66.8 210.1h0M132.0 188.1h0M137.5 211.3h0M137.2 209.8h0M136.9 208.4h0M114.0 263.2h0M113.8 264.7h0M113.6 266.2h0M64.6 197.3h0M63.6 195.4h0M170.2 233.8h0M171.1 232.5h0M116.6 270.6h0M115.1 270.7h0M113.6 270.8h0M160.4 272.7h0M158.9 272.9h0M106.4 275.4h0M75.0 191.9h0M136.8 209.5h0M136.5 208.0h0M92.3 282.9h0M150.9 289.6h0M149.4 289.6h0M150.9 240.0h0M149.6 240.8h0M148.3 241.6h0M144.6 209.1h0M144.6 210.6h0M144.5 212.1h0M146.7 209.8h0M147.0 211.2h0M147.4 212.7h0M101.0 194.5h0M141.3 255.6h0M142.6 256.5h0M143.8 257.4h0M143.5 255.5h0M137.7 278.9h0M137.8 277.4h0M154.0 199.2h0M154.3 201.3h0M43.6 229.6h0M40.1 225.1h0M38.8 225.8h0M37.5 226.6h0M157.3 241.2h0M155.8 241.3h0M154.3 241.5h0M87.6 207.4h0M123.7 244.1h0M122.4 243.3h0M121.2 242.4h0M123.6 242.0h0M124.9 241.2h0M126.2 240.5h0M147.6 262.0h0M148.2 260.6h0M148.8 259.2h0M149.6 261.3h0M138.5 242.4h0M138.7 243.9h0M138.9 245.3h0M133.2 286.7h0M132.5 284.7h0M101.9 196.1h0M101.0 194.8h0M101.6 186.4h0M127.3 294.5h0M48.7 207.3h0M47.3 206.5h0M46.0 205.8h0M126.1 260.6h0M146.8 232.3h0M177.9 261.2h0M177.3 262.6h0M176.7 263.9h0M108.9 287.8h0M107.5 287.4h0M106.0 286.9h0M57.7 224.7h0M93.9 273.1h0M68.7 198.1h0M103.2 188.4h0M101.9 187.6h0M100.6 186.7h0M102.6 186.3h0M106.3 277.6h0M140.6 243.7h0M129.1 245.9h0M127.7 245.5h0M68.9 194.6h0M68.6 192.5h0M69.8 191.5h0M70.9 190.5h0M134.2 283.1h0M134.3 281.6h0M134.4 280.1h0M103.3 295.8h0M102.9 294.4h0M105.1 294.7h0M106.5 295.5h0M107.8 296.2h0" stroke="#ffe10a" stroke-width="2.20" stroke-linecap="round" fill="none"/>
<path d="M79.6 194.8h0M75.4 194.8h0M61.7 193.9h0M90.7 197.3h0M99.3 195.6h0M113.8 193.1h0M111.2 199.9h0M113.8 204.2h0M53.2 207.6h0M48.1 211.0h0M43.8 214.4h0M60.0 220.0h0M85.6 211.8h0M112.9 214.4h0M112.1 217.0h0M66.8 226.3h0M89.9 227.2h0M103.5 226.3h0M51.5 237.4h0M70.2 235.7h0M118.4 188.8h0M121.0 189.7h0M122.7 192.2h0M123.5 188.8h0M119.3 193.1h0M121.8 195.6h0M126.9 194.8h0M129.5 196.5h0M131.2 198.2h0M132.9 196.5h0M134.6 199.9h0M136.3 201.6h0M132.1 202.5h0M128.7 202.5h0M138.9 199.9h0M140.6 186.2h0M142.3 188.8h0M144.0 192.2h0M146.6 193.1h0M149.1 190.5h0M152.5 192.2h0M155.1 191.4h0M157.7 192.2h0M159.4 194.8h0M161.9 193.1h0M164.5 192.2h0M126.9 207.6h0M124.4 205.9h0M144.9 208.4h0M148.3 207.6h0M150.8 209.3h0M153.4 207.6h0M156.0 208.4h0M158.5 206.7h0M161.1 205.9h0M164.5 207.6h0M151.7 212.7h0M153.4 214.4h0M156.0 211.8h0M155.1 216.1h0M160.2 210.1h0M162.8 214.4h0M144.9 216.1h0M146.6 219.5h0M149.1 218.7h0M150.0 222.1h0M151.7 223.8h0M161.9 227.2h0M167.9 225.5h0M171.3 222.1h0M173.9 218.7h0M186.7 220.4h0M189.2 223.8h0M186.7 227.2h0M185.0 230.6h0M182.4 234.0h0M175.6 232.3h0M176.4 228.0h0M179.0 228.0h0M121.8 222.1h0M127.8 217.0h0M124.4 216.1h0M126.1 223.8h0M121.8 234.0h0M120.1 237.4h0M118.4 241.7h0M138.9 223.8h0M141.5 235.7h0M156.8 235.7h0M160.2 234.0h0M135.5 238.3h0M54.9 248.7h0M72.0 253.8h0M82.2 252.1h0M80.5 257.2h0M83.9 258.1h0M86.5 256.4h0M89.0 258.9h0M92.4 257.2h0M94.1 259.8h0M96.7 250.4h0M99.3 245.3h0M92.4 245.3h0M89.9 263.2h0M85.6 263.2h0M82.2 264.0h0M77.1 261.5h0M73.7 271.7h0M99.3 274.3h0M102.7 273.4h0M106.1 275.1h0M111.2 267.5h0M114.6 268.3h0M104.4 265.7h0M109.5 276.8h0M78.8 282.0h0M82.2 283.7h0M80.5 286.2h0M95.0 288.8h0M108.6 301.6h0M65.1 277.7h0M70.2 241.9h0M132.1 244.4h0M133.8 243.6h0M124.4 247.8h0M126.1 251.2h0M132.1 250.4h0M126.9 252.1h0M137.2 248.7h0M166.2 247.8h0M175.6 244.4h0M178.1 243.6h0M182.4 247.0h0M185.0 247.8h0M190.1 251.2h0M189.2 252.9h0M174.7 258.9h0M166.2 259.8h0M161.1 259.8h0M162.8 257.2h0M154.2 262.3h0M157.7 270.9h0M160.2 272.6h0M156.0 273.4h0M141.5 272.6h0M127.8 267.5h0M131.2 269.2h0M121.8 271.7h0M117.6 277.7h0M121.8 282.0h0M120.1 285.4h0M126.9 282.0h0M132.1 282.0h0M134.6 275.1h0M139.7 281.1h0M142.3 282.0h0M143.2 288.8h0M144.9 290.5h0M146.6 293.0h0M149.1 292.2h0M136.3 297.3h0M130.4 291.3h0M126.9 293.9h0M150.0 289.6h0M151.7 296.5h0M158.5 287.9h0M160.2 291.3h0M165.3 288.8h0M174.7 277.7h0M118.4 287.1h0" stroke="#007020" stroke-width="2.60" stroke-linecap="round" fill="none"/>
<path d="M95.8 188.8h0M94.1 192.2h0M111.2 207.6h0M88.2 205.0h0M76.2 206.7h0M78.8 209.3h0M80.5 210.1h0M56.6 217.0h0M72.8 215.2h0M77.9 217.0h0M111.2 219.5h0M45.5 223.8h0M74.5 225.5h0M80.5 224.6h0M85.6 225.5h0M46.4 229.8h0M66.8 230.6h0M79.6 231.5h0M82.2 232.3h0M58.3 240.0h0M150.8 187.9h0M155.1 189.7h0M139.7 195.6h0M140.6 193.9h0M161.1 197.3h0M163.6 197.3h0M121.0 202.5h0M125.2 202.5h0M121.8 215.2h0M162.8 216.1h0M161.1 218.7h0M156.0 222.9h0M132.1 222.9h0M133.8 222.1h0M121.0 232.3h0M138.0 236.6h0M163.6 221.2h0M167.9 216.1h0M172.2 217.8h0M53.2 249.5h0M71.1 248.7h0M72.8 247.8h0M76.2 252.9h0M52.3 258.1h0M73.7 262.3h0M98.4 255.5h0M99.3 258.1h0M55.7 269.2h0M58.3 272.6h0M57.5 277.7h0M87.3 282.8h0M139.7 244.4h0M139.7 261.5h0M149.1 277.7h0M151.7 287.1h0M132.1 292.2h0M164.5 273.4h0M141.5 282.0h0" stroke="#00bfff" stroke-width="2.30" stroke-linecap="round" fill="none"/>
<path d="M161.1 224.6h0M162.8 226.3h0M164.5 225.5h0M163.6 228.0h0M166.2 228.9h0M167.9 231.5h0M165.3 223.8h0M82.2 261.5h0M89.0 270.0h0M89.9 270.9h0M88.2 271.4h0M164.5 257.2h0M155.1 258.1h0M184.1 263.2h0M149.1 268.3h0" stroke="#ff00ff" stroke-width="2.30" stroke-linecap="round" fill="none"/>
<path d="M106.1 182.8h0M90.7 184.5h0M83.9 188.8h0M91.6 193.1h0M56.6 198.2h0M98.4 204.2h0M87.3 208.4h0M75.4 203.3h0M66.0 205.9h0M101.8 228.0h0M106.1 227.2h0M54.0 239.1h0M113.8 236.6h0M42.9 240.0h0M116.7 208.4h0M131.2 227.2h0M124.4 231.5h0M170.5 221.2h0M42.1 242.7h0M45.5 243.6h0M44.7 248.7h0M58.3 248.7h0M60.9 244.4h0M64.3 247.0h0M67.7 244.4h0M72.0 255.5h0M96.7 278.5h0M103.5 279.4h0M55.7 279.9h0M113.8 255.5h0M90.7 243.6h0M118.4 252.9h0M167.0 247.0h0M172.2 253.8h0M138.9 256.4h0M149.1 260.6h0M150.0 266.6h0M144.0 270.9h0M147.4 281.1h0M146.6 284.5h0M168.8 272.6h0M118.4 292.2h0M120.1 293.9h0M122.7 295.6h0" stroke="#ff1478" stroke-width="2.30" stroke-linecap="round" fill="none"/>
<path d="M108.6 180.3h0M110.4 182.0h0M95.0 186.2h0M80.5 187.9h0M86.5 187.9h0M89.9 189.7h0M77.1 192.2h0M82.2 192.2h0M70.2 196.5h0M101.0 201.6h0M66.8 217.0h0M48.9 232.3h0M57.5 237.4h0M118.4 197.3h0M134.6 190.5h0M185.0 228.0h0M61.7 276.8h0M63.4 279.4h0M100.1 252.9h0M60.0 275.1h0M156.8 266.6h0M135.5 287.9h0" stroke="#9a6a1e" stroke-width="2.30" stroke-linecap="round" fill="none"/>
<rect x="31.50" y="16.00" width="168.00" height="130.50" fill="none" stroke="#a6a6a6" stroke-width="1"/>
<line x1="51.80" y1="146.50" x2="51.80" y2="148.00" stroke="#8a8a8a" stroke-width="0.6"/>
<text x="51.80" y="152.78" font-size="4.7" text-anchor="middle" fill="#1a1a1a" stroke="#1a1a1a" stroke-width="0.06">−0.4</text>
<line x1="30.00" y1="130.50" x2="31.50" y2="130.50" stroke="#8a8a8a" stroke-width="0.6"/>
<text x="28.00" y="132.21" font-size="4.7" text-anchor="end" fill="#1a1a1a" stroke="#1a1a1a" stroke-width="0.06">−0.4</text>
<line x1="83.50" y1="146.50" x2="83.50" y2="148.00" stroke="#8a8a8a" stroke-width="0.6"/>
<text x="83.50" y="152.78" font-size="4.7" text-anchor="middle" fill="#1a1a1a" stroke="#1a1a1a" stroke-width="0.06">−0.2</text>
<line x1="30.00" y1="105.90" x2="31.50" y2="105.90" stroke="#8a8a8a" stroke-width="0.6"/>
<text x="28.00" y="107.61" font-size="4.7" text-anchor="end" fill="#1a1a1a" stroke="#1a1a1a" stroke-width="0.06">−0.2</text>
<line x1="115.20" y1="146.50" x2="115.20" y2="148.00" stroke="#8a8a8a" stroke-width="0.6"/>
<text x="115.20" y="152.78" font-size="4.7" text-anchor="middle" fill="#1a1a1a" stroke="#1a1a1a" stroke-width="0.06">0.0</text>
<line x1="30.00" y1="81.30" x2="31.50" y2="81.30" stroke="#8a8a8a" stroke-width="0.6"/>
<text x="28.00" y="83.01" font-size="4.7" text-anchor="end" fill="#1a1a1a" stroke="#1a1a1a" stroke-width="0.06">0.0</text>
<line x1="146.90" y1="146.50" x2="146.90" y2="148.00" stroke="#8a8a8a" stroke-width="0.6"/>
<text x="146.90" y="152.78" font-size="4.7" text-anchor="middle" fill="#1a1a1a" stroke="#1a1a1a" stroke-width="0.06">0.2</text>
<line x1="30.00" y1="56.70" x2="31.50" y2="56.70" stroke="#8a8a8a" stroke-width="0.6"/>
<text x="28.00" y="58.41" font-size="4.7" text-anchor="end" fill="#1a1a1a" stroke="#1a1a1a" stroke-width="0.06">0.2</text>
<line x1="178.60" y1="146.50" x2="178.60" y2="148.00" stroke="#8a8a8a" stroke-width="0.6"/>
<text x="178.60" y="152.78" font-size="4.7" text-anchor="middle" fill="#1a1a1a" stroke="#1a1a1a" stroke-width="0.06">0.4</text>
<line x1="30.00" y1="32.10" x2="31.50" y2="32.10" stroke="#8a8a8a" stroke-width="0.6"/>
<text x="28.00" y="33.81" font-size="4.7" text-anchor="end" fill="#1a1a1a" stroke="#1a1a1a" stroke-width="0.06">0.4</text>
<rect x="31.50" y="176.00" width="168.00" height="130.00" fill="none" stroke="#a6a6a6" stroke-width="1"/>
<line x1="51.80" y1="306.00" x2="51.80" y2="307.50" stroke="#8a8a8a" stroke-width="0.6"/>
<text x="51.80" y="312.28" font-size="4.7" text-anchor="middle" fill="#1a1a1a" stroke="#1a1a1a" stroke-width="0.06">−0.4</text>
<line x1="30.00" y1="290.40" x2="31.50" y2="290.40" stroke="#8a8a8a" stroke-width="0.6"/>
<text x="28.00" y="292.11" font-size="4.7" text-anchor="end" fill="#1a1a1a" stroke="#1a1a1a" stroke-width="0.06">−0.4</text>
<line x1="83.50" y1="306.00" x2="83.50" y2="307.50" stroke="#8a8a8a" stroke-width="0.6"/>
<text x="83.50" y="312.28" font-size="4.7" text-anchor="middle" fill="#1a1a1a" stroke="#1a1a1a" stroke-width="0.06">−0.2</text>
<line x1="30.00" y1="265.70" x2="31.50" y2="265.70" stroke="#8a8a8a" stroke-width="0.6"/>
<text x="28.00" y="267.41" font-size="4.7" text-anchor="end" fill="#1a1a1a" stroke="#1a1a1a" stroke-width="0.06">−0.2</text>
<line x1="115.20" y1="306.00" x2="115.20" y2="307.50" stroke="#8a8a8a" stroke-width="0.6"/>
<text x="115.20" y="312.28" font-size="4.7" text-anchor="middle" fill="#1a1a1a" stroke="#1a1a1a" stroke-width="0.06">0.0</text>
<line x1="30.00" y1="241.00" x2="31.50" y2="241.00" stroke="#8a8a8a" stroke-width="0.6"/>
<text x="28.00" y="242.71" font-size="4.7" text-anchor="end" fill="#1a1a1a" stroke="#1a1a1a" stroke-width="0.06">0.0</text>
<line x1="146.90" y1="306.00" x2="146.90" y2="307.50" stroke="#8a8a8a" stroke-width="0.6"/>
<text x="146.90" y="312.28" font-size="4.7" text-anchor="middle" fill="#1a1a1a" stroke="#1a1a1a" stroke-width="0.06">0.2</text>
<line x1="30.00" y1="216.30" x2="31.50" y2="216.30" stroke="#8a8a8a" stroke-width="0.6"/>
<text x="28.00" y="218.01" font-size="4.7" text-anchor="end" fill="#1a1a1a" stroke="#1a1a1a" stroke-width="0.06">0.2</text>
<line x1="178.60" y1="306.00" x2="178.60" y2="307.50" stroke="#8a8a8a" stroke-width="0.6"/>
<text x="178.60" y="312.28" font-size="4.7" text-anchor="middle" fill="#1a1a1a" stroke="#1a1a1a" stroke-width="0.06">0.4</text>
<line x1="30.00" y1="191.60" x2="31.50" y2="191.60" stroke="#8a8a8a" stroke-width="0.6"/>
<text x="28.00" y="193.31" font-size="4.7" text-anchor="end" fill="#1a1a1a" stroke="#1a1a1a" stroke-width="0.06">0.4</text>
<rect x="214.50" y="8.00" width="101.00" height="77.00" fill="none" stroke="#a6a6a6" stroke-width="1"/>
<line x1="227.32" y1="85.00" x2="227.32" y2="86.00" stroke="#8a8a8a" stroke-width="0.6"/>
<text x="227.32" y="90.03" font-size="4.15" text-anchor="middle" fill="#1a1a1a" stroke="#1a1a1a" stroke-width="0.06">−0.4</text>
<line x1="213.50" y1="75.60" x2="214.50" y2="75.60" stroke="#8a8a8a" stroke-width="0.6"/>
<text x="212.90" y="77.11" font-size="4.15" text-anchor="end" fill="#1a1a1a" stroke="#1a1a1a" stroke-width="0.06">−0.4</text>
<line x1="246.16" y1="85.00" x2="246.16" y2="86.00" stroke="#8a8a8a" stroke-width="0.6"/>
<text x="246.16" y="90.03" font-size="4.15" text-anchor="middle" fill="#1a1a1a" stroke="#1a1a1a" stroke-width="0.06">−0.2</text>
<line x1="213.50" y1="60.85" x2="214.50" y2="60.85" stroke="#8a8a8a" stroke-width="0.6"/>
<text x="212.90" y="62.36" font-size="4.15" text-anchor="end" fill="#1a1a1a" stroke="#1a1a1a" stroke-width="0.06">−0.2</text>
<line x1="265.00" y1="85.00" x2="265.00" y2="86.00" stroke="#8a8a8a" stroke-width="0.6"/>
<text x="265.00" y="90.03" font-size="4.15" text-anchor="middle" fill="#1a1a1a" stroke="#1a1a1a" stroke-width="0.06">0.0</text>
<line x1="213.50" y1="46.10" x2="214.50" y2="46.10" stroke="#8a8a8a" stroke-width="0.6"/>
<text x="212.90" y="47.61" font-size="4.15" text-anchor="end" fill="#1a1a1a" stroke="#1a1a1a" stroke-width="0.06">0.0</text>
<line x1="283.84" y1="85.00" x2="283.84" y2="86.00" stroke="#8a8a8a" stroke-width="0.6"/>
<text x="283.84" y="90.03" font-size="4.15" text-anchor="middle" fill="#1a1a1a" stroke="#1a1a1a" stroke-width="0.06">0.2</text>
<line x1="213.50" y1="31.35" x2="214.50" y2="31.35" stroke="#8a8a8a" stroke-width="0.6"/>
<text x="212.90" y="32.86" font-size="4.15" text-anchor="end" fill="#1a1a1a" stroke="#1a1a1a" stroke-width="0.06">0.2</text>
<line x1="302.68" y1="85.00" x2="302.68" y2="86.00" stroke="#8a8a8a" stroke-width="0.6"/>
<text x="302.68" y="90.03" font-size="4.15" text-anchor="middle" fill="#1a1a1a" stroke="#1a1a1a" stroke-width="0.06">0.4</text>
<line x1="213.50" y1="16.60" x2="214.50" y2="16.60" stroke="#8a8a8a" stroke-width="0.6"/>
<text x="212.90" y="18.11" font-size="4.15" text-anchor="end" fill="#1a1a1a" stroke="#1a1a1a" stroke-width="0.06">0.4</text>
<rect x="329.50" y="8.00" width="101.00" height="77.00" fill="none" stroke="#a6a6a6" stroke-width="1"/>
<line x1="342.52" y1="85.00" x2="342.52" y2="86.00" stroke="#8a8a8a" stroke-width="0.6"/>
<text x="342.52" y="90.03" font-size="4.15" text-anchor="middle" fill="#1a1a1a" stroke="#1a1a1a" stroke-width="0.06">−0.4</text>
<line x1="328.50" y1="75.60" x2="329.50" y2="75.60" stroke="#8a8a8a" stroke-width="0.6"/>
<text x="327.90" y="77.11" font-size="4.15" text-anchor="end" fill="#1a1a1a" stroke="#1a1a1a" stroke-width="0.06">−0.4</text>
<line x1="361.36" y1="85.00" x2="361.36" y2="86.00" stroke="#8a8a8a" stroke-width="0.6"/>
<text x="361.36" y="90.03" font-size="4.15" text-anchor="middle" fill="#1a1a1a" stroke="#1a1a1a" stroke-width="0.06">−0.2</text>
<line x1="328.50" y1="60.85" x2="329.50" y2="60.85" stroke="#8a8a8a" stroke-width="0.6"/>
<text x="327.90" y="62.36" font-size="4.15" text-anchor="end" fill="#1a1a1a" stroke="#1a1a1a" stroke-width="0.06">−0.2</text>
<line x1="380.20" y1="85.00" x2="380.20" y2="86.00" stroke="#8a8a8a" stroke-width="0.6"/>
<text x="380.20" y="90.03" font-size="4.15" text-anchor="middle" fill="#1a1a1a" stroke="#1a1a1a" stroke-width="0.06">0.0</text>
<line x1="328.50" y1="46.10" x2="329.50" y2="46.10" stroke="#8a8a8a" stroke-width="0.6"/>
<text x="327.90" y="47.61" font-size="4.15" text-anchor="end" fill="#1a1a1a" stroke="#1a1a1a" stroke-width="0.06">0.0</text>
<line x1="399.04" y1="85.00" x2="399.04" y2="86.00" stroke="#8a8a8a" stroke-width="0.6"/>
<text x="399.04" y="90.03" font-size="4.15" text-anchor="middle" fill="#1a1a1a" stroke="#1a1a1a" stroke-width="0.06">0.2</text>
<line x1="328.50" y1="31.35" x2="329.50" y2="31.35" stroke="#8a8a8a" stroke-width="0.6"/>
<text x="327.90" y="32.86" font-size="4.15" text-anchor="end" fill="#1a1a1a" stroke="#1a1a1a" stroke-width="0.06">0.2</text>
<line x1="417.88" y1="85.00" x2="417.88" y2="86.00" stroke="#8a8a8a" stroke-width="0.6"/>
<text x="417.88" y="90.03" font-size="4.15" text-anchor="middle" fill="#1a1a1a" stroke="#1a1a1a" stroke-width="0.06">0.4</text>
<line x1="328.50" y1="16.60" x2="329.50" y2="16.60" stroke="#8a8a8a" stroke-width="0.6"/>
<text x="327.90" y="18.11" font-size="4.15" text-anchor="end" fill="#1a1a1a" stroke="#1a1a1a" stroke-width="0.06">0.4</text>
<rect x="444.50" y="8.00" width="101.00" height="77.00" fill="none" stroke="#a6a6a6" stroke-width="1"/>
<line x1="457.62" y1="85.00" x2="457.62" y2="86.00" stroke="#8a8a8a" stroke-width="0.6"/>
<text x="457.62" y="90.03" font-size="4.15" text-anchor="middle" fill="#1a1a1a" stroke="#1a1a1a" stroke-width="0.06">−0.4</text>
<line x1="443.50" y1="75.60" x2="444.50" y2="75.60" stroke="#8a8a8a" stroke-width="0.6"/>
<text x="442.90" y="77.11" font-size="4.15" text-anchor="end" fill="#1a1a1a" stroke="#1a1a1a" stroke-width="0.06">−0.4</text>
<line x1="476.46" y1="85.00" x2="476.46" y2="86.00" stroke="#8a8a8a" stroke-width="0.6"/>
<text x="476.46" y="90.03" font-size="4.15" text-anchor="middle" fill="#1a1a1a" stroke="#1a1a1a" stroke-width="0.06">−0.2</text>
<line x1="443.50" y1="60.85" x2="444.50" y2="60.85" stroke="#8a8a8a" stroke-width="0.6"/>
<text x="442.90" y="62.36" font-size="4.15" text-anchor="end" fill="#1a1a1a" stroke="#1a1a1a" stroke-width="0.06">−0.2</text>
<line x1="495.30" y1="85.00" x2="495.30" y2="86.00" stroke="#8a8a8a" stroke-width="0.6"/>
<text x="495.30" y="90.03" font-size="4.15" text-anchor="middle" fill="#1a1a1a" stroke="#1a1a1a" stroke-width="0.06">0.0</text>
<line x1="443.50" y1="46.10" x2="444.50" y2="46.10" stroke="#8a8a8a" stroke-width="0.6"/>
<text x="442.90" y="47.61" font-size="4.15" text-anchor="end" fill="#1a1a1a" stroke="#1a1a1a" stroke-width="0.06">0.0</text>
<line x1="514.14" y1="85.00" x2="514.14" y2="86.00" stroke="#8a8a8a" stroke-width="0.6"/>
<text x="514.14" y="90.03" font-size="4.15" text-anchor="middle" fill="#1a1a1a" stroke="#1a1a1a" stroke-width="0.06">0.2</text>
<line x1="443.50" y1="31.35" x2="444.50" y2="31.35" stroke="#8a8a8a" stroke-width="0.6"/>
<text x="442.90" y="32.86" font-size="4.15" text-anchor="end" fill="#1a1a1a" stroke="#1a1a1a" stroke-width="0.06">0.2</text>
<line x1="532.98" y1="85.00" x2="532.98" y2="86.00" stroke="#8a8a8a" stroke-width="0.6"/>
<text x="532.98" y="90.03" font-size="4.15" text-anchor="middle" fill="#1a1a1a" stroke="#1a1a1a" stroke-width="0.06">0.4</text>
<line x1="443.50" y1="16.60" x2="444.50" y2="16.60" stroke="#8a8a8a" stroke-width="0.6"/>
<text x="442.90" y="18.11" font-size="4.15" text-anchor="end" fill="#1a1a1a" stroke="#1a1a1a" stroke-width="0.06">0.4</text>
<rect x="214.50" y="93.60" width="101.00" height="77.60" fill="none" stroke="#a6a6a6" stroke-width="1"/>
<line x1="227.32" y1="171.20" x2="227.32" y2="172.20" stroke="#8a8a8a" stroke-width="0.6"/>
<text x="227.32" y="176.23" font-size="4.15" text-anchor="middle" fill="#1a1a1a" stroke="#1a1a1a" stroke-width="0.06">−0.4</text>
<line x1="213.50" y1="162.80" x2="214.50" y2="162.80" stroke="#8a8a8a" stroke-width="0.6"/>
<text x="212.90" y="164.31" font-size="4.15" text-anchor="end" fill="#1a1a1a" stroke="#1a1a1a" stroke-width="0.06">−0.4</text>
<line x1="246.16" y1="171.20" x2="246.16" y2="172.20" stroke="#8a8a8a" stroke-width="0.6"/>
<text x="246.16" y="176.23" font-size="4.15" text-anchor="middle" fill="#1a1a1a" stroke="#1a1a1a" stroke-width="0.06">−0.2</text>
<line x1="213.50" y1="147.95" x2="214.50" y2="147.95" stroke="#8a8a8a" stroke-width="0.6"/>
<text x="212.90" y="149.46" font-size="4.15" text-anchor="end" fill="#1a1a1a" stroke="#1a1a1a" stroke-width="0.06">−0.2</text>
<line x1="265.00" y1="171.20" x2="265.00" y2="172.20" stroke="#8a8a8a" stroke-width="0.6"/>
<text x="265.00" y="176.23" font-size="4.15" text-anchor="middle" fill="#1a1a1a" stroke="#1a1a1a" stroke-width="0.06">0.0</text>
<line x1="213.50" y1="133.10" x2="214.50" y2="133.10" stroke="#8a8a8a" stroke-width="0.6"/>
<text x="212.90" y="134.61" font-size="4.15" text-anchor="end" fill="#1a1a1a" stroke="#1a1a1a" stroke-width="0.06">0.0</text>
<line x1="283.84" y1="171.20" x2="283.84" y2="172.20" stroke="#8a8a8a" stroke-width="0.6"/>
<text x="283.84" y="176.23" font-size="4.15" text-anchor="middle" fill="#1a1a1a" stroke="#1a1a1a" stroke-width="0.06">0.2</text>
<line x1="213.50" y1="118.25" x2="214.50" y2="118.25" stroke="#8a8a8a" stroke-width="0.6"/>
<text x="212.90" y="119.76" font-size="4.15" text-anchor="end" fill="#1a1a1a" stroke="#1a1a1a" stroke-width="0.06">0.2</text>
<line x1="302.68" y1="171.20" x2="302.68" y2="172.20" stroke="#8a8a8a" stroke-width="0.6"/>
<text x="302.68" y="176.23" font-size="4.15" text-anchor="middle" fill="#1a1a1a" stroke="#1a1a1a" stroke-width="0.06">0.4</text>
<line x1="213.50" y1="103.40" x2="214.50" y2="103.40" stroke="#8a8a8a" stroke-width="0.6"/>
<text x="212.90" y="104.91" font-size="4.15" text-anchor="end" fill="#1a1a1a" stroke="#1a1a1a" stroke-width="0.06">0.4</text>
<rect x="329.50" y="93.60" width="101.00" height="77.60" fill="none" stroke="#a6a6a6" stroke-width="1"/>
<line x1="342.52" y1="171.20" x2="342.52" y2="172.20" stroke="#8a8a8a" stroke-width="0.6"/>
<text x="342.52" y="176.23" font-size="4.15" text-anchor="middle" fill="#1a1a1a" stroke="#1a1a1a" stroke-width="0.06">−0.4</text>
<line x1="328.50" y1="162.80" x2="329.50" y2="162.80" stroke="#8a8a8a" stroke-width="0.6"/>
<text x="327.90" y="164.31" font-size="4.15" text-anchor="end" fill="#1a1a1a" stroke="#1a1a1a" stroke-width="0.06">−0.4</text>
<line x1="361.36" y1="171.20" x2="361.36" y2="172.20" stroke="#8a8a8a" stroke-width="0.6"/>
<text x="361.36" y="176.23" font-size="4.15" text-anchor="middle" fill="#1a1a1a" stroke="#1a1a1a" stroke-width="0.06">−0.2</text>
<line x1="328.50" y1="147.95" x2="329.50" y2="147.95" stroke="#8a8a8a" stroke-width="0.6"/>
<text x="327.90" y="149.46" font-size="4.15" text-anchor="end" fill="#1a1a1a" stroke="#1a1a1a" stroke-width="0.06">−0.2</text>
<line x1="380.20" y1="171.20" x2="380.20" y2="172.20" stroke="#8a8a8a" stroke-width="0.6"/>
<text x="380.20" y="176.23" font-size="4.15" text-anchor="middle" fill="#1a1a1a" stroke="#1a1a1a" stroke-width="0.06">0.0</text>
<line x1="328.50" y1="133.10" x2="329.50" y2="133.10" stroke="#8a8a8a" stroke-width="0.6"/>
<text x="327.90" y="134.61" font-size="4.15" text-anchor="end" fill="#1a1a1a" stroke="#1a1a1a" stroke-width="0.06">0.0</text>
<line x1="399.04" y1="171.20" x2="399.04" y2="172.20" stroke="#8a8a8a" stroke-width="0.6"/>
<text x="399.04" y="176.23" font-size="4.15" text-anchor="middle" fill="#1a1a1a" stroke="#1a1a1a" stroke-width="0.06">0.2</text>
<line x1="328.50" y1="118.25" x2="329.50" y2="118.25" stroke="#8a8a8a" stroke-width="0.6"/>
<text x="327.90" y="119.76" font-size="4.15" text-anchor="end" fill="#1a1a1a" stroke="#1a1a1a" stroke-width="0.06">0.2</text>
<line x1="417.88" y1="171.20" x2="417.88" y2="172.20" stroke="#8a8a8a" stroke-width="0.6"/>
<text x="417.88" y="176.23" font-size="4.15" text-anchor="middle" fill="#1a1a1a" stroke="#1a1a1a" stroke-width="0.06">0.4</text>
<line x1="328.50" y1="103.40" x2="329.50" y2="103.40" stroke="#8a8a8a" stroke-width="0.6"/>
<text x="327.90" y="104.91" font-size="4.15" text-anchor="end" fill="#1a1a1a" stroke="#1a1a1a" stroke-width="0.06">0.4</text>
<rect x="444.50" y="93.60" width="101.00" height="77.60" fill="none" stroke="#a6a6a6" stroke-width="1"/>
<line x1="457.62" y1="171.20" x2="457.62" y2="172.20" stroke="#8a8a8a" stroke-width="0.6"/>
<text x="457.62" y="176.23" font-size="4.15" text-anchor="middle" fill="#1a1a1a" stroke="#1a1a1a" stroke-width="0.06">−0.4</text>
<line x1="443.50" y1="162.80" x2="444.50" y2="162.80" stroke="#8a8a8a" stroke-width="0.6"/>
<text x="442.90" y="164.31" font-size="4.15" text-anchor="end" fill="#1a1a1a" stroke="#1a1a1a" stroke-width="0.06">−0.4</text>
<line x1="476.46" y1="171.20" x2="476.46" y2="172.20" stroke="#8a8a8a" stroke-width="0.6"/>
<text x="476.46" y="176.23" font-size="4.15" text-anchor="middle" fill="#1a1a1a" stroke="#1a1a1a" stroke-width="0.06">−0.2</text>
<line x1="443.50" y1="147.95" x2="444.50" y2="147.95" stroke="#8a8a8a" stroke-width="0.6"/>
<text x="442.90" y="149.46" font-size="4.15" text-anchor="end" fill="#1a1a1a" stroke="#1a1a1a" stroke-width="0.06">−0.2</text>
<line x1="495.30" y1="171.20" x2="495.30" y2="172.20" stroke="#8a8a8a" stroke-width="0.6"/>
<text x="495.30" y="176.23" font-size="4.15" text-anchor="middle" fill="#1a1a1a" stroke="#1a1a1a" stroke-width="0.06">0.0</text>
<line x1="443.50" y1="133.10" x2="444.50" y2="133.10" stroke="#8a8a8a" stroke-width="0.6"/>
<text x="442.90" y="134.61" font-size="4.15" text-anchor="end" fill="#1a1a1a" stroke="#1a1a1a" stroke-width="0.06">0.0</text>
<line x1="514.14" y1="171.20" x2="514.14" y2="172.20" stroke="#8a8a8a" stroke-width="0.6"/>
<text x="514.14" y="176.23" font-size="4.15" text-anchor="middle" fill="#1a1a1a" stroke="#1a1a1a" stroke-width="0.06">0.2</text>
<line x1="443.50" y1="118.25" x2="444.50" y2="118.25" stroke="#8a8a8a" stroke-width="0.6"/>
<text x="442.90" y="119.76" font-size="4.15" text-anchor="end" fill="#1a1a1a" stroke="#1a1a1a" stroke-width="0.06">0.2</text>
<line x1="532.98" y1="171.20" x2="532.98" y2="172.20" stroke="#8a8a8a" stroke-width="0.6"/>
<text x="532.98" y="176.23" font-size="4.15" text-anchor="middle" fill="#1a1a1a" stroke="#1a1a1a" stroke-width="0.06">0.4</text>
<line x1="443.50" y1="103.40" x2="444.50" y2="103.40" stroke="#8a8a8a" stroke-width="0.6"/>
<text x="442.90" y="104.91" font-size="4.15" text-anchor="end" fill="#1a1a1a" stroke="#1a1a1a" stroke-width="0.06">0.4</text>
<rect x="214.50" y="180.30" width="101.00" height="78.00" fill="none" stroke="#a6a6a6" stroke-width="1"/>
<line x1="227.32" y1="258.30" x2="227.32" y2="259.30" stroke="#8a8a8a" stroke-width="0.6"/>
<text x="227.32" y="263.33" font-size="4.15" text-anchor="middle" fill="#1a1a1a" stroke="#1a1a1a" stroke-width="0.06">−0.4</text>
<line x1="213.50" y1="249.50" x2="214.50" y2="249.50" stroke="#8a8a8a" stroke-width="0.6"/>
<text x="212.90" y="251.01" font-size="4.15" text-anchor="end" fill="#1a1a1a" stroke="#1a1a1a" stroke-width="0.06">−0.4</text>
<line x1="246.16" y1="258.30" x2="246.16" y2="259.30" stroke="#8a8a8a" stroke-width="0.6"/>
<text x="246.16" y="263.33" font-size="4.15" text-anchor="middle" fill="#1a1a1a" stroke="#1a1a1a" stroke-width="0.06">−0.2</text>
<line x1="213.50" y1="234.60" x2="214.50" y2="234.60" stroke="#8a8a8a" stroke-width="0.6"/>
<text x="212.90" y="236.11" font-size="4.15" text-anchor="end" fill="#1a1a1a" stroke="#1a1a1a" stroke-width="0.06">−0.2</text>
<line x1="265.00" y1="258.30" x2="265.00" y2="259.30" stroke="#8a8a8a" stroke-width="0.6"/>
<text x="265.00" y="263.33" font-size="4.15" text-anchor="middle" fill="#1a1a1a" stroke="#1a1a1a" stroke-width="0.06">0.0</text>
<line x1="213.50" y1="219.70" x2="214.50" y2="219.70" stroke="#8a8a8a" stroke-width="0.6"/>
<text x="212.90" y="221.21" font-size="4.15" text-anchor="end" fill="#1a1a1a" stroke="#1a1a1a" stroke-width="0.06">0.0</text>
<line x1="283.84" y1="258.30" x2="283.84" y2="259.30" stroke="#8a8a8a" stroke-width="0.6"/>
<text x="283.84" y="263.33" font-size="4.15" text-anchor="middle" fill="#1a1a1a" stroke="#1a1a1a" stroke-width="0.06">0.2</text>
<line x1="213.50" y1="204.80" x2="214.50" y2="204.80" stroke="#8a8a8a" stroke-width="0.6"/>
<text x="212.90" y="206.31" font-size="4.15" text-anchor="end" fill="#1a1a1a" stroke="#1a1a1a" stroke-width="0.06">0.2</text>
<line x1="302.68" y1="258.30" x2="302.68" y2="259.30" stroke="#8a8a8a" stroke-width="0.6"/>
<text x="302.68" y="263.33" font-size="4.15" text-anchor="middle" fill="#1a1a1a" stroke="#1a1a1a" stroke-width="0.06">0.4</text>
<line x1="213.50" y1="189.90" x2="214.50" y2="189.90" stroke="#8a8a8a" stroke-width="0.6"/>
<text x="212.90" y="191.41" font-size="4.15" text-anchor="end" fill="#1a1a1a" stroke="#1a1a1a" stroke-width="0.06">0.4</text>
<rect x="329.50" y="180.30" width="101.00" height="78.00" fill="none" stroke="#a6a6a6" stroke-width="1"/>
<line x1="342.52" y1="258.30" x2="342.52" y2="259.30" stroke="#8a8a8a" stroke-width="0.6"/>
<text x="342.52" y="263.33" font-size="4.15" text-anchor="middle" fill="#1a1a1a" stroke="#1a1a1a" stroke-width="0.06">−0.4</text>
<line x1="328.50" y1="249.50" x2="329.50" y2="249.50" stroke="#8a8a8a" stroke-width="0.6"/>
<text x="327.90" y="251.01" font-size="4.15" text-anchor="end" fill="#1a1a1a" stroke="#1a1a1a" stroke-width="0.06">−0.4</text>
<line x1="361.36" y1="258.30" x2="361.36" y2="259.30" stroke="#8a8a8a" stroke-width="0.6"/>
<text x="361.36" y="263.33" font-size="4.15" text-anchor="middle" fill="#1a1a1a" stroke="#1a1a1a" stroke-width="0.06">−0.2</text>
<line x1="328.50" y1="234.60" x2="329.50" y2="234.60" stroke="#8a8a8a" stroke-width="0.6"/>
<text x="327.90" y="236.11" font-size="4.15" text-anchor="end" fill="#1a1a1a" stroke="#1a1a1a" stroke-width="0.06">−0.2</text>
<line x1="380.20" y1="258.30" x2="380.20" y2="259.30" stroke="#8a8a8a" stroke-width="0.6"/>
<text x="380.20" y="263.33" font-size="4.15" text-anchor="middle" fill="#1a1a1a" stroke="#1a1a1a" stroke-width="0.06">0.0</text>
<line x1="328.50" y1="219.70" x2="329.50" y2="219.70" stroke="#8a8a8a" stroke-width="0.6"/>
<text x="327.90" y="221.21" font-size="4.15" text-anchor="end" fill="#1a1a1a" stroke="#1a1a1a" stroke-width="0.06">0.0</text>
<line x1="399.04" y1="258.30" x2="399.04" y2="259.30" stroke="#8a8a8a" stroke-width="0.6"/>
<text x="399.04" y="263.33" font-size="4.15" text-anchor="middle" fill="#1a1a1a" stroke="#1a1a1a" stroke-width="0.06">0.2</text>
<line x1="328.50" y1="204.80" x2="329.50" y2="204.80" stroke="#8a8a8a" stroke-width="0.6"/>
<text x="327.90" y="206.31" font-size="4.15" text-anchor="end" fill="#1a1a1a" stroke="#1a1a1a" stroke-width="0.06">0.2</text>
<line x1="417.88" y1="258.30" x2="417.88" y2="259.30" stroke="#8a8a8a" stroke-width="0.6"/>
<text x="417.88" y="263.33" font-size="4.15" text-anchor="middle" fill="#1a1a1a" stroke="#1a1a1a" stroke-width="0.06">0.4</text>
<line x1="328.50" y1="189.90" x2="329.50" y2="189.90" stroke="#8a8a8a" stroke-width="0.6"/>
<text x="327.90" y="191.41" font-size="4.15" text-anchor="end" fill="#1a1a1a" stroke="#1a1a1a" stroke-width="0.06">0.4</text>
<rect x="444.50" y="180.30" width="101.00" height="78.00" fill="none" stroke="#a6a6a6" stroke-width="1"/>
<line x1="457.62" y1="258.30" x2="457.62" y2="259.30" stroke="#8a8a8a" stroke-width="0.6"/>
<text x="457.62" y="263.33" font-size="4.15" text-anchor="middle" fill="#1a1a1a" stroke="#1a1a1a" stroke-width="0.06">−0.4</text>
<line x1="443.50" y1="249.50" x2="444.50" y2="249.50" stroke="#8a8a8a" stroke-width="0.6"/>
<text x="442.90" y="251.01" font-size="4.15" text-anchor="end" fill="#1a1a1a" stroke="#1a1a1a" stroke-width="0.06">−0.4</text>
<line x1="476.46" y1="258.30" x2="476.46" y2="259.30" stroke="#8a8a8a" stroke-width="0.6"/>
<text x="476.46" y="263.33" font-size="4.15" text-anchor="middle" fill="#1a1a1a" stroke="#1a1a1a" stroke-width="0.06">−0.2</text>
<line x1="443.50" y1="234.60" x2="444.50" y2="234.60" stroke="#8a8a8a" stroke-width="0.6"/>
<text x="442.90" y="236.11" font-size="4.15" text-anchor="end" fill="#1a1a1a" stroke="#1a1a1a" stroke-width="0.06">−0.2</text>
<line x1="495.30" y1="258.30" x2="495.30" y2="259.30" stroke="#8a8a8a" stroke-width="0.6"/>
<text x="495.30" y="263.33" font-size="4.15" text-anchor="middle" fill="#1a1a1a" stroke="#1a1a1a" stroke-width="0.06">0.0</text>
<line x1="443.50" y1="219.70" x2="444.50" y2="219.70" stroke="#8a8a8a" stroke-width="0.6"/>
<text x="442.90" y="221.21" font-size="4.15" text-anchor="end" fill="#1a1a1a" stroke="#1a1a1a" stroke-width="0.06">0.0</text>
<line x1="514.14" y1="258.30" x2="514.14" y2="259.30" stroke="#8a8a8a" stroke-width="0.6"/>
<text x="514.14" y="263.33" font-size="4.15" text-anchor="middle" fill="#1a1a1a" stroke="#1a1a1a" stroke-width="0.06">0.2</text>
<line x1="443.50" y1="204.80" x2="444.50" y2="204.80" stroke="#8a8a8a" stroke-width="0.6"/>
<text x="442.90" y="206.31" font-size="4.15" text-anchor="end" fill="#1a1a1a" stroke="#1a1a1a" stroke-width="0.06">0.2</text>
<line x1="532.98" y1="258.30" x2="532.98" y2="259.30" stroke="#8a8a8a" stroke-width="0.6"/>
<text x="532.98" y="263.33" font-size="4.15" text-anchor="middle" fill="#1a1a1a" stroke="#1a1a1a" stroke-width="0.06">0.4</text>
<line x1="443.50" y1="189.90" x2="444.50" y2="189.90" stroke="#8a8a8a" stroke-width="0.6"/>
<text x="442.90" y="191.41" font-size="4.15" text-anchor="end" fill="#1a1a1a" stroke="#1a1a1a" stroke-width="0.06">0.4</text>
<rect x="214.50" y="267.20" width="101.00" height="78.40" fill="none" stroke="#a6a6a6" stroke-width="1"/>
<line x1="227.32" y1="345.60" x2="227.32" y2="346.60" stroke="#8a8a8a" stroke-width="0.6"/>
<text x="227.32" y="350.63" font-size="4.15" text-anchor="middle" fill="#1a1a1a" stroke="#1a1a1a" stroke-width="0.06">−0.4</text>
<line x1="213.50" y1="336.10" x2="214.50" y2="336.10" stroke="#8a8a8a" stroke-width="0.6"/>
<text x="212.90" y="337.61" font-size="4.15" text-anchor="end" fill="#1a1a1a" stroke="#1a1a1a" stroke-width="0.06">−0.4</text>
<line x1="246.16" y1="345.60" x2="246.16" y2="346.60" stroke="#8a8a8a" stroke-width="0.6"/>
<text x="246.16" y="350.63" font-size="4.15" text-anchor="middle" fill="#1a1a1a" stroke="#1a1a1a" stroke-width="0.06">−0.2</text>
<line x1="213.50" y1="321.25" x2="214.50" y2="321.25" stroke="#8a8a8a" stroke-width="0.6"/>
<text x="212.90" y="322.76" font-size="4.15" text-anchor="end" fill="#1a1a1a" stroke="#1a1a1a" stroke-width="0.06">−0.2</text>
<line x1="265.00" y1="345.60" x2="265.00" y2="346.60" stroke="#8a8a8a" stroke-width="0.6"/>
<text x="265.00" y="350.63" font-size="4.15" text-anchor="middle" fill="#1a1a1a" stroke="#1a1a1a" stroke-width="0.06">0.0</text>
<line x1="213.50" y1="306.40" x2="214.50" y2="306.40" stroke="#8a8a8a" stroke-width="0.6"/>
<text x="212.90" y="307.91" font-size="4.15" text-anchor="end" fill="#1a1a1a" stroke="#1a1a1a" stroke-width="0.06">0.0</text>
<line x1="283.84" y1="345.60" x2="283.84" y2="346.60" stroke="#8a8a8a" stroke-width="0.6"/>
<text x="283.84" y="350.63" font-size="4.15" text-anchor="middle" fill="#1a1a1a" stroke="#1a1a1a" stroke-width="0.06">0.2</text>
<line x1="213.50" y1="291.55" x2="214.50" y2="291.55" stroke="#8a8a8a" stroke-width="0.6"/>
<text x="212.90" y="293.06" font-size="4.15" text-anchor="end" fill="#1a1a1a" stroke="#1a1a1a" stroke-width="0.06">0.2</text>
<line x1="302.68" y1="345.60" x2="302.68" y2="346.60" stroke="#8a8a8a" stroke-width="0.6"/>
<text x="302.68" y="350.63" font-size="4.15" text-anchor="middle" fill="#1a1a1a" stroke="#1a1a1a" stroke-width="0.06">0.4</text>
<line x1="213.50" y1="276.70" x2="214.50" y2="276.70" stroke="#8a8a8a" stroke-width="0.6"/>
<text x="212.90" y="278.21" font-size="4.15" text-anchor="end" fill="#1a1a1a" stroke="#1a1a1a" stroke-width="0.06">0.4</text>
<rect x="329.50" y="267.20" width="101.00" height="78.40" fill="none" stroke="#a6a6a6" stroke-width="1"/>
<line x1="342.52" y1="345.60" x2="342.52" y2="346.60" stroke="#8a8a8a" stroke-width="0.6"/>
<text x="342.52" y="350.63" font-size="4.15" text-anchor="middle" fill="#1a1a1a" stroke="#1a1a1a" stroke-width="0.06">−0.4</text>
<line x1="328.50" y1="336.10" x2="329.50" y2="336.10" stroke="#8a8a8a" stroke-width="0.6"/>
<text x="327.90" y="337.61" font-size="4.15" text-anchor="end" fill="#1a1a1a" stroke="#1a1a1a" stroke-width="0.06">−0.4</text>
<line x1="361.36" y1="345.60" x2="361.36" y2="346.60" stroke="#8a8a8a" stroke-width="0.6"/>
<text x="361.36" y="350.63" font-size="4.15" text-anchor="middle" fill="#1a1a1a" stroke="#1a1a1a" stroke-width="0.06">−0.2</text>
<line x1="328.50" y1="321.25" x2="329.50" y2="321.25" stroke="#8a8a8a" stroke-width="0.6"/>
<text x="327.90" y="322.76" font-size="4.15" text-anchor="end" fill="#1a1a1a" stroke="#1a1a1a" stroke-width="0.06">−0.2</text>
<line x1="380.20" y1="345.60" x2="380.20" y2="346.60" stroke="#8a8a8a" stroke-width="0.6"/>
<text x="380.20" y="350.63" font-size="4.15" text-anchor="middle" fill="#1a1a1a" stroke="#1a1a1a" stroke-width="0.06">0.0</text>
<line x1="328.50" y1="306.40" x2="329.50" y2="306.40" stroke="#8a8a8a" stroke-width="0.6"/>
<text x="327.90" y="307.91" font-size="4.15" text-anchor="end" fill="#1a1a1a" stroke="#1a1a1a" stroke-width="0.06">0.0</text>
<line x1="399.04" y1="345.60" x2="399.04" y2="346.60" stroke="#8a8a8a" stroke-width="0.6"/>
<text x="399.04" y="350.63" font-size="4.15" text-anchor="middle" fill="#1a1a1a" stroke="#1a1a1a" stroke-width="0.06">0.2</text>
<line x1="328.50" y1="291.55" x2="329.50" y2="291.55" stroke="#8a8a8a" stroke-width="0.6"/>
<text x="327.90" y="293.06" font-size="4.15" text-anchor="end" fill="#1a1a1a" stroke="#1a1a1a" stroke-width="0.06">0.2</text>
<line x1="417.88" y1="345.60" x2="417.88" y2="346.60" stroke="#8a8a8a" stroke-width="0.6"/>
<text x="417.88" y="350.63" font-size="4.15" text-anchor="middle" fill="#1a1a1a" stroke="#1a1a1a" stroke-width="0.06">0.4</text>
<line x1="328.50" y1="276.70" x2="329.50" y2="276.70" stroke="#8a8a8a" stroke-width="0.6"/>
<text x="327.90" y="278.21" font-size="4.15" text-anchor="end" fill="#1a1a1a" stroke="#1a1a1a" stroke-width="0.06">0.4</text>
<rect x="444.50" y="267.20" width="101.00" height="78.40" fill="none" stroke="#a6a6a6" stroke-width="1"/>
<line x1="457.62" y1="345.60" x2="457.62" y2="346.60" stroke="#8a8a8a" stroke-width="0.6"/>
<text x="457.62" y="350.63" font-size="4.15" text-anchor="middle" fill="#1a1a1a" stroke="#1a1a1a" stroke-width="0.06">−0.4</text>
<line x1="443.50" y1="336.10" x2="444.50" y2="336.10" stroke="#8a8a8a" stroke-width="0.6"/>
<text x="442.90" y="337.61" font-size="4.15" text-anchor="end" fill="#1a1a1a" stroke="#1a1a1a" stroke-width="0.06">−0.4</text>
<line x1="476.46" y1="345.60" x2="476.46" y2="346.60" stroke="#8a8a8a" stroke-width="0.6"/>
<text x="476.46" y="350.63" font-size="4.15" text-anchor="middle" fill="#1a1a1a" stroke="#1a1a1a" stroke-width="0.06">−0.2</text>
<line x1="443.50" y1="321.25" x2="444.50" y2="321.25" stroke="#8a8a8a" stroke-width="0.6"/>
<text x="442.90" y="322.76" font-size="4.15" text-anchor="end" fill="#1a1a1a" stroke="#1a1a1a" stroke-width="0.06">−0.2</text>
<line x1="495.30" y1="345.60" x2="495.30" y2="346.60" stroke="#8a8a8a" stroke-width="0.6"/>
<text x="495.30" y="350.63" font-size="4.15" text-anchor="middle" fill="#1a1a1a" stroke="#1a1a1a" stroke-width="0.06">0.0</text>
<line x1="443.50" y1="306.40" x2="444.50" y2="306.40" stroke="#8a8a8a" stroke-width="0.6"/>
<text x="442.90" y="307.91" font-size="4.15" text-anchor="end" fill="#1a1a1a" stroke="#1a1a1a" stroke-width="0.06">0.0</text>
<line x1="514.14" y1="345.60" x2="514.14" y2="346.60" stroke="#8a8a8a" stroke-width="0.6"/>
<text x="514.14" y="350.63" font-size="4.15" text-anchor="middle" fill="#1a1a1a" stroke="#1a1a1a" stroke-width="0.06">0.2</text>
<line x1="443.50" y1="291.55" x2="444.50" y2="291.55" stroke="#8a8a8a" stroke-width="0.6"/>
<text x="442.90" y="293.06" font-size="4.15" text-anchor="end" fill="#1a1a1a" stroke="#1a1a1a" stroke-width="0.06">0.2</text>
<line x1="532.98" y1="345.60" x2="532.98" y2="346.60" stroke="#8a8a8a" stroke-width="0.6"/>
<text x="532.98" y="350.63" font-size="4.15" text-anchor="middle" fill="#1a1a1a" stroke="#1a1a1a" stroke-width="0.06">0.4</text>
<line x1="443.50" y1="276.70" x2="444.50" y2="276.70" stroke="#8a8a8a" stroke-width="0.6"/>
<text x="442.90" y="278.21" font-size="4.15" text-anchor="end" fill="#1a1a1a" stroke="#1a1a1a" stroke-width="0.06">0.4</text>
<text x="6.00" y="14.70" font-size="10.0" text-anchor="start" fill="#1a1a1a" stroke="#1a1a1a" stroke-width="0.25">A</text>
<text x="6.50" y="173.20" font-size="10.0" text-anchor="start" fill="#1a1a1a" stroke="#1a1a1a" stroke-width="0.25">B</text>
<text x="115.20" y="14.40" font-size="8.7" text-anchor="middle" fill="#1a1a1a" stroke="#1a1a1a" stroke-width="0.25">MACCS keys</text>
<text x="115.20" y="173.70" font-size="8.7" text-anchor="middle" fill="#1a1a1a" stroke="#1a1a1a" stroke-width="0.25">MAP4</text>
<text x="115.30" y="161.70" font-size="8.1" text-anchor="middle" fill="#1a1a1a" stroke="#1a1a1a" stroke-width="0.25">TMAP Dimension 1</text>
<text x="115.30" y="321.20" font-size="8.1" text-anchor="middle" fill="#1a1a1a" stroke="#1a1a1a" stroke-width="0.25">TMAP Dimension 1</text>
<text transform="translate(14.2,81.3) rotate(-90)" font-size="8.1" text-anchor="middle" fill="#1a1a1a" stroke="#1a1a1a" stroke-width="0.25">TMAP Dimension 2</text>
<text transform="translate(14.2,241) rotate(-90)" font-size="8.1" text-anchor="middle" fill="#1a1a1a" stroke="#1a1a1a" stroke-width="0.25">TMAP Dimension 1</text>
<rect x="142.5" y="321.9" width="54.3" height="59.4" rx="1" fill="#fff" stroke="#dcdcdc" stroke-width="0.6"/>
<circle cx="148.2" cy="327.80" r="1.3" fill="#ffe10a"/>
<text x="158.50" y="330.08" font-size="6.25" text-anchor="start" fill="#1a1a1a" stroke="#1a1a1a" stroke-width="0.1">Brazil</text>
<circle cx="148.2" cy="337.32" r="1.3" fill="#00bfff"/>
<text x="158.50" y="339.60" font-size="6.25" text-anchor="start" fill="#1a1a1a" stroke="#1a1a1a" stroke-width="0.1">Costa Rica</text>
<circle cx="148.2" cy="346.84" r="1.3" fill="#ff00ff"/>
<text x="158.50" y="349.12" font-size="6.25" text-anchor="start" fill="#1a1a1a" stroke="#1a1a1a" stroke-width="0.1">El Salvador</text>
<circle cx="148.2" cy="356.36" r="1.3" fill="#007020"/>
<text x="158.50" y="358.64" font-size="6.25" text-anchor="start" fill="#1a1a1a" stroke="#1a1a1a" stroke-width="0.1">Mexico</text>
<circle cx="148.2" cy="365.88" r="1.3" fill="#ff1478"/>
<text x="158.50" y="368.16" font-size="6.25" text-anchor="start" fill="#1a1a1a" stroke="#1a1a1a" stroke-width="0.1">Panama</text>
<circle cx="148.2" cy="375.40" r="1.3" fill="#9a6a1e"/>
<text x="158.50" y="377.68" font-size="6.25" text-anchor="start" fill="#1a1a1a" stroke="#1a1a1a" stroke-width="0.1">Peru</text>
<rect x="291.60" y="9.01" width="23.10" height="7.38" rx="0.8" fill="#fff" fill-opacity="0.8" stroke="#e2e2e2" stroke-width="0.5"/>
<circle cx="294.40" cy="12.80" r="0.85" fill="#ffe10a"/>
<text x="311.35" y="14.33" font-size="4.4719999999999995" text-anchor="end" fill="#1a1a1a" stroke="#1a1a1a" stroke-width="0.18">Brazil</text>
<rect x="395.70" y="8.97" width="34.20" height="7.55" rx="0.8" fill="#fff" fill-opacity="0.8" stroke="#e2e2e2" stroke-width="0.5"/>
<circle cx="398.50" cy="12.90" r="0.85" fill="#00bfff"/>
<text x="426.55" y="14.42" font-size="4.5760000000000005" text-anchor="end" fill="#1a1a1a" stroke="#1a1a1a" stroke-width="0.18">Costa Rica</text>
<rect x="509.40" y="8.85" width="35.10" height="7.29" rx="0.8" fill="#fff" fill-opacity="0.8" stroke="#e2e2e2" stroke-width="0.5"/>
<circle cx="512.20" cy="12.80" r="0.85" fill="#ff00ff"/>
<text x="541.15" y="14.11" font-size="4.42" text-anchor="end" fill="#1a1a1a" stroke="#1a1a1a" stroke-width="0.18">El Salvador</text>
<rect x="288.60" y="95.84" width="26.10" height="7.33" rx="0.8" fill="#fff" fill-opacity="0.8" stroke="#e2e2e2" stroke-width="0.5"/>
<circle cx="291.40" cy="99.60" r="0.85" fill="#0a9030"/>
<text x="311.35" y="101.12" font-size="4.440799999999999" text-anchor="end" fill="#1a1a1a" stroke="#1a1a1a" stroke-width="0.18">Mexico</text>
<rect x="401.50" y="95.45" width="28.40" height="7.29" rx="0.8" fill="#fff" fill-opacity="0.8" stroke="#e2e2e2" stroke-width="0.5"/>
<circle cx="404.30" cy="99.60" r="0.85" fill="#ff1478"/>
<text x="426.55" y="100.71" font-size="4.42" text-anchor="end" fill="#1a1a1a" stroke="#1a1a1a" stroke-width="0.18">Panama</text>
<rect x="524.60" y="95.41" width="20.40" height="7.38" rx="0.8" fill="#fff" fill-opacity="0.8" stroke="#e2e2e2" stroke-width="0.5"/>
<circle cx="527.40" cy="99.30" r="0.85" fill="#9a6a1e"/>
<text x="541.65" y="100.73" font-size="4.4719999999999995" text-anchor="end" fill="#1a1a1a" stroke="#1a1a1a" stroke-width="0.18">Peru</text>
<rect x="294.70" y="182.27" width="20.60" height="6.26" rx="0.8" fill="#fff" fill-opacity="0.8" stroke="#e2e2e2" stroke-width="0.5"/>
<circle cx="297.50" cy="185.50" r="0.85" fill="#ffe10a"/>
<text x="311.95" y="186.78" font-size="3.796" text-anchor="end" fill="#222">Brazil</text>
<rect x="403.30" y="181.91" width="27.50" height="5.78" rx="0.8" fill="#fff" fill-opacity="0.8" stroke="#e2e2e2" stroke-width="0.5"/>
<circle cx="406.10" cy="184.90" r="0.85" fill="#00bfff"/>
<text x="427.45" y="186.08" font-size="3.5048000000000004" text-anchor="end" fill="#222">Costa Rica</text>
<rect x="509.70" y="182.44" width="35.30" height="7.52" rx="0.8" fill="#fff" fill-opacity="0.8" stroke="#e2e2e2" stroke-width="0.5"/>
<circle cx="512.50" cy="186.50" r="0.85" fill="#ff00ff"/>
<text x="541.65" y="187.86" font-size="4.5552" text-anchor="end" fill="#1a1a1a" stroke="#1a1a1a" stroke-width="0.18">El Salvador</text>
<rect x="292.90" y="268.97" width="22.40" height="6.06" rx="0.8" fill="#fff" fill-opacity="0.8" stroke="#e2e2e2" stroke-width="0.5"/>
<circle cx="295.70" cy="272.30" r="0.85" fill="#0a9030"/>
<text x="311.95" y="273.34" font-size="3.6712" text-anchor="end" fill="#222">Mexico</text>
<rect x="401.50" y="269.39" width="28.70" height="7.41" rx="0.8" fill="#fff" fill-opacity="0.8" stroke="#e2e2e2" stroke-width="0.5"/>
<circle cx="404.30" cy="273.40" r="0.85" fill="#ff1478"/>
<text x="426.85" y="274.74" font-size="4.492800000000001" text-anchor="end" fill="#1a1a1a" stroke="#1a1a1a" stroke-width="0.18">Panama</text>
<rect x="524.30" y="269.31" width="20.70" height="7.38" rx="0.8" fill="#fff" fill-opacity="0.8" stroke="#e2e2e2" stroke-width="0.5"/>
<circle cx="527.10" cy="273.30" r="0.85" fill="#9a6a1e"/>
<text x="541.65" y="274.63" font-size="4.4719999999999995" text-anchor="end" fill="#1a1a1a" stroke="#1a1a1a" stroke-width="0.18">Peru</text>
</svg></body></html>
